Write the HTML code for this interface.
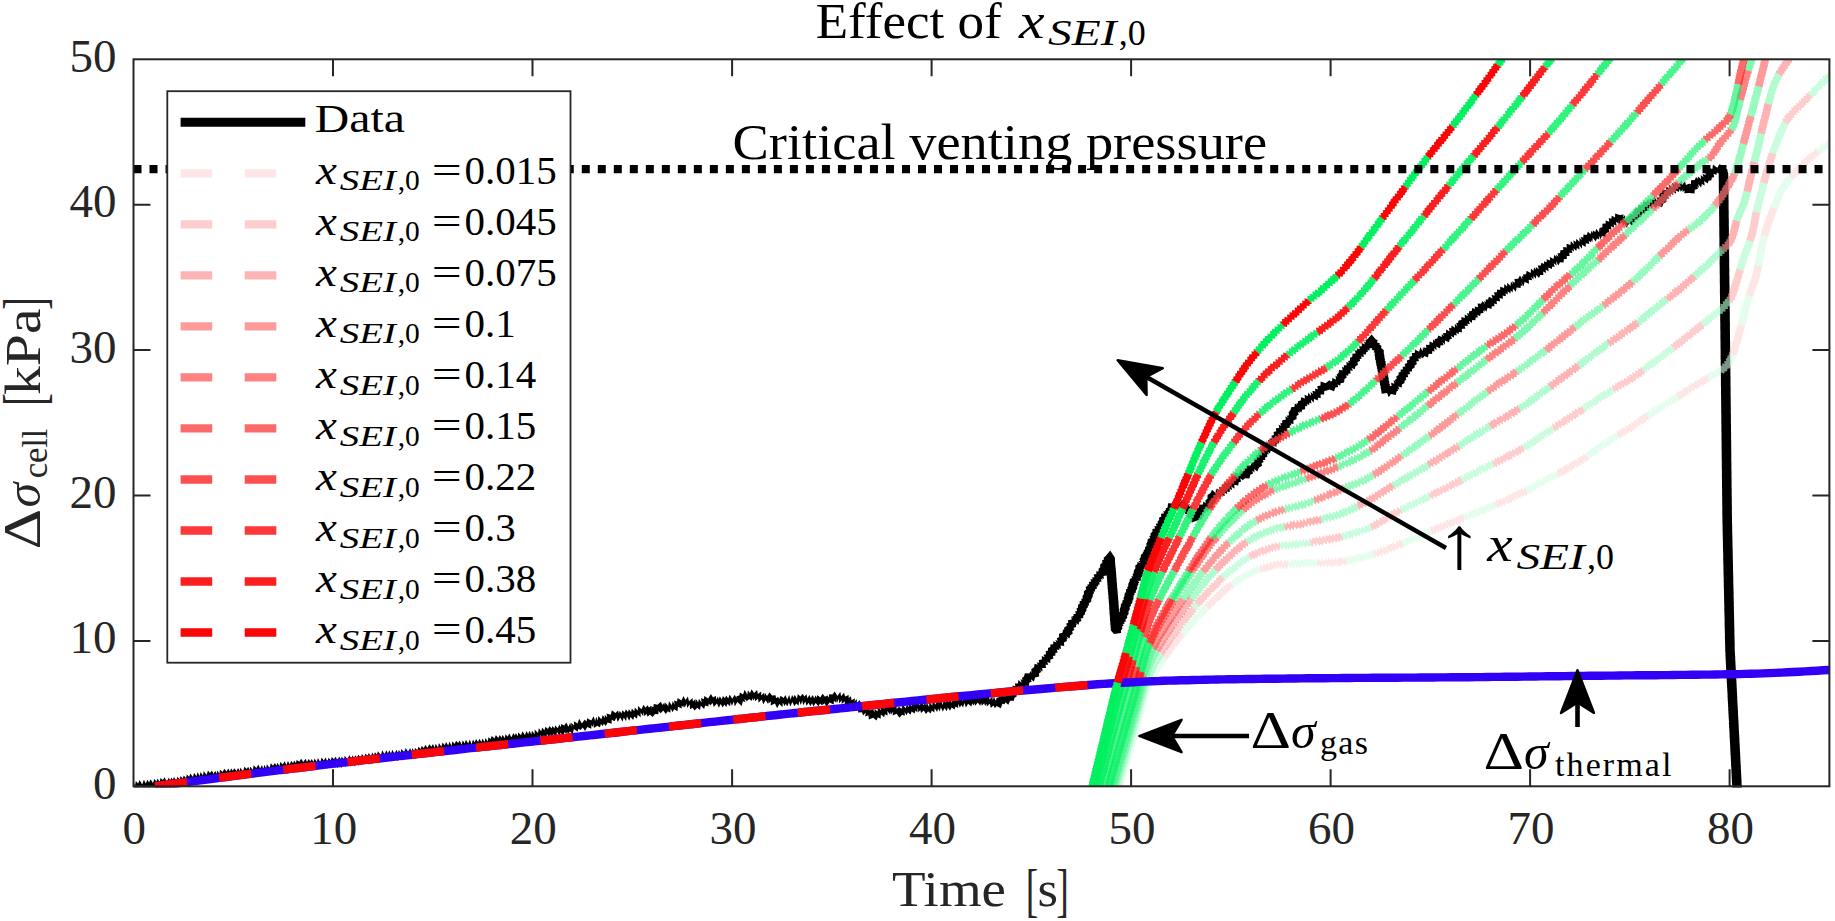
<!DOCTYPE html>
<html lang="en"><head><meta charset="utf-8"><title>Effect of x SEI,0</title>
<style>html,body{margin:0;padding:0;background:#fff;overflow:hidden}svg{display:block}</style></head><body>
<svg width="1835" height="921" viewBox="0 0 1835 921" font-family='"Liberation Serif", "DejaVu Serif", serif' fill="#262626">
<rect width="1835" height="921" fill="#fff"/>
<defs><clipPath id="ax"><rect x="133.5" y="59.3" width="1695.9" height="728.2"/></clipPath>
</defs>
<g clip-path="url(#ax)" fill="none" stroke-linejoin="miter" stroke-miterlimit="3">
<path d="M133.2 781.2L135.1 785.6L135.8 781L138.1 783.5L139.6 780.1L142.2 784.6L143.9 779.8L145.8 783.5L147.3 779.7L149.1 782.5L150.5 779.3L153 782.9L154.4 778.8L156.4 781.7L157.5 778.5L159.7 782.1L160.5 777.9L162.9 780.1L164.7 777.3L166.7 782L168.8 777.4L170.1 780.4L171.3 777.6L172.8 779.7L174 777.1L176.5 781.4L177.4 776.5L179.6 779.4L180.6 776L182.7 778.4L183.7 775.4L186 778L186.8 774.5L189.2 776.7L190.3 773.6L193 777L194.1 772.8L196.4 776.2L197.6 772.3L199.7 775.9L200.5 771.9L203 775.5L203.7 771.1L206.5 775L208 770.4L210 772.9L211.9 770.4L213.5 773.7L215.3 770.7L216.5 773.9L217.3 770.6L219.4 773.7L220 769.8L222.7 772.1L224.3 768.8L226.6 771.6L228.3 768.6L229.9 771.5L231.2 768.6L232.9 770.8L234.2 768.2L236.5 771.1L238.1 767.9L239.7 770.9L240.3 767.6L243 771.4L244.4 766.7L246.7 769.1L248.2 766.7L249.7 770.2L250.1 766.5L252.9 770.1L253.6 765.3L256.4 768L258.3 764.6L260.1 768.4L262 764.9L263.3 769.4L264.2 764.8L266.2 768.4L266.8 764.2L269.7 768L270.8 763.2L273.1 765.7L274.9 762.9L276.5 765.8L277.3 762.8L279.5 766.1L280.2 762L282.9 764.4L284.5 761.2L286.5 765L287.9 761L289.8 764.4L291.2 760.7L293.1 763.2L294.2 760.5L295.9 763L296.6 759.9L299.3 761.8L301.1 758.7L303.4 761.9L305.5 758.7L307 762.1L308.7 758.9L310.2 761.5L311.7 758.9L313.5 762.1L314.6 758.6L316.8 762.1L317.9 758.1L320.3 762.2L321.6 757.5L323.8 760.5L325.7 757.4L327.3 761.7L328.7 757.4L330.5 760.6L331.8 757.1L333.9 759.2L335.5 756.7L337.5 759.9L339.2 756.6L340.8 759.5L341.8 756.5L344 760.3L344.7 755.8L347.4 759L349.4 755.2L351.2 758.2L352.7 755.3L354.2 758.7L355.1 755.1L357.2 757.9L358.2 754.5L360.8 758.2L361.9 753.7L364.3 757.6L365.5 753.4L367.4 755.9L368.8 752.9L370.9 756.4L372.2 752.5L374.1 755.6L374.9 752.2L377 754.6L377.9 751.2L381 755.3L382.2 750.3L384.5 754.3L386.3 750.2L387.9 753.6L389.2 750.2L391 753.5L392.4 749.8L394.5 754L396.4 749.7L398 753.1L398.9 749.8L400.9 753.6L401.1 749.1L404.2 752.1L405.8 747.9L408.1 751.8L410.2 748.1L411.4 751.8L412.5 748.1L414.3 751.5L415 747.7L417.4 750.2L418.5 746.8L420.7 749L421.6 746.1L423.9 747.9L425.2 745.1L427.7 747.7L429.2 744.3L431.4 746.8L432.9 744.1L434.7 747.8L435.6 743.8L438 747.6L438.9 743.1L441.4 746.8L442.4 742.4L444.7 745.2L446.1 741.9L448.2 745.5L449.5 741.6L451.5 745.9L452.4 741.2L454.6 743.9L456.1 740.7L458.1 743L459.7 740.5L461.6 744.7L462.7 740.3L464.7 743.6L465.9 739.8L468.2 743.5L469.8 739.5L471.6 744.2L473 739.4L474.7 742.4L476 739.1L478.1 742.1L479.4 738.7L481.4 742.1L482.5 738.4L484.6 741.9L485.4 737.9L487.9 741.4L488.4 737.2L490.6 738.9L491.7 736.1L494.5 738.6L495.9 735.1L498.2 737.9L499.8 734.9L501.5 737.8L502.6 734.7L504.7 738.3L505.5 734.2L507.8 736.8L509.1 733.5L511.5 737.3L513.3 733.1L514.9 735.6L515.9 733.1L517.7 736.2L518.2 732.5L521.1 735.3L522.4 731.3L524.9 735L526.5 731L528.2 734.2L529.4 730.8L531.4 734.4L531.9 730.4L534.6 734.2L534.7 729.4L538 733.1L538.8 728.2L541.3 731.3L542.1 727.5L544.4 730.3L545.4 726.7L547.9 729L549.6 726.1L551.5 728.5L552.6 725.9L554.4 728.4L555.3 725.4L557.8 728.2L559.2 724.4L561 727.3L561.1 724L564.2 725.4L566.3 722.6L568.4 726.8L570.2 722.8L571.4 727.1L571.1 722.7L574.2 725.5L573.8 721.2L577.6 723.4L579.2 718.8L581.9 723.5L584.7 719.5L585 723.5L584.8 719.7L586.6 721.4L587.1 718.2L591.2 720.5L593.6 716.2L595.2 721L596.2 716.7L597.9 720.4L598.2 716L601.4 719.3L602.7 714.9L604.8 718L604.8 714.8L607 717.3L606.6 713.5L610.7 714.8L611.9 710.2L615.3 712.9L618.1 710.4L618.8 713.6L619.7 710.7L621.4 713.6L622.5 710.3L624.5 712.4L625.9 709.6L628 712L628.9 709.2L631.1 712L631.8 708.5L634.4 711.3L634.7 707.5L637.8 710.5L638 706.1L641.5 709.2L643.5 704.8L645.5 707.8L647.6 705.2L649.1 707.8L650.8 705.8L651.7 710L651.2 705.9L653.3 707.3L653.8 704L657.6 704.7L660.7 701.7L662.6 705.1L664.3 702.6L665 705.4L665.4 702.5L668.2 706.1L669 701.3L671.8 705.2L672.7 700.9L674.7 704.8L674 700.4L677 701.5L677.6 697.9L681.5 700.6L683.5 696.1L685.5 700L687.9 696.6L689 701.3L692.5 698L692.9 701.6L695.4 699.1L695.7 702.5L696.4 699.3L698.2 702.6L698.9 698.7L701.6 702.5L701 698L703.9 699.3L704.3 695.9L708.2 698.5L710.9 694L713.1 697.5L715.9 695.7L716.1 699.4L717.9 696.4L718.7 699.3L719.8 696.3L721.8 699.5L722.9 695.9L725 698.2L726.2 695.4L728.2 698.4L729.7 694.6L732.2 698.8L734.7 694.8L736.2 697.6L738.1 695.4L738 698.8L736.3 696.2L739.4 695.6L739.9 692.5L743 694.4L744.7 689.8L747.3 694.7L747.9 690.2L750 693.2L751.6 689.3L754.1 693.1L757.1 690L757.9 694.1L761.1 691.6L761.3 695.5L763.9 692.7L764.1 696.1L764.9 692.8L767 695.9L769.6 692.4L772 695.6L775.5 695.3L776.1 698.2L777.7 697L777.3 699.4L777.8 696.7L779.5 698.8L780.5 695.7L783.6 697.9L785.5 695L787.3 699.5L789.1 695L790.6 699.5L792.1 695.1L793.6 697.5L794.7 694.8L796.9 698.4L797.8 694L800.5 696.5L802.6 693.8L804.4 696.4L806.5 694.3L807.5 698.4L809.4 694.7L810.8 698.1L812.8 694.9L814.2 698.6L815.6 695.2L816.7 697.8L817.3 694.9L820.2 697.6L822.6 693.7L825 696.8L827.7 695.3L827.7 698.1L827.3 695.6L828.9 697.5L829.1 694.3L832.5 694.5L834.7 691.5L837.4 696.1L840.3 691.8L841.1 696.3L844 692.8L845.1 696.5L848.6 695L848.8 698.1L851 696.3L851.5 700.3L855 698.3L854.6 701.5L856.9 699.1L856.8 703.1L859.8 700L860.9 703.4L864.2 703.2L863.7 706.6L866 704.9L865.3 709.2L869.2 706L869.4 710.4L873.4 709.1L873.2 711.9L873.8 709.6L874.3 712.5L874.8 709.1L877.5 711.4L878 707.7L880.9 710L881.2 706.4L884.5 708.8L885.1 704.5L888.2 707.1L890 703.3L892.5 707.4L896.4 704.7L896.7 709.1L899.3 706.5L899 710.9L898.6 706.4L901.6 708.8L902.6 704.5L905.7 708.2L906.9 703.9L908.8 707.3L909.3 703.4L912 706.6L912.2 702.3L915.2 704L917.3 701L919.5 705.2L922.5 701.8L923.4 705.2L925.5 702.7L926 705.7L926.9 702.7L929.1 707L929.4 702.1L932.2 705.4L933.1 701L935.7 704.7L936.7 700.3L939.2 702.9L941.2 700.1L942.7 705L943.8 700L945.6 702.7L947 699.6L949 702.3L949.7 699.4L952 702.7L952.1 698.5L955.1 700.6L956.3 696.8L959.1 699.1L960.6 696.3L962.6 700.9L964.5 696L966 700.7L966.7 696.2L968.6 699.1L969 695.3L972.2 697.2L974.8 694.2L976.4 698.1L977.9 694.7L979 697.3L981 694.2L982.9 698.2L984.5 694.6L986.1 697L988.8 695.1L989.5 699.6L992.5 696.6L992.5 700.3L994.1 696.9L995.5 700.4L997.7 697.2L997.7 700.5L996.2 697.9L999.1 697.3L1000.7 694L1004.2 696.7L1006 693.4L1006.4 696.2L1005.3 694L1007.8 695.5L1006.9 692.3L1009.7 691.5L1009.7 688.4L1012.7 688.4L1012.5 685.5L1015.5 686.3L1014.8 683.4L1017.9 683.4L1018.4 680L1021.7 682.7L1020.5 679.1L1022.6 680.3L1021.9 677.9L1024 676.6L1024.8 673.2L1029.1 673.6L1031.1 670.7L1031.3 673.4L1029.6 671.9L1031.7 672.4L1031.2 669.2L1034 667.2L1034.7 663.7L1037.7 664.7L1036.8 662.3L1039.2 662.7L1038.7 660L1041.9 659.4L1041.8 656.1L1044.7 657.2L1043.5 654.8L1046.1 654.2L1045.7 651.3L1048.1 650.4L1048 647.9L1050.3 647.1L1050.3 644.6L1053.2 644.3L1053.3 641.2L1056.4 642.6L1055.3 639.8L1057.8 640.9L1056.7 638.4L1059.1 637.1L1058.9 633.7L1062.4 632.7L1063.1 629.3L1064.9 632.1L1062.9 630.2L1064.2 629.6L1064.3 627.3L1066.8 625.9L1066.3 623.6L1068.2 622.7L1068.1 620.1L1071.6 619.8L1071.4 616.3L1073.7 618.5L1072 616.3L1073.6 616.1L1073.5 614L1076 613.7L1075 611.6L1077.1 610.9L1076.4 608.8L1078.1 607.4L1077.9 605.1L1079.8 603.6L1079.6 601.2L1081.8 600.4L1081.2 598.8L1082.8 598.4L1082.4 596.3L1083.9 594.1L1083.9 591.3L1086.1 589.5L1085.7 586.8L1087.7 586.1L1087.3 584.5L1089.3 584.2L1088.8 582L1091.2 581.5L1090.5 579.2L1092.7 579.2L1092 577.4L1094.4 577.2L1093.6 574.5L1096.4 574L1096.2 571.2L1098.4 571.8L1097.6 570.2L1099.1 571L1098.4 569.1L1100.2 567.3L1100.1 564.5L1102.4 562.8L1102.1 560.3L1104 559.6L1103.6 557.8L1105.5 556.3L1110.2 550.4L1114.8 557.6L1115 559.8L1115 562L1115.3 563.9L1115.2 565.2L1115.5 566.1L1115.5 567.3L1115.8 568.7L1115.8 570.5L1116.1 572.3L1116.1 573.8L1116.3 575.1L1116.3 576.8L1116.6 578.7L1116.6 580.9L1116.9 582.8L1116.9 584.2L1117.1 585.6L1117.1 587.3L1117.4 588.8L1117.4 590.3L1117.7 591.8L1117.7 593.4L1117.9 595L1118 596.9L1118.2 598.7L1118.2 600.1L1118.5 601.5L1118.5 603.2L1118.7 605.4L1118.8 607.9L1119 610.2L1119 612.3L1119.3 613.9L1119.3 615.5L1119.5 617.4L1119.6 619.5L1119.8 621.6L1119.8 623.4L1120.1 625.1L1120.1 626.5L1120.4 628L1120.4 629.9L1119.7 628.8L1112.5 629.5L1112.3 627.7L1113.6 626.1L1113.5 623.7L1115.3 622.1L1114.9 620.1L1116.9 619.5L1116.3 617.5L1118 617.3L1117.3 615.8L1118.7 614.8L1118.5 613.1L1119.7 611.4L1119.7 609L1120.7 606.7L1120.9 604.2L1122.5 602.4L1122.3 600.4L1123.9 599.9L1123.4 598.2L1124.4 596.2L1124.6 593.7L1126.1 591.6L1126 589.2L1127.6 588.4L1127.2 587.2L1128.3 586L1128.3 583.7L1129.5 581.6L1129.8 579.1L1132 578L1131.5 576.1L1133.5 576.5L1132.5 574.8L1133.6 573.3L1133.8 570.7L1135.4 568.2L1135.3 565.5L1137.4 564.1L1137.3 561.9L1140 562.9L1138.3 560.9L1140.2 560.9L1139.4 559L1140.7 557.2L1140.9 554.7L1142.9 553.3L1142.8 551.4L1144.1 551.7L1143.6 550.3L1145 549.2L1145 547.2L1146.6 546L1146.3 543.7L1147.5 541.6L1147.8 539.1L1150.2 538L1149.3 536.1L1150.6 535.7L1150.5 533.5L1152.5 531.6L1152.4 529.1L1155.2 528.5L1154.3 526L1156.7 526.2L1155.8 523.8L1158 523.3L1157.4 521.3L1159.2 520.2L1159 517.8L1161.3 516.5L1161 513.7L1163.9 513.6L1163.3 511L1165.3 511.5L1164.7 509.7L1166 510.2L1165.7 508.6L1167.7 507.2L1168 503.2L1172.6 503.4L1173.6 499.8L1176.2 502.1L1177 498.8L1180 502.6L1184.2 498.3L1185.6 502.9L1187.9 502.3L1186.5 505.4L1189.6 503.9L1189.1 506.5L1191.9 506L1191.8 509L1194.2 509.5L1193.8 512.4L1197.2 512.8L1195.9 516.2L1194.2 513.3L1194.2 514.8L1194.2 512.1L1196.3 510.7L1196.5 508.3L1199 507.4L1199.2 504.5L1202.6 504.7L1203.7 501.3L1206.1 505.1L1204.3 501.7L1206.2 503.3L1205.2 500.6L1207.5 498.7L1207.5 495.1L1210.5 493.1L1212 489.8L1215.6 493.1L1216 488.6L1217.8 492.1L1216.7 488.5L1219.7 490.3L1218.8 486.7L1222 487.3L1221.9 484.2L1224.4 485.3L1224.1 482.4L1227.3 483L1227.6 479.8L1230.6 482.4L1229.5 478.9L1231.5 479.5L1231.3 477L1234.5 476.2L1234.7 472.5L1239 473.5L1240.8 469.1L1243.2 472.3L1243.4 469.4L1244 471.9L1243.3 469.3L1245.9 468L1246.8 464.7L1250.7 465.4L1251.5 461.8L1254.2 465.1L1252.3 462.3L1254 462.2L1253.6 459.3L1256 457.7L1255.8 455.1L1258.3 454.9L1257.6 452.8L1259.8 452.4L1259.4 449.7L1262 448.8L1262.2 445.9L1264.8 447.2L1263.5 445L1266 445.4L1265.4 442.6L1268.9 443.3L1267.9 440L1269.9 440.5L1269.5 438.6L1271.9 438.4L1271.4 435.8L1274 434.9L1273.5 432.1L1276.3 431.2L1275.8 428.2L1279.1 427.9L1278.7 424.8L1281.3 426L1280.1 423.6L1282.2 423L1282.2 420.3L1285.7 419.8L1285.5 416.3L1287.9 417.9L1286.7 415.8L1289 415.2L1288.6 412.2L1290.6 410.1L1291.2 407.3L1294.5 406.8L1294.8 403.5L1297.1 404.7L1296.5 402.8L1298 403.4L1297.9 401.3L1300.7 400.4L1301.2 397.2L1304.9 398.6L1304.6 394.7L1307.7 396.3L1308.3 392.8L1311.1 396.1L1310.6 392L1313 393.9L1312.4 390.8L1315.3 391.4L1315 388.7L1317.9 389.3L1317.2 386.3L1320.5 385.5L1320.6 381.4L1325.6 383.2L1329.7 380L1330.2 383.1L1330.8 380.9L1330.8 385L1329.1 381.3L1332 381.2L1332.3 377.9L1336 379.4L1335.5 375.6L1337.5 377L1336.6 374.7L1338.6 372.9L1339.1 370.1L1342.7 370.2L1341.9 367L1344.1 367.5L1343.7 365.2L1346.6 365.2L1346.4 362.1L1348.9 362.9L1348.1 360.9L1350.1 360.4L1350 357.9L1352.4 356.5L1352.4 353.7L1355.6 353.6L1354.9 350.6L1357.2 350.6L1357 348.4L1360 349.2L1358.9 346.4L1361.9 346.2L1361.7 342.9L1365 344.5L1363.8 341.4L1366.1 342.5L1365.3 339.9L1367.4 339.3L1371.6 334.5L1375.9 339.4L1377.7 340L1377 342.5L1379.7 342.9L1379.6 344.9L1381.4 345.4L1381.2 347.9L1383.8 350.2L1383.8 353.5L1384.4 355.8L1384.4 357.7L1385 358.9L1384.7 360.2L1385.6 361.6L1385.5 363.4L1386.2 364.7L1386.1 366.2L1386.9 367.5L1386.8 369L1387.5 370.7L1387.4 372.7L1388.1 374.6L1388.2 376.6L1388.7 378.5L1388.6 380.2L1389.3 381.5L1389.2 383.2L1389.9 384.6L1389.7 386.2L1390.5 388L1389.1 388.8L1388.8 385.9L1389.1 389.5L1389.5 385.9L1390.2 389.2L1388.5 386.6L1391.6 385.8L1391.1 382.7L1394.4 383.7L1393.6 380.3L1396 382.1L1394.5 379.9L1396.6 378.9L1396.4 376.2L1398.7 375.1L1398.5 372.6L1400.7 371.9L1400.5 369.7L1403 369.2L1402.6 366.7L1405.4 366.6L1404.6 363.9L1407.2 363.1L1406.9 360.4L1409.7 359.6L1409.3 356.7L1412.2 356.1L1411.8 353.1L1414.8 353.1L1415 349.5L1419.1 351.8L1420.4 347.3L1422.5 351.1L1423 347.3L1424.6 350.7L1423.4 347.2L1426.3 348.1L1426 344.7L1429.3 344.9L1429.6 341.5L1432.9 343L1433.2 339.6L1435.1 341.1L1434.7 338.9L1437.3 338.6L1438.3 335.5L1441.8 337L1441.8 333.9L1444 336.2L1442.8 333.2L1446 333.1L1446.1 329.6L1449.8 331.6L1448.8 327.9L1451.2 328.3L1451.6 325.6L1455 327.7L1454.8 323.8L1457.5 326.6L1456.1 323.2L1458.2 322.8L1458.5 320.4L1461.4 320.1L1461.4 317.1L1464.8 317.9L1464.7 314.4L1467.8 316.2L1467 313L1469.1 313.7L1469 311.2L1471.7 311L1472.2 308.1L1475.1 309L1474.7 306.4L1478 307.3L1477.7 303.5L1481 303.8L1482.6 300.9L1484.8 303.9L1484.2 300.8L1485.8 302L1485.8 299.6L1488.2 299.5L1488.8 296.8L1492.5 298.5L1491.5 294.8L1494.7 295.8L1494.1 292.3L1496.9 292.3L1497.1 289.5L1500.1 289.9L1500.2 286.7L1504.1 288.1L1504.3 284.1L1507.1 286.6L1507.2 282.7L1510.5 286.1L1510.9 281.4L1513.1 284.6L1512.1 281.3L1515 282.7L1514.4 279L1518.1 278.8L1520 275.4L1522.3 279.2L1521.8 275.4L1523.4 277.2L1523 274.5L1526.1 274.2L1526.6 270.7L1530.7 273.1L1531 268.5L1533.5 271.1L1534 267.6L1536 269.6L1535.8 267.1L1538.7 269.3L1537.9 265.5L1540.8 265.6L1541.4 262.8L1544.1 264.1L1544 261.3L1546.7 262.3L1546.7 259.3L1550 260.6L1549.9 256.9L1553.5 259L1554.3 254.7L1556.4 256.9L1556.1 254.6L1558.4 256.7L1557.5 253.5L1560.1 252.9L1560.4 250.2L1563.2 249.9L1563.2 247.1L1566.7 247.4L1566.6 243.7L1570.4 245L1570.9 241.1L1573.8 244.6L1573.4 240.2L1575.9 241.9L1576.4 238.8L1579.5 242L1579.4 237.6L1581.8 240.6L1580.7 237.1L1583.3 237.5L1583.5 234.4L1586.8 235L1587.8 231.7L1590.6 234.1L1591.6 230.8L1593 233.2L1592.8 230.6L1595.3 232L1596.2 228.8L1599.2 232.5L1599 228.2L1600.9 231.1L1599.5 227.9L1602.4 227.2L1602.4 223.7L1605.7 223.5L1605.7 220.5L1609.3 221.7L1608.7 217.9L1611.5 218.7L1611.6 215.7L1615.1 217.4L1615.1 213.5L1619.5 214.9L1623.6 214.5L1623 217.5L1624.9 215.1L1624.9 219.1L1628.2 216.3L1627.1 221L1625.9 216.4L1628.7 219.3L1627.5 215.7L1629.6 216.1L1629.8 213.5L1633.2 214.5L1632.3 211.5L1634.3 211.4L1634.5 208.7L1637.7 207.9L1639 204.4L1641.5 206.3L1640.6 204.1L1643.3 205.3L1642.8 201.8L1646.5 202L1648.1 198.8L1650.2 202.8L1649.7 198.5L1652.2 199.6L1654.6 196.7L1656.6 200.8L1657.6 197.2L1658.1 200.8L1656.5 197.9L1659.1 197.2L1659.1 193.9L1661.9 192.6L1662.5 189.6L1666.1 190.2L1666 186.7L1669 187.9L1669.2 184.7L1672.6 187.4L1672.1 183.1L1674.5 184.2L1674.6 181.8L1678.7 184L1682 180.4L1682.3 184.7L1685 181.1L1685.9 185L1689.7 183.6L1689.8 187.1L1690.2 185L1688.8 187.6L1687.9 184.9L1690.9 183.9L1691.1 180.2L1694.7 179.9L1696.1 177.1L1698 179.1L1697.9 176.5L1701 178.9L1700.7 175L1703.5 177.2L1702.5 173.9L1705.8 174.9L1704.9 171.6L1707.5 170.8L1708.3 167.8L1712.4 168.9L1713 164.4L1717.2 167.8L1719.5 165.1L1718.7 166.7L1719.5 164L1723.8 167.2L1727.6 169.7L1727.4 171.3L1728.1 172.7L1728.2 174.6L1728.3 176.6L1728.3 178.3L1728.4 180L1728.4 181.7L1728.4 183.4L1728.4 185.1L1728.4 186.8L1728.4 188.5L1728.5 190.2L1728.5 191.9L1728.5 193.6L1728.5 195.3L1728.5 197L1728.5 198.7L1728.6 200.4L1728.6 202L1728.6 203.7L1728.6 205.4L1728.6 207.1L1728.6 208.8L1728.7 210.5L1728.7 212.2L1728.7 213.9L1728.7 215.6L1728.7 217.3L1728.8 219L1728.8 220.7L1728.8 222.4L1728.8 224.1L1728.8 225.8L1728.9 227.4L1728.9 229.1L1728.9 230.8L1728.9 232.5L1728.9 234.2L1728.9 235.9L1729 237.6L1729 239.3L1729 241L1729 242.7L1729 244.4L1729 246.1L1729.1 247.8L1729.1 249.5L1729.1 251.2L1729.1 252.9L1729.1 254.5L1729.1 256.2L1729.2 257.9L1729.2 259.6L1729.2 261.3L1729.2 263L1729.2 264.7L1729.2 266.4L1729.3 268.1L1729.3 269.8L1729.3 271.5L1729.3 273.2L1729.3 274.9L1729.4 276.6L1729.4 278.3L1729.4 279.9L1729.4 281.7L1729.4 283.4L1729.5 285.1L1729.5 286.8L1729.5 288.5L1729.5 290.2L1729.5 291.9L1729.5 293.6L1729.6 295.3L1729.6 297L1729.6 298.7L1729.6 300.4L1729.6 302.1L1729.7 303.8L1729.7 305.5L1729.7 307.2L1729.7 308.9L1729.7 310.6L1729.8 312.3L1729.8 314L1729.8 315.7L1729.8 317.4L1729.8 319.1L1729.8 320.8L1729.9 322.5L1729.9 324.2L1729.9 325.9L1729.9 327.6L1729.9 329.3L1729.9 331L1730 332.7L1730 334.4L1730 336.1L1730 337.8L1730 339.5L1730.1 341.2L1730.1 342.9L1730.1 344.6L1730.1 346.3L1730.1 348L1730.2 349.7L1730.2 351.4L1730.2 353.1L1730.2 354.8L1730.2 356.5L1730.2 358.2L1730.3 359.9L1730.3 361.7L1730.3 363.4L1730.3 365.1L1730.3 366.8L1730.4 368.5L1730.4 370.2L1730.4 371.9L1730.4 373.6L1730.4 375.3L1730.5 377L1730.5 378.7L1730.5 380.4L1730.5 382.1L1730.5 383.8L1730.5 385.5L1730.6 387.2L1730.6 388.9L1730.6 390.6L1730.6 392.3L1730.6 394L1730.6 395.7L1730.7 397.4L1730.7 399.1L1730.7 400.8L1730.7 402.5L1730.7 404.2L1730.8 405.9L1730.8 407.6L1730.8 409.3L1730.8 411L1730.8 412.7L1730.9 414.4L1730.9 416.1L1730.9 417.8L1730.9 419.5L1730.9 421.2L1730.9 422.9L1731 424.6L1731 426.3L1731 428L1731 429.7L1731 431.4L1731.1 433.1L1731.1 434.8L1731.1 436.5L1731.1 438.2L1731.1 439.9L1731.2 441.7L1731.2 443.4L1731.2 445.1L1731.2 446.8L1731.2 448.5L1731.2 450.2L1731.3 451.9L1731.3 453.6L1731.3 455.3L1731.3 457L1731.3 458.7L1731.3 460.4L1731.4 462.1L1731.4 463.8L1731.4 465.5L1731.4 467.2L1731.4 468.9L1731.5 470.6L1731.5 472.3L1731.5 474L1731.5 475.7L1731.5 477.4L1731.6 479.1L1731.6 480.8L1731.6 482.5L1731.6 484.2L1731.6 485.9L1731.6 487.6L1731.7 489.3L1731.7 491L1731.7 492.7L1731.7 494.4L1731.7 496.1L1731.8 497.8L1731.8 499.5L1731.8 501.2L1731.8 502.9L1731.8 504.6L1731.9 506.3L1731.9 508L1731.9 509.7L1731.9 511.4L1731.9 513.1L1731.9 514.8L1732 516.5L1732 518.2L1732 519.9L1732 521.6L1732.1 523.3L1732.1 525L1732.2 526.7L1732.2 528.4L1732.2 530.2L1732.2 531.9L1732.3 533.6L1732.3 535.3L1732.4 537L1732.4 538.7L1732.4 540.4L1732.5 542.1L1732.5 543.8L1732.5 545.6L1732.6 547.3L1732.6 549L1732.7 550.7L1732.7 552.4L1732.7 554.1L1732.8 555.8L1732.8 557.5L1732.8 559.2L1732.9 560.9L1732.9 562.7L1733 564.4L1733 566.1L1733 567.8L1733 569.5L1733.1 571.2L1733.1 572.9L1733.2 574.6L1733.2 576.3L1733.3 578.1L1733.3 579.8L1733.3 581.5L1733.3 583.2L1733.4 584.9L1733.4 586.6L1733.5 588.3L1733.5 590L1733.6 591.7L1733.6 593.4L1733.6 595.2L1733.6 596.9L1733.7 598.6L1733.7 600.3L1733.8 602L1733.8 603.7L1733.8 605.4L1733.9 607.1L1733.9 608.8L1733.9 610.6L1734 612.3L1734 614L1734.1 615.7L1734.1 617.4L1734.1 619.1L1734.2 620.8L1734.2 622.5L1734.2 624.2L1734.3 625.9L1734.3 627.7L1734.4 629.4L1734.4 631.1L1734.4 632.8L1734.4 634.5L1734.5 636.2L1734.5 637.9L1734.6 639.6L1734.6 641.3L1734.7 643.1L1734.7 644.8L1734.7 646.5L1734.7 648.2L1734.8 649.8L1734.8 651.5L1735 653.2L1735 654.9L1735.2 656.6L1735.2 658.3L1735.3 660L1735.4 661.7L1735.5 663.4L1735.5 665.1L1735.7 666.8L1735.7 668.5L1735.9 670.2L1735.9 671.9L1736 673.6L1736 675.3L1736.2 677L1736.2 678.7L1736.4 680.4L1736.4 682.1L1736.6 683.8L1736.6 685.5L1736.7 687.2L1736.8 688.9L1736.9 690.6L1736.9 692.3L1737.1 694.1L1737.1 695.8L1737.3 697.5L1737.2 699.2L1737.4 700.9L1737.4 702.6L1737.6 704.3L1737.6 706L1737.8 707.7L1737.8 709.4L1738 711.1L1738 712.8L1738.1 714.5L1738.1 716.2L1738.3 717.9L1738.3 719.6L1738.5 721.3L1738.5 723L1738.7 724.7L1738.7 726.4L1738.8 728.1L1738.8 729.8L1739 731.5L1739 733.2L1739.2 734.9L1739.2 736.6L1739.4 738.3L1739.4 740.1L1739.5 741.8L1739.6 743.5L1739.7 745.2L1739.7 746.9L1739.9 748.6L1739.9 750.3L1740.1 752L1740.1 753.7L1740.2 755.4L1740.3 757.1L1740.4 758.8L1740.4 760.5L1740.6 762.2L1740.6 763.9L1740.8 765.6L1740.8 767.3L1740.9 769L1741 770.7L1741.1 772.4L1741.1 774.1L1741.3 775.8L1741.3 777.5L1741.5 779.2L1741.5 780.9L1741.6 782.6L1741.6 784.4L1741.8 786L1741.9 787.7L1742 789.4L1742.1 791.1L1742.2 792.8L1742.3 794.5L1742.5 796.2L1742.5 797.9L1742.7 799.5L1742.7 801.2L1742.9 802.9L1742.9 804.6L1743.1 806.3L1743.1 808L1743.3 809.7L1733.8 810.3L1733.6 808.6L1733.6 806.9L1733.4 805.2L1733.3 803.5L1733.1 801.8L1733.1 800.1L1732.9 798.5L1732.9 796.8L1732.7 795.1L1732.7 793.4L1732.5 791.7L1732.5 790L1732.3 788.3L1732.3 786.6L1732.1 784.8L1732.1 783.1L1731.9 781.4L1731.9 779.7L1731.7 778L1731.7 776.3L1731.6 774.6L1731.5 772.9L1731.4 771.2L1731.4 769.5L1731.2 767.8L1731.2 766.1L1731 764.4L1731.1 762.7L1730.9 761L1730.9 759.3L1730.7 757.6L1730.7 755.9L1730.5 754.2L1730.5 752.5L1730.3 750.8L1730.3 749.1L1730.2 747.4L1730.2 745.7L1730 744L1730 742.2L1729.8 740.5L1729.8 738.8L1729.6 737.1L1729.6 735.4L1729.5 733.7L1729.5 732L1729.3 730.3L1729.3 728.6L1729.1 726.9L1729.1 725.2L1728.9 723.5L1729 721.8L1728.8 720.1L1728.8 718.4L1728.6 716.7L1728.6 715L1728.4 713.3L1728.4 711.6L1728.2 709.9L1728.3 708.2L1728.1 706.5L1728.1 704.8L1727.9 703.1L1727.9 701.4L1727.7 699.7L1727.7 697.9L1727.5 696.2L1727.6 694.5L1727.4 692.8L1727.4 691.1L1727.2 689.4L1727.2 687.7L1727 686L1727 684.3L1726.8 682.6L1726.8 680.9L1726.7 679.2L1726.7 677.5L1726.5 675.8L1726.5 674.1L1726.3 672.4L1726.3 670.7L1726.1 669L1726.1 667.3L1726 665.6L1725.9 663.9L1725.8 662.2L1725.8 660.5L1725.6 658.8L1725.6 657.1L1725.4 655.4L1725.5 653.6L1725.3 652L1725.2 650.2L1725.2 648.4L1725.2 646.7L1725.1 645L1725.1 643.3L1725 641.6L1725 639.8L1724.9 638.1L1724.9 636.4L1724.9 634.7L1724.9 633L1724.8 631.3L1724.8 629.6L1724.7 627.9L1724.7 626.2L1724.6 624.4L1724.6 622.7L1724.6 621L1724.6 619.3L1724.5 617.6L1724.5 615.9L1724.4 614.2L1724.4 612.5L1724.3 610.8L1724.3 609.1L1724.3 607.3L1724.3 605.6L1724.2 603.9L1724.2 602.2L1724.1 600.5L1724.1 598.8L1724.1 597.1L1724 595.4L1724 593.7L1724 591.9L1723.9 590.2L1723.9 588.5L1723.8 586.8L1723.8 585.1L1723.8 583.4L1723.7 581.7L1723.7 580L1723.7 578.3L1723.6 576.6L1723.6 574.8L1723.5 573.1L1723.5 571.4L1723.5 569.7L1723.4 568L1723.4 566.3L1723.4 564.6L1723.3 562.9L1723.3 561.2L1723.2 559.4L1723.2 557.7L1723.2 556L1723.2 554.3L1723.1 552.6L1723.1 550.9L1723 549.2L1723 547.5L1722.9 545.8L1722.9 544.1L1722.9 542.3L1722.9 540.6L1722.8 538.9L1722.8 537.2L1722.7 535.5L1722.7 533.8L1722.7 532.1L1722.6 530.4L1722.6 528.7L1722.6 526.9L1722.5 525.2L1722.5 523.5L1722.4 521.8L1722.4 520.1L1722.4 518.3L1722.4 516.6L1722.3 514.9L1722.3 513.2L1722.3 511.5L1722.3 509.8L1722.3 508.1L1722.3 506.4L1722.2 504.7L1722.2 503L1722.2 501.3L1722.2 499.6L1722.2 497.9L1722.1 496.2L1722.1 494.5L1722.1 492.8L1722.1 491.1L1722.1 489.4L1722 487.7L1722 486L1722 484.3L1722 482.6L1722 480.9L1722 479.2L1721.9 477.5L1721.9 475.8L1721.9 474.1L1721.9 472.4L1721.9 470.7L1721.9 469L1721.8 467.3L1721.8 465.6L1721.8 463.9L1721.8 462.2L1721.8 460.5L1721.7 458.8L1721.7 457.1L1721.7 455.4L1721.7 453.7L1721.7 452L1721.6 450.3L1721.6 448.6L1721.6 446.9L1721.6 445.2L1721.6 443.5L1721.6 441.8L1721.5 440.1L1721.5 438.3L1721.5 436.6L1721.5 434.9L1721.5 433.2L1721.4 431.5L1721.4 429.8L1721.4 428.1L1721.4 426.4L1721.4 424.7L1721.3 423L1721.3 421.3L1721.3 419.6L1721.3 417.9L1721.3 416.2L1721.3 414.5L1721.2 412.8L1721.2 411.1L1721.2 409.4L1721.2 407.7L1721.2 406L1721.2 404.3L1721.1 402.6L1721.1 400.9L1721.1 399.2L1721.1 397.5L1721.1 395.8L1721 394.1L1721 392.4L1721 390.7L1721 389L1721 387.3L1720.9 385.6L1720.9 383.9L1720.9 382.2L1720.9 380.5L1720.9 378.8L1720.9 377.1L1720.8 375.4L1720.8 373.7L1720.8 372L1720.8 370.3L1720.8 368.6L1720.8 366.9L1720.7 365.2L1720.7 363.5L1720.7 361.8L1720.7 360.1L1720.6 358.3L1720.6 356.6L1720.6 354.9L1720.6 353.2L1720.6 351.5L1720.6 349.8L1720.5 348.1L1720.5 346.4L1720.5 344.7L1720.5 343L1720.5 341.3L1720.4 339.6L1720.4 337.9L1720.4 336.2L1720.4 334.5L1720.4 332.8L1720.4 331.1L1720.3 329.4L1720.3 327.7L1720.3 326L1720.3 324.3L1720.3 322.6L1720.2 320.9L1720.2 319.2L1720.2 317.5L1720.2 315.8L1720.2 314.1L1720.2 312.4L1720.1 310.7L1720.1 309L1720.1 307.3L1720.1 305.6L1720.1 303.9L1720 302.2L1720 300.5L1720 298.8L1720 297.1L1720 295.4L1719.9 293.7L1719.9 292L1719.9 290.3L1719.9 288.6L1719.9 286.9L1719.9 285.2L1719.8 283.5L1719.8 281.8L1719.8 280.1L1719.8 278.4L1719.8 276.7L1719.8 275L1719.7 273.3L1719.7 271.6L1719.7 269.9L1719.7 268.2L1719.7 266.5L1719.6 264.8L1719.6 263.1L1719.6 261.4L1719.6 259.7L1719.6 258L1719.5 256.3L1719.5 254.6L1719.5 253L1719.5 251.3L1719.5 249.6L1719.5 247.9L1719.4 246.2L1719.4 244.5L1719.4 242.8L1719.4 241.1L1719.4 239.4L1719.4 237.7L1719.3 236L1719.3 234.3L1719.3 232.6L1719.3 230.9L1719.3 229.2L1719.3 227.6L1719.2 225.9L1719.2 224.2L1719.2 222.5L1719.2 220.8L1719.2 219.1L1719.2 217.4L1719.1 215.7L1719.1 214L1719.1 212.3L1719.1 210.6L1719.1 208.9L1719 207.2L1719 205.5L1719 203.8L1719 202.1L1719 200.5L1718.9 198.8L1718.9 197.1L1718.9 195.4L1718.9 193.7L1718.9 192L1718.9 190.3L1718.8 188.6L1718.8 186.9L1718.8 185.2L1718.8 183.5L1718.8 181.8L1718.8 180.1L1718.7 178.4L1718.7 176.7L1718.7 175.4L1718.8 174.2L1718.2 172.8L1718.3 171.2L1719.3 173.4L1721.9 171.3L1722.2 175L1718 172.4L1715 174.5L1715.9 171.4L1716.7 175L1713.6 173.7L1714.2 177.1L1711.8 177.7L1711.4 180.3L1708.5 180.7L1707.8 183.6L1704.1 181.1L1704.7 185.4L1701.9 183.9L1701.1 187.4L1698.2 183.9L1699 187.9L1697.3 186.2L1697.9 188.8L1694.8 189.8L1694.5 193.6L1689.1 193.1L1684.3 193.3L1684.6 190.4L1682.5 192.1L1682.7 189.4L1680.7 191.8L1679.8 188.5L1680.1 191L1679.3 189.1L1678.9 192.1L1676.1 190.5L1676 193.7L1672.9 191.5L1673.3 195.1L1670.5 193.4L1671 196.6L1668 195.3L1668.9 198.4L1666.6 199.1L1666.3 202L1663.4 203.5L1662 207.3L1657.8 205.4L1655.3 208.2L1655 204.9L1655.5 208L1652.7 204.8L1652.2 209.5L1649.5 205.9L1650.2 209.7L1648.9 208.2L1649.1 210.8L1645.9 211.1L1644.6 214.4L1641.9 210.9L1643.7 214.2L1641.9 214.3L1641.6 217L1638.5 217.7L1638.3 220.5L1635.1 219.2L1635.9 222.7L1633.2 222.8L1632.4 225.7L1629.3 223.5L1626.5 227.8L1624.6 223.4L1622.6 226.2L1622.5 221.9L1618.9 224.7L1618.5 221.3L1618.1 223.4L1618.9 220.9L1619.1 224L1615.9 221.7L1616.7 225.6L1613.7 224.5L1614.1 227.5L1610.8 226.3L1611.6 229.7L1608.8 229.1L1609.3 232.1L1606.4 233.2L1605.8 236.9L1601.8 236.1L1600.7 239.3L1598.7 235.6L1599.3 239.6L1596.9 238.6L1595.7 241.5L1592.8 237.8L1592.3 242.2L1590.9 240.1L1591.2 242.5L1588.7 240.8L1589.3 243.9L1585.9 243.3L1585.6 247.1L1582.1 244.7L1581.9 248.7L1579.1 245.1L1579.6 249.6L1576.9 248L1576.2 251.1L1573.5 248L1574.1 251.8L1571.5 249.8L1572.4 253L1569.2 252.7L1569.6 256L1566.8 256.1L1566.8 258.9L1563.8 259.2L1563.6 262.6L1559.9 262.2L1558.4 265.5L1556 261.3L1556.6 265.8L1553.7 262.9L1554.6 267L1552.2 266.5L1551.9 269L1548.3 267.5L1548.6 271.5L1545.6 269.6L1546.1 272.9L1543.1 271.6L1543.4 275.1L1540.3 274.9L1539 277.9L1536.3 275.1L1535.9 278.8L1533.4 276L1533.5 279.5L1531.1 276.9L1532.2 280.2L1528.7 279.8L1529 283.8L1524.6 281.9L1523.4 286.5L1521.3 282L1522.5 286.2L1520.8 285.2L1520.6 288.1L1516.6 287.6L1515.9 291.7L1512.9 288.6L1512.7 292.6L1510.7 290.5L1510.4 293.6L1507.5 291.3L1507.9 294.6L1505.6 293.3L1505.8 296.2L1502.6 295.5L1503 298.8L1499.5 297.9L1500.1 301.5L1496.6 300.7L1496.9 304.3L1494.2 303.4L1494.5 306.2L1491.9 306.2L1491.4 309.1L1487.6 307.7L1486.4 311.8L1484.5 309.2L1485 311.8L1483.2 310.4L1483.4 313L1480.7 313.2L1480.1 316L1477.3 314.9L1477.9 317.5L1475.7 317.6L1475.4 320.2L1472.2 320L1471.8 323L1468.9 320.8L1469.8 324.2L1467.5 323.7L1467.7 326L1464.7 325.7L1465.3 328.8L1461.9 328.8L1461.8 332.5L1458.8 331.8L1458.7 334.3L1456.2 332.5L1456.7 335.5L1454.2 335.1L1453.8 337.8L1450.8 335.7L1452 338.8L1449.7 339.3L1449 342.3L1445 340.6L1444.8 344.7L1442.5 341.9L1443.6 345.2L1440.6 345.2L1440 348.6L1436.3 346.5L1436.6 350.3L1433.9 348.1L1434.7 351.4L1432.3 351.1L1432.1 353.9L1428.7 353.7L1427.9 357.4L1424.5 356L1422.6 358.6L1421.5 355.9L1421.6 358.6L1420 356.5L1421 358.8L1418.2 358.4L1419 361.1L1416.2 361.4L1416.8 364.2L1414.7 365.4L1414.5 367.8L1412 368.9L1412 371.5L1409.4 371.6L1410.1 374.1L1407.6 374.5L1408.2 377L1405.7 377.4L1406.3 379.8L1404.6 380.8L1404.5 383L1401.9 384.4L1401.8 387.6L1398.3 386.4L1399.5 389.5L1397.5 388.7L1398.3 390.5L1396.7 391.2L1395.7 394.9L1390.9 393.9L1388.7 397.3L1387.1 392.9L1381.7 393.8L1381.1 389.5L1380.6 388L1380.8 386.5L1380 385L1380 383.4L1379.4 382L1379.4 380L1378.7 378.1L1378.8 376.1L1378.1 374.2L1378.2 372.3L1377.5 370.9L1377.6 369.5L1376.9 368.2L1377 366.7L1376.3 365.2L1376.4 363.5L1375.7 362.3L1376 360.9L1375.1 359.3L1375.1 357.1L1374.5 354.6L1375.1 352.7L1373.6 352.4L1374.5 350.4L1371.9 350.1L1372.3 347.7L1370.1 347.2L1370.1 345.4L1368.2 344.5L1371.6 341.2L1374.7 344.8L1371.8 344.9L1372.4 348L1369.6 348.2L1369.4 350.8L1367.3 349.5L1368.2 351.5L1366.3 352L1366 354.4L1363.4 354.3L1363.8 356.9L1361 356.4L1361.7 359L1359.6 358.8L1360.1 361L1357.5 362.1L1357.8 365.1L1355.3 366.5L1354.8 369.2L1351.7 368L1352.9 370.8L1350.2 370.6L1350.6 373.6L1348.2 373.7L1348.3 375.7L1346.1 375.3L1346.7 377.5L1344.5 378.9L1344.1 382.5L1340.6 383.2L1340.2 385.7L1337.6 384.4L1338.2 387.1L1335.3 387.5L1334.1 391.2L1329.6 389.6L1325.9 390.8L1326.5 386.4L1326.5 390.1L1326.4 387.4L1327.2 390.3L1324.2 391.2L1324.2 394.6L1320.5 394.5L1320.8 397.9L1318.1 397.7L1317.6 400.6L1314 398.7L1313.7 402.8L1310.9 399.5L1311.4 403.6L1309.3 402.4L1309.2 404.9L1306.8 403.9L1307.3 406.1L1305 406.3L1305.1 409.3L1302.1 409.7L1301.5 412.5L1299.3 410.9L1300.3 413L1297.8 412L1298.8 414.6L1296.5 416.1L1296.6 419.1L1293.4 420.4L1293.5 424L1290.7 423.6L1291.5 425.3L1289.8 425.2L1289.9 427.6L1286.8 428.4L1287.2 431.7L1284.1 431L1285.1 433.5L1283.1 433.3L1283.5 435.6L1281 436.5L1281.4 439.2L1279.3 440.5L1279.1 443L1276.6 444L1276.5 446.7L1273.1 445.7L1274.1 448.9L1271.9 448.1L1272.7 450.5L1270.4 451L1270.1 453.5L1267.4 452.1L1268.9 454.3L1266.9 454.2L1267.4 456.6L1265 457.7L1265.3 460.1L1262.8 460.1L1263.7 462.1L1261.6 463L1262 465.7L1258.9 467.7L1257.3 471.6L1254.1 469L1254.6 472.5L1252.3 470.6L1253.1 473.6L1250.3 474.7L1249.4 478.5L1245 478.2L1242.4 480.5L1241.6 475.8L1242.7 480.1L1240.3 478.3L1241.1 481.4L1238.6 482.4L1238.2 485.4L1234.3 484.8L1234.5 488.7L1231.3 486.5L1232.1 490L1229.7 488.9L1229.8 491.9L1227 491.4L1227.1 493.9L1224.1 492.5L1224.8 495.9L1221.4 495.2L1220.7 498.9L1217.7 496.3L1217.3 499.8L1216.3 497.9L1217.2 499.4L1215.6 499.5L1215.6 502.2L1213.3 504.4L1213 507.8L1209.3 508.6L1207.7 512.1L1206.1 509.3L1207.2 511.8L1205 509.9L1206.2 512.6L1203.6 513L1204.1 515.7L1202 516.7L1202 519.3L1197.2 520.5L1191.7 522.4L1190.7 518.6L1187.6 517.8L1187.4 514.6L1184.7 513.8L1185.2 512.4L1183.4 512.8L1184.2 509.8L1181.3 510.9L1182.1 507.9L1178.8 508.1L1181 505.8L1181.7 509.2L1179 505.4L1178.6 510.2L1175.9 507L1176 510.9L1174.8 509.2L1175.8 510.6L1174.2 512.4L1173.9 515.1L1171.5 516L1171.4 518.2L1168.7 516.9L1170 519.4L1168.1 518.7L1169 520.5L1167.5 521.7L1167.4 523.9L1165.4 525.4L1165.5 527.7L1163 528.2L1163.8 530.7L1161.8 531.4L1162 533.2L1160 533.3L1160.7 535.3L1158.9 536.7L1159.2 539.2L1156.6 540.3L1157.6 542.3L1155.9 542.5L1156.5 544.6L1155 546.5L1155.1 549L1153.6 550.6L1153.6 552.7L1152 554.2L1152 556.5L1149.9 557.2L1150.5 558.5L1149.1 558.4L1149.5 560.3L1148 562.1L1148 564.6L1145.4 565.4L1146.1 568L1143.9 567.5L1145 569L1143.5 569L1144 570.9L1142.9 573.2L1142.6 576L1140.7 578L1141 580.6L1138.2 580.9L1139.4 582.9L1138.2 583L1138.4 584.6L1137.2 586.3L1137.2 588.8L1135.8 590.7L1135.8 592.7L1134.3 593.1L1134.7 594.5L1133.4 596.1L1133.6 598.6L1132.4 601L1132.2 603.3L1130.6 604.4L1131 605.8L1129.6 606.9L1129.8 609.2L1128.5 611.3L1128.6 614L1127 615.9L1127.3 618.1L1125.4 619.4L1125.9 621.6L1124 622.1L1124.6 623.7L1122.5 623.9L1123.6 625.6L1122.1 626.6L1122.4 628.8L1120.9 630.6L1121.1 632.9L1114 634.1L1110.9 630.5L1110.8 628.7L1110.6 627.3L1110.6 625.9L1110.3 624.1L1110.3 622.2L1110 620.1L1110 618L1109.8 616.3L1109.7 614.7L1109.5 612.9L1109.5 610.8L1109.2 608.4L1109.2 606L1109 603.9L1108.9 602.4L1108.7 601L1108.7 599.5L1108.4 597.6L1108.5 595.8L1108.2 594.2L1108.1 592.6L1107.9 591.1L1107.9 589.6L1107.6 588.1L1107.7 586.5L1107.4 585.1L1107.4 583.5L1107.1 581.5L1107.1 579.4L1106.8 577.5L1106.9 576L1106.6 574.7L1106.6 573.1L1106.3 571.2L1106.3 569.6L1106 568.3L1106.1 567.3L1105.7 566.2L1105.8 564.6L1105.5 562.6L1105.5 560.4L1105.2 558.2L1109.9 557L1113.7 559.9L1111.5 561.4L1111.9 564.1L1109.9 564.9L1110.3 566.6L1108.6 567.9L1108.7 570.4L1106.9 572.6L1106.7 575.5L1103.5 575.9L1104 578.9L1101.9 577.7L1103 579.5L1100.7 579L1101.7 581.4L1099.2 582.2L1099.7 584.5L1097.9 584.7L1098.3 586.3L1096.5 586.5L1097 588.6L1094.9 589.4L1095.2 591.4L1093.6 591.5L1094.1 593L1092.8 594.4L1092.7 596.8L1091.3 599.2L1091.1 601.9L1088.8 603.3L1089.2 605.4L1087.7 605.6L1088 607.3L1086.4 608.6L1086.5 610.8L1085 612.5L1084.9 614.6L1083.1 615.8L1083.3 618L1080.7 618.5L1081.4 621L1079.2 622.1L1078.6 624.8L1075.5 622.9L1077.3 625.3L1075.9 624.8L1076.2 627L1073.6 627.8L1074.4 630.1L1072.2 630.9L1072.7 633.7L1070.2 635.2L1069.5 638.6L1066.2 636.2L1068.2 638.8L1066.8 638.4L1066.9 640.9L1064 642.6L1064.2 645.9L1060.5 645.5L1061 649.1L1059.1 648.3L1059.5 650L1056.8 649.6L1057.6 652.4L1055.4 653.1L1055.4 655.5L1052.8 656L1053.4 658.6L1050.3 659.7L1050.3 663.1L1047.2 662.1L1048.3 664.7L1045.5 664.8L1046 668L1042.3 667.9L1042.5 671.6L1040 669.9L1041.4 672L1039.2 673.1L1039.1 676.6L1035.1 677.4L1033.9 681.8L1031 679.2L1031.2 681.8L1030.2 678.7L1031.8 681.5L1029.2 682.8L1028.9 686L1025.4 685.8L1024.9 689.2L1022 686.1L1023.6 689.6L1021.3 689.4L1021.2 692.2L1017.8 691.2L1018.7 694.5L1016.3 694.3L1016.7 696.6L1014.5 697.7L1013.8 700.8L1010 700.7L1008.3 704.7L1005.4 702.3L1004.3 704.6L1003.7 701.2L1005 704.2L1002.4 703.7L1000.8 708.2L996.6 706.1L994.9 708.3L993.4 705.4L990.8 707.9L989.8 703.7L986.8 706.4L986.6 703.4L985.2 706L984.1 703.3L981.9 705.8L981.1 703L980.2 705.8L977.7 702.6L975.3 705.8L974.2 702.9L973.8 705.5L972.2 703.5L971.4 706.5L968.1 703.7L966 707.6L964.3 702.9L963.1 707.5L961.2 705L959.9 707.7L958.1 704.1L958.1 708.1L955.5 706.4L954.6 709.6L951.6 707.4L950 710.8L947.9 707.4L946.7 711.2L944.6 708.1L942.8 711.5L940.9 707.6L939.6 711.4L938.1 708.5L937.1 711.9L934.7 708.2L934.3 712.4L931.8 710.4L930.5 713.5L928.1 711.3L925.9 714.1L923.8 710.5L921 713.1L920.2 709.9L918.4 712.4L917.7 707.6L917.4 712.4L915.5 710.6L914.6 713.5L911.7 711.5L910.4 714.8L907.9 712.3L906.6 715.3L904.7 711.9L904.8 715.7L902.1 714.8L899.4 717.8L896.6 713.7L892.7 715.4L892.8 711.8L891.1 714.6L890.7 712L890.1 714.8L887.4 711L887.6 715.6L885 714.3L884.1 717.3L880.8 714.5L880.7 718.8L877.8 717.2L876.5 720.4L873.1 717.8L868.9 719.4L868.4 715.3L865.1 716.4L865.8 712.6L863.1 715.6L862 712.2L858.2 712.5L858.1 709.7L856 710.5L856.5 708.1L854.6 710.2L853.7 707.5L851.1 708.8L850.6 705.5L848.3 707.1L848.2 703.7L844.7 705.7L844.8 701.3L841.7 703.9L841.7 700.6L839.2 703.3L838.7 698.8L837.1 702.7L836 698.9L836.5 702.7L833.8 700.7L833.8 704.6L829.5 702.4L826.6 706.8L824.6 703.3L822.2 705.2L822.2 702.3L822 705.2L820 703.5L818.4 706.3L815.7 703L813.4 706.4L812.1 703.2L810.2 706.2L808.7 702.8L806.5 705.8L805.4 701.4L803.2 705.3L802.2 700.6L800.9 705.1L799.2 700.9L798.6 705.6L796.1 703.5L794.5 706.3L792.3 702.1L790.4 706.4L788.9 702.6L787.3 706.3L785.6 703.8L784.6 706.3L782.8 702.6L782.5 707.1L779.3 703.9L777.1 708.2L775 703.6L770.6 705.5L771 701.4L768.2 703.6L768.7 699.2L767.8 703.8L765.7 700.2L763.3 704.2L761.7 699.5L758.5 702.7L758.1 698.4L755.1 701.2L754.7 698.3L753.1 700.7L752.4 697.8L751.8 700.9L749.3 699L746.5 701.5L746 698.7L747.2 700.9L744.3 698.9L745.5 701.9L742.8 701.3L741.7 706.1L737.3 701.9L734.8 706.4L733.8 701.5L731.9 706L730.7 702.2L730 706.3L727.5 703.8L726.2 706.9L724.2 704.6L722.8 707.4L720.6 704L718.9 707.8L716.9 703.4L713.6 706.9L712.8 703.1L710 705.5L710.2 701.7L710.6 705.2L708.7 703.8L708.3 706.5L705.2 705.4L704.1 708.9L700.8 705.8L700 710.1L697.3 707.7L694.5 710.6L692.7 707.7L690 709.2L689.8 704.5L687 707.9L686.8 703.4L684.7 707.6L683.7 705.1L683.6 707.4L681.7 705.4L681.7 708.4L678 706.7L677.5 711.2L674.1 709.2L672.6 712.3L670.6 708.4L670.4 712.7L667.8 711.2L665.8 714L663.2 710.6L660.5 713.4L660 709.9L660.4 712.9L658.5 711L658.4 714.3L655 714.1L652.6 717.1L649.9 714.5L647.6 716.7L646.5 713.7L644.5 716.3L643.5 712L643.2 716.2L640.6 712.5L640.7 717.2L637.6 714.8L637 718.7L634.2 716.5L633.2 719.9L630.6 717.1L629.2 720.7L626.9 716.3L626.1 721.2L623.7 717.6L622.6 721.8L620.2 717.6L617.7 722L616.4 717.5L614.6 721.2L614.3 719L614.6 721.2L611.7 719.8L611.6 723.7L607.6 722.5L605.7 726.1L603.7 723.5L603 726.3L600.9 723.9L600 727.3L597 725.7L594.3 727.9L593.3 723.3L593.3 727.5L591.3 725L591.3 728.8L587.3 726.9L585 731L582.7 727.6L580.7 730.1L580.3 726.3L580.6 730.1L578.3 728.7L577.8 731.8L573.9 729.1L572.7 734L569.9 731.6L568 734L566.9 731.5L566.4 734L564.6 732L563.1 735.4L560.4 732.8L559.7 735.9L557 732L556.2 736.8L553.6 733.9L552 737.4L550.2 734.3L549.1 737.6L547 733.8L546.4 738.2L543.8 735.3L542.7 739L540.3 734.9L539.9 739.6L537.7 737.5L536.9 740.6L534.1 738.8L532.6 741.8L530.4 739.7L528.7 742.3L526.8 739.8L525.4 742.4L523.9 740.1L523.2 742.7L520.4 738.9L519.9 743.8L516.9 740.8L515.1 744.5L513.4 741.3L512.1 744.6L510.3 741.3L509.5 745L507.2 742.5L505.9 745.7L503.6 742.5L502.1 746.2L500.1 743.1L498.6 746.3L496.9 742.6L496.2 746.6L493.8 743.2L493.5 747.4L490.8 745.3L489.6 748.5L487.1 745.3L486.1 749.3L483.8 747.2L482.3 749.9L480.2 746.8L478.9 750.2L476.9 746.9L475.6 750.6L473.5 747.4L471.8 750.9L470.1 747.5L468.7 750.9L466.8 746.7L465.9 751.3L463.7 749.2L462 751.8L460.1 747.7L458.7 751.9L456.9 749.2L455.8 752.2L453.7 749.2L452.4 752.8L450.1 748.3L448.8 753.1L446.8 748.8L445.7 753.4L443.9 751.3L442.7 753.9L440.7 751.8L439.5 754.6L436.9 751.1L435.6 755.3L433.4 751.5L431.9 755.5L430 751L429.2 755.8L426.8 751.8L426.3 756.5L423.8 753.9L422.8 757.5L420.3 754.5L419.4 758.2L416.6 754.2L415.7 759.1L413.2 756.1L411.2 759.5L409.5 755.6L407.7 759.2L406.6 756.6L406 759.3L404.1 757.7L402.9 760.4L399.8 757.3L397.8 761.2L396.2 758.2L394.8 761.1L393.2 758.5L391.8 761.4L389.6 756.9L387.9 761.6L386.2 758.1L384.7 761.5L383 757.6L382.3 761.8L380.1 758.8L379.5 762.6L376.8 760.4L375.3 763.6L372.9 759.3L371.8 764L369.7 760.4L368.5 764.4L366.3 760.4L365 764.8L363 760.7L362.2 765.2L360 762.8L358.9 765.9L356.3 761.8L355 766.6L352.7 762.8L350.8 766.7L349.4 761.9L348.4 766.6L346.4 762.9L345.6 767.3L342.9 763.4L341.4 767.9L339.4 765.3L337.8 768L336.1 765.4L334.7 768.2L332.7 764.8L331.3 768.6L329.2 765L327.3 768.8L325.6 764.3L324.1 768.8L322.5 766.3L321.3 769L319 765.1L318 769.6L315.5 765.4L314.2 770.1L312.1 767.2L310.3 770.3L308.5 766.7L306.5 770.2L305.1 765.4L303.4 770L301.9 765.7L301.4 770.2L298.8 766.8L298.1 771.2L295.3 768.1L293.8 771.9L291.7 767.4L290.5 772.2L288.5 769.2L287.1 772.4L285.2 769.3L284.3 772.7L282 768.6L281.5 773.4L278.9 771.4L277.1 774.3L275 771.1L273.7 774.3L272.1 771.7L271.3 774.7L269.2 772.8L268 775.6L265.1 771.4L263.5 776.3L261.6 771.7L259.6 776.1L258.3 771.5L257.4 776.1L255.8 773.6L255.1 776.7L252.1 773.5L250.9 777.9L248.4 773.4L246.6 778L245.1 773.4L244.6 778.2L242.2 775.4L240.7 779.1L238.4 775.5L237.1 779.3L235.3 775.7L234.1 779.7L231.9 777.4L230.1 780L228.3 775.7L226.9 780L225.2 776.1L224.6 780.3L222.2 776.9L221.5 781.2L218.7 778.3L217 782.1L214.9 778.1L212.9 781.9L211.6 777.8L210 781.8L208.5 778.3L207.5 781.9L205.6 779.1L204.7 782.5L202 779.2L200.9 783.3L198.6 779.7L197.4 783.8L195.5 781.7L194.4 784.3L192.1 780.8L191.5 785L189.2 783.3L188.1 785.9L185.4 782.6L184.5 786.8L182.2 784.2L180.9 787.5L178.8 784.9L177.6 788L175.2 783.8L174.3 788.6L171.8 785.1L169.7 789L168.2 784.4L166.4 788.6L165.1 785.3L164.2 788.7L162.2 786L161.1 789.4L158.5 785.3L157.3 790L155.2 786.9L153.8 790.3L151.7 787L150.3 790.8L147.8 787.7L145.9 791.2L144 788.5L142.6 791.2L140.7 786.6L140 791.6L137.5 788.8L135.9 792.5L133.6 788.3Z" fill="#000"/>
<defs>
<path id="g1" d="M1115.3 785.2L1116.4 783.7L1116.2 781.9L1117.1 780.4L1117.1 778.6L1118 777.1L1118.1 775.4L1119 773.9L1119 772.1L1120.1 770.6L1119.9 768.8L1120.9 767.3L1120.9 765.5L1121.9 764.1L1121.8 762.3L1122.9 760.8L1122.7 759L1123.8 757.5L1123.7 755.7L1124.8 754.3L1124.6 752.5L1125.6 751L1125.6 749.2L1126.5 747.7L1126.5 745.9L1127.7 744.5L1127.4 742.7L1128.4 741.2L1128.4 739.4L1129.6 738L1129.3 736.1L1130.5 734.7L1130.3 732.9L1131.3 731.4L1131.2 729.6L1132.3 728.2L1132.1 726.3L1133 724.8L1133 723.1L1134.1 721.6L1133.9 719.8L1134.9 718.3L1134.7 716.5L1135.8 715L1135.6 713.2L1136.4 711.6L1136.5 709.9L1137.4 708.4L1137.4 706.6L1138.5 705.2L1138.3 703.3L1139.1 701.8L1139.2 700.1L1140.2 698.6L1140.1 696.8L1141.2 695.3L1141.1 693.5L1142 692L1142.2 690.2L1143.3 688.8L1143.3 687L1144.5 685.6L1144.5 683.7L1146 682.5L1145.9 680.5L1147.6 679.4L1147.3 677.4L1149.3 676.4L1148.8 674.2L1150.4 673.1L1150.4 671.2L1152.3 670.2L1152.1 668.1L1153.9 667.2L1153.9 665.1L1155.9 664.4L1155.7 662.2L1157.8 661.5L1157.6 659.3L1159.3 658.4L1159.5 656.4L1162.1 656.1L1167.8 660.1L1165.8 660.8L1165.9 662.8L1163.8 663.5L1164 665.6L1162.3 666.4L1162.2 668.3L1160.5 669.2L1160.5 671.1L1158.8 672L1158.9 673.9L1157 674.7L1157.3 676.7L1155.5 677.6L1155.8 679.6L1153.9 680.6L1154.4 682.6L1152.8 683.6L1153 685.5L1151.6 686.6L1151.8 688.4L1150.6 689.6L1150.7 691.4L1149.5 692.7L1149.6 694.4L1148.4 695.8L1148.6 697.6L1147.5 699L1147.7 700.8L1146.5 702.2L1146.8 704L1145.6 705.4L1145.8 707.2L1144.9 708.7L1145 710.4L1144.2 712L1144.1 713.7L1143.3 715.2L1143.2 717L1142.3 718.5L1142.3 720.3L1141.4 721.8L1141.5 723.6L1140.5 725.1L1140.6 726.9L1139.5 728.3L1139.7 730.2L1138.6 731.7L1138.8 733.5L1137.7 735L1137.8 736.8L1136.7 738.3L1136.9 740.1L1136 741.6L1135.9 743.3L1134.9 744.8L1135 746.6L1133.8 748L1134 749.9L1133.1 751.4L1133.1 753.1L1131.9 754.6L1132.2 756.4L1131 757.8L1131.2 759.7L1130.2 761.1L1130.3 762.9L1129.1 764.4L1129.4 766.2L1128.2 767.6L1128.4 769.5L1127.3 770.9L1127.5 772.7L1126.6 774.2L1126.6 776L1125.6 777.5L1125.6 779.3L1124.7 780.8L1124.7 782.5L1123.6 784L1123.8 785.8L1122.9 787.3ZM1180.6 631.6L1180.3 629.1L1182.6 628.9L1182.5 626.5L1185 626.4L1184.8 623.9L1186.9 623.5L1187 621.4L1189.8 621.6L1189.3 618.8L1192.1 619L1191.6 616.3L1194 616.1L1193.9 613.7L1196.9 614.1L1196.3 611.2L1199 611.5L1198.7 608.8L1201.6 609.2L1201.1 606.3L1203.4 606.2L1203.5 603.9L1208.9 609.4L1208.8 611.6L1206.4 611.6L1206.4 613.9L1204 613.9L1204.1 616.3L1201.6 616.3L1201.7 618.8L1198.8 618.3L1199.4 621.2L1197.4 621.6L1197.2 623.7L1195.1 624L1194.9 626.1L1192 625.8L1192.7 628.6L1190.6 629L1190.4 631.2L1188.2 631.5L1188.2 633.7L1186.3 634.2L1186 636.2ZM1229.1 580.8L1232.1 581.8L1231.9 578.7L1234.7 579.6L1234.8 576.7L1237.3 577.3L1237.6 574.7L1240.7 576.2L1240.6 572.8L1243.7 574.5L1243.6 570.9L1246.7 572.9L1246.9 569.2L1250 571.6L1250.1 567.7L1253.1 570.2L1253.4 566.3L1255.9 568L1256.7 565L1259.6 567.9L1261.5 573.6L1258.8 571L1258.5 574.7L1255.7 572.2L1255.5 575.8L1253.2 574.8L1252.5 577.1L1250.2 576L1249.7 578.5L1247 576.9L1246.9 580L1244 578.2L1244.2 581.7L1241.6 580.7L1241.5 583.5L1238.8 582.4L1238.8 585.4L1236.2 584.7L1236.1 587.3L1233.7 586.8ZM1288 559.1L1289.9 562.9L1291.4 558.9L1293.2 561.3L1294.8 558.8L1296.6 561.3L1298.2 558.7L1300 561.2L1301.6 558.5L1303.4 560.5L1305 558.4L1306.8 560.3L1308.5 558.3L1310.2 560.9L1311.9 558.2L1313.7 561.3L1315.3 558.1L1317.1 561.6L1317.3 567.8L1315.5 564.9L1313.9 567.9L1312.1 564.7L1310.5 568L1308.7 564.9L1307.1 568.1L1305.3 564.7L1303.7 568.2L1301.9 565.9L1300.3 568.4L1298.5 565.9L1296.9 568.5L1295.1 565.6L1293.5 568.7L1291.7 565.6L1290.1 568.8L1288.3 565ZM1345.1 556.2L1347.1 557.9L1348.3 555.6L1350.5 557.8L1351.6 555L1353.7 556.6L1354.8 554.2L1356.9 555.7L1358.1 553.4L1360.2 554.9L1361.3 552.6L1363.8 555.5L1364.6 551.8L1367 554.3L1367.8 550.9L1370 552.6L1371 550L1373.2 551.6L1375.5 558.8L1373.3 557.4L1372.1 559.8L1369.7 557.6L1368.7 560.8L1366.2 558.1L1365.4 561.6L1363.1 559.5L1362.1 562.4L1359.9 560.8L1358.7 563.3L1356.5 561.5L1355.4 564.1L1353.2 562.5L1352 564.8L1349.7 562.7L1348.5 565.5L1346.4 563.8ZM1401.7 541L1402.4 538.3L1404.8 539.5L1405.5 537L1408 538.5L1408.6 535.7L1411.1 537.2L1411.7 534.3L1414.4 536.3L1414.8 533L1417.7 535.2L1417.9 531.6L1420.5 533.3L1421.1 530.3L1423.7 532L1424.2 528.9L1426.7 530.3L1427.3 527.5L1430.3 530.1L1432.7 535.6L1430.3 534.4L1429.6 537L1427.1 535.6L1426.5 538.4L1424 537L1423.4 539.7L1420.9 538.3L1420.3 541.1L1417.9 540L1417.1 542.5L1414.1 539.9L1414 543.8L1411.3 541.9L1410.8 545.2L1408 543L1407.7 546.5L1405.3 545.3L1404.5 547.8ZM1462 513.2L1464.4 514.6L1465.2 512L1468 514.5L1468.3 510.7L1470.6 511.9L1471.5 509.4L1473.8 510.6L1474.6 508.1L1477.5 510.8L1477.8 506.9L1480.1 508.2L1480.9 505.6L1483.7 507.9L1484.1 504.3L1486.3 505.4L1487.2 503.1L1489.6 504.4L1490.4 501.8L1492.7 503L1493.5 500.5L1495.8 506.1L1495.6 510.1L1493.1 508.6L1492.4 511.4L1489.8 509.3L1489.3 512.6L1486.6 510.5L1486.1 513.9L1483.8 512.7L1482.9 515.2L1480.2 513L1479.8 516.4L1477.3 514.9L1476.7 517.7L1474.3 516.4L1473.5 519L1470.6 516.3L1470.3 520.3L1467.5 517.9L1467.2 521.5L1464.3 519ZM1524 486.3L1526.9 488.4L1527 484.7L1529.4 485.8L1530 483.2L1533 485.3L1533 481.6L1535.6 483L1536 480L1538.3 480.9L1539 478.4L1542 480.5L1542 476.8L1544.5 477.9L1545 475.2L1547.3 475.9L1548 473.7L1550.3 474.4L1551 472.1L1553.6 473.4L1554 470.5L1557 472.6L1560 478L1557.3 476.7L1557 479.7L1554.3 478.3L1554 481.3L1551.1 479.5L1550.9 482.9L1547.9 480.7L1547.9 484.5L1544.9 482.3L1544.9 486.1L1542.4 484.9L1541.9 487.6L1539.3 486.3L1538.9 489.2L1536.3 488L1535.9 490.8L1533.2 489.3L1532.9 492.4L1530.4 491.3L1529.8 494L1527.5 493.1ZM1585.9 454.9L1585.7 451.6L1588.6 452.8L1588.4 449.7L1591 450.4L1591.2 447.7L1593.6 448.2L1593.9 445.7L1596.6 446.6L1596.7 443.7L1599.6 444.8L1599.5 441.7L1602.5 443.1L1602.4 439.8L1605.3 441L1605.2 437.9L1607.9 438.7L1608.1 436L1610.5 436.5L1611 434.1L1614.2 435.9L1613.9 432.3L1616.6 433.4L1620.4 439.4L1617.3 437.8L1617.5 441.2L1614.3 439.4L1614.6 443L1611.7 441.5L1611.8 444.8L1609.1 443.8L1609 446.7L1606.3 445.6L1606.2 448.5L1603.5 447.4L1603.5 450.4L1600.5 449L1600.8 452.3L1597.8 451.1L1598 454.3L1595.7 454.1L1595.2 456.3L1592.6 455.6L1592.4 458.3L1589.3 456.8L1589.6 460.3ZM1645.2 412L1647.6 412.6L1648 410.1L1651.1 411.8L1650.8 408.2L1653.1 408.6L1653.7 406.3L1656.4 407.4L1656.5 404.5L1658.9 405L1659.4 402.6L1662.5 404.3L1662.3 400.8L1665.4 402.4L1665.1 398.9L1668 400.3L1668 397.1L1670.9 398.4L1670.9 395.3L1673.3 395.9L1673.8 393.5L1676.2 394L1680.3 400.5L1678 400.1L1677.4 402.4L1675 401.8L1674.5 404.2L1671.4 402.4L1671.6 406L1668.9 404.8L1668.8 407.8L1665.8 406.2L1665.9 409.6L1663.4 408.8L1663.1 411.4L1660 409.9L1660.3 413.3L1657.3 411.9L1657.4 415.1L1654.6 413.9L1654.6 417L1651.7 415.6L1651.8 418.9L1648.9 417.6ZM1705.6 373.8L1708.1 374.5L1708.5 371.9L1711.1 372.9L1711.6 370.1L1714.7 372.1L1714.6 368.5L1717.5 370.2L1717.3 367L1719.7 367.7L1719.8 365.3L1722.4 365.9L1722 363.4L1724.7 363.8L1724 361.3L1726.3 360.9L1725.8 358.7L1727.5 357.8L1727.4 356L1729 355L1728.7 353.1L1735.9 355.7L1735.9 357.8L1734.4 359.5L1734.2 361.6L1732.6 362.8L1732.3 364.9L1730.2 365.9L1729.9 368.2L1727.4 368.8L1727.1 371.3L1724.7 371.5L1724 373.8L1720.8 372.3L1720.8 375.9L1718.1 374.9L1717.7 377.7L1715.3 376.8L1714.8 379.3L1712.2 378L1712 380.9L1709.1 379.3ZM1737.4 323.9L1738.2 322.4L1738.3 320.6L1739.1 319.1L1739.1 317.4L1739.8 315.8L1739.9 314L1740.7 312.5L1740.7 310.7L1741.4 309.2L1741.5 307.4L1742.5 305.9L1742.3 304.1L1743.4 302.6L1743.2 300.8L1744.5 299.4L1744.3 297.5L1745.3 296.1L1745.3 294.3L1752.6 296.7L1752.8 298.6L1751.6 299.9L1751.7 301.7L1750.8 303.1L1750.8 304.8L1749.8 306.1L1749.9 307.9L1749 309.3L1749.1 311L1748.3 312.6L1748.3 314.3L1747.5 315.9L1747.5 317.6L1746.8 319.2L1746.7 321L1746 322.6L1745.9 324.4L1744.9 325.9ZM1754.2 265.1L1754.8 263.5L1754.8 261.8L1755.5 260.2L1755.5 258.5L1756.1 256.9L1756.1 255.1L1756.8 253.5L1756.7 251.8L1757.3 250.2L1757.3 248.4L1757.9 246.8L1758 245.1L1758.7 243.5L1758.7 241.8L1759.3 240.2L1759.4 238.4L1760.3 236.9L1760.1 235.1L1767.7 237.1L1767.8 238.7L1767.1 240.2L1767.1 241.9L1766.3 243.4L1766.4 245.1L1765.8 246.6L1765.7 248.3L1765.1 249.9L1765.1 251.6L1764.6 253.2L1764.5 255L1763.8 256.6L1763.8 258.3L1763.1 259.9L1763.2 261.7L1762.6 263.3L1762.6 265.1L1761.9 266.7ZM1770.2 206L1771.5 204.7L1771.5 202.9L1772.9 201.6L1772.7 199.7L1774.2 198.5L1774 196.5L1775.5 195.3L1775.4 193.4L1777 192.2L1776.8 190.2L1778.4 189L1778.3 187L1780 185.9L1780.1 183.9L1781.9 182.9L1782.1 180.8L1784.1 180.1L1784.3 178L1786.7 177.7L1786.6 175.3L1789.4 175.5L1794.4 180.2L1791.7 180L1792.2 182.6L1790 182.7L1790.2 184.9L1788.3 185.4L1788.4 187.3L1786.7 188L1786.7 189.8L1785 190.6L1785.3 192.5L1783.4 193.3L1783.9 195.3L1782.2 196.4L1782.5 198.3L1781.3 199.6L1781.2 201.4L1779.8 202.6L1780 204.5L1778.3 205.6L1778.7 207.6L1777.3 208.9ZM1816.8 149.7L1816.7 146.8L1819.9 148.2L1819.5 144.8L1821.8 145L1822.4 142.8L1825.3 144L1825.2 140.8L1827.5 141.2L1828 138.9L1831 140.2L1830.9 137L1833.6 137.9L1832.5 136L1836 141.5L1837.4 144.1L1835.2 143.6L1834.6 145.8L1832.4 145.4L1831.9 147.6L1829.4 147L1829.1 149.5L1826.3 148.5L1826.3 151.5L1823.2 150L1823.6 153.4L1821.2 152.9L1820.9 155.3Z"/><path id="r1" d="M1162.1 656.1L1161.4 653.6L1163.3 652.8L1163.4 650.8L1165.7 650.4L1165.4 648L1167.5 647.4L1167.4 645.2L1169.7 644.8L1169.4 642.5L1171.5 641.9L1171.5 639.7L1173.5 639.1L1173.7 637L1175.6 636.4L1175.8 634.3L1178.5 634.3L1178 631.7L1180.6 631.6L1186 636.2L1183.4 636.2L1183.9 638.8L1181.5 639L1181.7 641.4L1179.3 641.5L1179.6 643.9L1177.6 644.5L1177.6 646.5L1175 646.7L1175.5 649.2L1173.6 649.8L1173.6 651.8L1171.7 652.5L1171.6 654.5L1169.4 655L1169.7 657.3L1167.5 657.8L1167.8 660.1ZM1203.5 603.9L1206.2 604.2L1206 601.5L1208.9 602.1L1208.4 599.1L1211.3 599.7L1210.9 596.7L1213.8 597.3L1213.4 594.4L1215.7 594.3L1215.9 592.1L1218.4 592.2L1218.5 589.7L1220.8 589.8L1221.1 587.5L1223.3 587.4L1223.7 585.2L1226 585.3L1226.4 583L1229.2 583.7L1229.1 580.8L1233.7 586.8L1233.5 589.2L1230.6 588.2L1230.9 591.3L1228.1 590.5L1228.4 593.4L1225.8 592.9L1225.9 595.5L1223 594.8L1223.4 597.7L1221.2 597.8L1220.9 600L1218.7 600.1L1218.5 602.3L1215.4 601.5L1216 604.6L1213.7 604.7L1213.5 606.9L1210.9 606.6L1211.1 609.2L1208.9 609.4ZM1259.6 567.9L1260.1 563.9L1262.7 566.4L1263.5 562.9L1266 565.5L1266.9 562L1269.4 564.7L1270.3 561.2L1272.6 563.4L1273.8 560.4L1276 562.6L1277.5 559.8L1279.6 562.6L1281.1 559.5L1283.1 563.3L1284.6 559.3L1286.4 562.4L1288 559.1L1288.3 565L1286.8 569L1285 566.8L1283.5 569.2L1281.6 567L1280.2 569.4L1278.2 565.6L1277.1 569.8L1274.9 566.4L1274 570.3L1272 568.8L1270.9 571L1268.8 569.5L1267.7 571.8L1265.6 570.4L1264.5 572.7L1262.3 571.1L1261.5 573.6ZM1317.1 561.6L1318.7 558L1320.5 561.7L1322 557.9L1323.9 561.6L1325.4 557.7L1327.2 561.1L1328.8 557.6L1330.6 560.5L1332.1 557.4L1334 560.8L1335.5 557.2L1337.4 560.8L1338.8 557L1340.6 559.1L1341.9 556.7L1344 559.9L1345.1 556.2L1346.4 563.8L1345 566.1L1342.8 563.1L1341.4 566.6L1339.4 564.7L1337.8 566.9L1335.9 563.7L1334.4 567.1L1332.5 565.1L1330.9 567.3L1329.1 564.7L1327.5 567.5L1325.6 563.8L1324.1 567.6L1322.3 564.5L1320.7 567.7L1318.9 564.6L1317.3 567.8ZM1373.2 551.6L1374.1 549L1376.8 551.7L1377.3 548L1379.8 550.2L1380.4 546.8L1383.2 549.4L1383.5 545.7L1386.3 548.2L1386.7 544.4L1389.1 546L1389.8 543.2L1392.2 544.6L1393 542L1395.9 544.8L1396.2 540.8L1398.5 542.1L1399.3 539.5L1401.7 541L1404.5 547.8L1402.1 546.6L1401.3 549.1L1398.5 546.7L1398.1 550.4L1395.5 548.3L1394.9 551.6L1392.5 550L1391.8 552.8L1389.1 550.6L1388.6 554.1L1386.2 552.6L1385.4 555.3L1382.6 552.8L1382.1 556.5L1379.5 554.3L1378.8 557.6L1376 554.7L1375.5 558.8ZM1430.3 530.1L1430.4 526.1L1432.9 527.6L1433.6 524.8L1435.9 525.9L1436.7 523.4L1439.3 525.1L1439.9 522.1L1442.5 524.1L1443.1 520.8L1445.8 523L1446.2 519.6L1448.7 521L1449.4 518.3L1452.1 520.4L1452.5 517L1455.4 519.5L1455.7 515.8L1458.3 517.7L1458.9 514.5L1461.2 515.9L1462 513.2L1464.3 519L1464 522.8L1461.5 521.2L1460.9 524.1L1458.6 523L1457.7 525.3L1455.2 523.6L1454.5 526.6L1452.1 525.2L1451.4 527.9L1448.6 525.5L1448.3 529.1L1445.8 527.5L1445.1 530.4L1442.5 528.4L1442 531.7L1439.6 530.3L1438.9 533L1436.4 531.3L1435.8 534.3L1433.4 533L1432.7 535.6ZM1493.5 500.5L1496.1 502.3L1496.6 499.2L1499 500.5L1499.7 497.9L1502.4 499.9L1502.8 496.6L1505.7 499L1505.8 495.2L1508.2 496.4L1508.9 493.8L1511.4 495.1L1511.9 492.3L1514.4 493.7L1514.9 490.8L1517.6 492.4L1517.9 489.4L1520.5 490.7L1520.9 487.8L1523.8 489.7L1524 486.3L1527.5 493.1L1526.8 495.6L1524.5 494.8L1523.8 497.1L1521 495.5L1520.7 498.7L1518.1 497.3L1517.6 500.2L1514.7 498.1L1514.5 501.7L1511.9 500.2L1511.4 503.2L1508.9 501.9L1508.2 504.6L1505.4 502.5L1505.1 506L1502.5 504.5L1501.9 507.4L1499.2 505.4L1498.8 508.7L1495.8 506.1ZM1557 472.6L1556.9 468.9L1559.2 469.5L1559.9 467.2L1562.8 469L1562.8 465.6L1565.2 466.3L1565.8 463.9L1568.9 466L1568.7 462.3L1571.1 463L1571.6 460.6L1574.2 461.6L1574.5 458.8L1577.6 460.8L1577.3 457.1L1580.1 458.3L1580.1 455.3L1582.8 456.4L1582.9 453.5L1585.9 454.9L1589.6 460.3L1586.9 459.4L1586.7 462.2L1583.5 460.5L1583.8 464.2L1580.9 462.8L1580.9 466L1578.1 464.8L1577.9 467.8L1575 466.4L1574.9 469.6L1572.3 468.4L1572 471.3L1569.5 470.5L1569 473L1566.6 472.3L1566 474.7L1563.6 474L1563 476.4L1560.4 475.2L1560 478ZM1616.6 433.4L1616.8 430.5L1619.4 431.5L1619.7 428.7L1622.2 429.5L1622.6 426.9L1625.6 428.6L1625.4 425.1L1628.5 426.7L1628.3 423.3L1631.3 424.9L1631.1 421.5L1634 422.8L1633.9 419.6L1636.8 420.9L1636.7 417.7L1639.4 418.7L1639.5 415.8L1641.9 416.3L1642.3 413.9L1644.8 414.5L1645.2 412L1648.9 417.6L1649 420.8L1646 419.3L1646.2 422.7L1643.9 422.3L1643.4 424.6L1640.5 423.3L1640.5 426.5L1637.4 424.8L1637.7 428.4L1634.5 426.7L1634.8 430.3L1632.3 429.5L1631.9 432.2L1629.2 431.1L1629 434L1626 432.4L1626.1 435.8L1623.4 434.7L1623.2 437.6L1620.6 436.6L1620.4 439.4ZM1676.2 394L1676.7 391.6L1679.3 392.6L1679.6 389.8L1682.6 391.5L1682.4 388L1684.9 388.7L1685.3 386.2L1688.4 388L1688.2 384.4L1690.5 384.9L1691.1 382.6L1694 384L1694 380.9L1696.5 381.6L1696.9 379.1L1699.7 380.3L1699.8 377.3L1702.4 378.3L1702.7 375.5L1705.2 376.3L1705.6 373.8L1709.1 379.3L1709.2 382.7L1706.2 381.2L1706.2 384.5L1703.9 384L1703.3 386.3L1700.2 384.5L1700.4 388.1L1697.7 386.8L1697.5 389.8L1694.7 388.5L1694.6 391.6L1691.5 389.7L1691.8 393.4L1688.7 391.6L1688.9 395.2L1686.2 394.1L1686 396.9L1683.2 395.6L1683.1 398.7L1680.8 398.3L1680.3 400.5ZM1728.7 353.1L1729.9 351.8L1729.7 350L1730.8 348.5L1730.8 346.7L1731.9 345.3L1731.7 343.5L1732.8 342L1732.7 340.2L1734 338.8L1733.7 337L1734.6 335.5L1734.7 333.7L1735.5 332.2L1735.6 330.5L1736.7 329L1736.5 327.2L1737.5 325.7L1737.4 323.9L1744.9 325.9L1745 327.7L1744.1 329.3L1744.1 331L1743 332.5L1743.2 334.4L1742.1 335.9L1742.2 337.7L1741.3 339.2L1741.2 341L1740.3 342.5L1740.2 344.3L1739.1 345.7L1739.2 347.5L1738 348.9L1738.3 350.8L1737.3 352.4L1737.2 354.2L1735.9 355.7ZM1745.3 294.3L1746.6 292.9L1746.4 291.1L1747.6 289.7L1747.5 287.9L1748.8 286.5L1748.6 284.6L1749.7 283.2L1749.8 281.4L1751.2 280.1L1750.9 278.2L1752 276.8L1751.8 275L1752.8 273.5L1752.7 271.8L1753.6 270.2L1753.5 268.5L1754.2 266.9L1754.2 265.1L1761.9 266.7L1761.9 268.5L1761 270.1L1761.1 271.9L1760.3 273.6L1760.3 275.5L1759.5 277.2L1759.4 279.1L1758.3 280.6L1758.3 282.5L1757.2 284L1757.1 285.8L1755.9 287.1L1756.1 288.9L1754.7 290.3L1755 292.2L1753.7 293.6L1753.8 295.4L1752.6 296.7ZM1760.1 235.1L1761 233.6L1761 231.8L1762.2 230.3L1762 228.5L1763 227L1763 225.2L1764.2 223.8L1764.1 222L1765.3 220.6L1765.2 218.8L1766.4 217.3L1766.4 215.5L1767.9 214.3L1767.7 212.3L1768.9 211L1768.9 209.2L1770.5 208L1770.2 206L1777.3 208.9L1777.4 210.8L1776.1 212.1L1776.2 213.9L1774.7 215.1L1774.9 217L1773.8 218.3L1773.8 220.1L1772.7 221.5L1772.6 223.2L1771.5 224.5L1771.5 226.3L1770.3 227.6L1770.5 229.4L1769.2 230.7L1769.5 232.5L1768.4 233.9L1768.6 235.7L1767.7 237.1ZM1789.4 175.5L1788.9 172.8L1791.6 172.9L1791.2 170.3L1793.5 170.1L1793.5 167.8L1796.2 167.9L1795.9 165.2L1798.7 165.6L1798.3 162.7L1801 163L1800.7 160.3L1803.4 160.6L1803.2 157.8L1806.1 158.4L1805.8 155.5L1808.5 155.8L1808.5 153.2L1811.4 154L1811.2 151L1814.2 152L1814 148.8L1816.8 149.7L1820.9 155.3L1818.4 154.7L1818.3 157.3L1815.4 156.3L1815.7 159.3L1813.3 159L1813.2 161.4L1810.9 161.3L1810.7 163.5L1807.8 162.8L1808.3 165.7L1806.2 165.8L1806 168L1803.9 168.2L1803.6 170.3L1800.7 169.8L1801.3 172.7L1798.9 172.7L1799.1 175.2L1796.6 175.2L1796.8 177.7L1794.2 177.7L1794.4 180.2Z"/>
<path id="g2" d="M1112.9 785.1L1114 783.7L1113.8 781.9L1114.7 780.4L1114.7 778.6L1115.8 777.1L1115.7 775.3L1116.6 773.8L1116.6 772.1L1117.6 770.6L1117.6 768.8L1118.4 767.3L1118.5 765.5L1119.7 764.1L1119.4 762.3L1120.5 760.8L1120.4 759L1121.3 757.5L1121.3 755.7L1122.2 754.2L1122.2 752.5L1123.2 751L1123.2 749.2L1124.3 747.8L1124.1 745.9L1125 744.4L1125 742.7L1126 741.2L1125.9 739.4L1126.9 737.9L1126.9 736.1L1128 734.7L1127.8 732.8L1129 731.4L1128.8 729.6L1129.7 728.1L1129.7 726.3L1130.8 724.9L1130.6 723L1131.4 721.5L1131.5 719.8L1132.4 718.3L1132.4 716.5L1133.3 715L1133.3 713.2L1134.1 711.7L1134.2 709.9L1135 708.4L1135 706.6L1136 705.1L1135.9 703.4L1136.9 701.9L1136.8 700.1L1137.6 698.5L1137.7 696.8L1138.8 695.3L1138.6 693.5L1139.5 692L1139.5 690.2L1140.6 688.7L1140.4 686.9L1141.5 685.5L1141.5 683.6L1142.6 682.2L1142.6 680.4L1143.6 678.9L1151.1 681.6L1150.1 683L1150 684.7L1148.9 686.1L1148.9 687.8L1147.7 689.1L1148 690.9L1147.1 692.4L1147 694.1L1146.2 695.6L1146.2 697.3L1145.4 698.8L1145.3 700.6L1144.3 702.1L1144.4 703.9L1143.4 705.4L1143.5 707.2L1142.5 708.6L1142.6 710.4L1141.6 711.9L1141.8 713.7L1140.7 715.2L1140.9 717L1139.9 718.5L1140 720.3L1139 721.8L1139.1 723.6L1138 725.1L1138.2 726.9L1137.3 728.5L1137.2 730.2L1136.3 731.8L1136.3 733.5L1135.4 735L1135.4 736.8L1134.4 738.3L1134.4 740L1133.6 741.6L1133.5 743.3L1132.5 744.8L1132.6 746.6L1131.4 748L1131.6 749.8L1130.7 751.3L1130.7 753.1L1129.6 754.6L1129.8 756.4L1128.9 757.9L1128.8 759.7L1127.9 761.2L1127.9 762.9L1127 764.4L1127 766.2L1126 767.7L1126 769.5L1125.2 771L1125.1 772.7L1124.3 774.3L1124.2 776L1123.1 777.5L1123.2 779.3L1122.4 780.8L1122.3 782.6L1121.4 784.1L1121.3 785.8L1120.3 787.3ZM1143.7 677.2L1145 675.8L1144.9 673.9L1146.2 672.6L1146.2 670.7L1147.6 669.4L1147.7 667.5L1149.6 666.5L1149.2 664.4L1150.7 663.3L1150.8 661.4L1152.4 660.3L1152.4 658.3L1154.7 657.6L1154.2 655.3L1156.4 654.6L1155.9 652.4L1158 651.6L1164.3 655.6L1162.4 656.4L1162.5 658.4L1160.8 659.3L1160.8 661.2L1159.2 662.1L1159.2 664L1157.2 664.8L1157.6 666.9L1156.2 668L1156.1 669.8L1154.8 670.9L1154.7 672.7L1153.2 673.8L1153.4 675.6L1151.8 676.7L1152.2 678.6L1151.1 679.9ZM1190.3 605.4L1192.4 604.9L1192.5 602.8L1195.1 602.7L1200.5 607.3L1197.8 607.2L1198.3 609.9L1195.6 609.8ZM1220.9 575.3L1220.9 572.8L1223.5 573.1L1223.4 570.5L1226.1 570.9L1226.1 568.2L1228.8 568.8L1228.7 565.9L1231.9 567.1L1231.4 563.8L1234.5 564.9L1234.1 561.6L1237.2 562.8L1236.9 559.5L1239.8 560.5L1239.7 557.5L1242.5 558.3L1242.7 555.5L1245.7 557L1245.8 553.6L1248.5 554.8L1251.9 561L1248.9 559.1L1249.1 562.6L1246.2 560.9L1246.4 564.3L1243.4 562.7L1243.8 566.1L1241 565.1L1241.1 568L1238 566.7L1238.5 570L1236.1 569.7L1235.9 572.1L1233.4 571.6L1233.3 574.2L1230.4 573.3L1230.8 576.3L1227.8 575.4L1228.4 578.5L1225.6 578L1225.9 580.7ZM1279.1 541.4L1281.2 543.7L1282.6 540.9L1284.6 543.3L1286 540.5L1288.1 543.5L1289.4 540.1L1291.5 543.2L1292.8 539.7L1294.8 542L1296.2 539.4L1298.3 542.6L1299.5 539L1301.6 541.9L1302.8 538.6L1305 542.2L1306.2 538.1L1308.4 541.7L1309.5 537.7L1310.6 545.1L1309.2 547.6L1307.2 545.3L1305.8 548.1L1303.7 545.4L1302.4 548.5L1300.3 545.6L1299 548.9L1297 547.2L1295.6 549.3L1293.5 546.1L1292.2 549.7L1290.2 546.8L1288.8 550L1286.8 547.4L1285.5 550.4L1283.4 546.8L1282.2 550.9L1280 547.3ZM1341.6 535L1342.5 531.4L1344.9 534.2L1345.7 530.6L1348 532.6L1348.9 529.7L1351.1 531.5L1352.1 528.8L1354.5 530.9L1355.2 527.8L1357.5 529.4L1358.4 526.8L1361 529.2L1361.5 525.7L1364.2 528.2L1364.6 524.5L1367.3 526.8L1367.6 523.3L1370.3 525.3L1373.1 531.3L1370.7 530.4L1369.8 532.8L1367.3 531.4L1366.5 534.1L1363.7 531.8L1363.2 535.3L1360.4 532.6L1359.9 536.5L1357.5 534.7L1356.6 537.6L1353.8 534.6L1353.2 538.6L1350.9 537L1349.9 539.6L1347.5 537.3L1346.5 540.4L1344.2 538.3L1343.1 541.3ZM1399.9 508.8L1400.1 505.3L1402.7 506.7L1403.1 503.8L1406.1 506L1406.2 502.2L1408.5 503.1L1409.2 500.7L1412.1 502.8L1412.3 499.2L1415.1 501.1L1415.4 497.7L1418.4 500.1L1418.4 496.2L1421.2 498L1421.5 494.8L1423.9 495.8L1424.5 493.3L1427.3 495.1L1427.6 491.8L1430.4 497.6L1430.3 501.2L1427.8 500.1L1427.2 502.6L1424.7 501.3L1424.1 504.1L1421.2 502L1421.1 505.6L1418 503.2L1418 507.1L1415.3 505.4L1415 508.6L1412.3 507L1411.9 510.1L1409.1 508.1L1408.9 511.6L1406.2 510L1405.9 513.1L1403.5 512.1L1402.9 514.6ZM1460.1 477.2L1460.8 474.9L1463.8 476.9L1463.9 473.4L1466.5 474.8L1466.9 471.8L1469.4 472.9L1469.9 470.2L1472.6 471.7L1472.9 468.7L1475.7 470.4L1476 467.1L1478.3 468L1479 465.6L1481.4 466.5L1482.1 464L1485.2 466.4L1485.1 462.5L1487.6 463.6L1488.2 461L1491 462.8L1491.2 459.5L1494.4 465.9L1494 468.8L1491.1 466.9L1490.9 470.3L1487.9 468L1487.9 471.8L1485.4 470.6L1484.8 473.4L1481.8 471L1481.8 474.9L1478.7 472.5L1478.8 476.4L1476.5 475.6L1475.8 477.9L1472.9 476L1472.8 479.5L1470.2 478.1L1469.8 481L1466.9 479.3L1466.8 482.6L1464.3 481.5L1463.7 484.2ZM1521 443.7L1523.8 445.1L1523.8 442L1526.7 443.4L1526.7 440.2L1529.4 441.4L1529.5 438.4L1532.3 439.6L1532.3 436.6L1535.2 437.8L1535.1 434.7L1537.9 435.8L1537.9 432.8L1540.3 433.3L1540.8 430.9L1543.6 432.1L1543.6 429L1546.2 429.9L1546.4 427.1L1549.6 428.8L1549.3 425.2L1552.5 427L1555.9 432.2L1552.9 430.7L1553.1 434.1L1550.7 433.6L1550.2 435.9L1547.3 434.6L1547.4 437.8L1544.5 436.4L1544.6 439.7L1541.7 438.4L1541.8 441.6L1539 440.5L1538.9 443.5L1536.2 442.5L1536.1 445.4L1533.7 444.9L1533.2 447.3L1530.6 446.4L1530.3 449.1L1527.7 448.3L1527.3 451L1524.2 449.1ZM1580.7 404.9L1583.4 406L1583.5 403.1L1585.9 403.5L1586.4 401.2L1589.1 402.2L1589.2 399.3L1592.3 400.9L1592 397.4L1594.9 398.7L1594.9 395.6L1597.4 396.3L1597.7 393.7L1600.3 394.4L1600.6 391.8L1603.2 392.7L1603.5 390L1606.7 391.8L1606.4 388.2L1609.1 389.2L1609.4 386.4L1612.3 387.9L1615.7 393.6L1613 392.4L1612.8 395.3L1610.4 394.5L1610 397.1L1607.5 396.2L1607.1 398.9L1604.7 398.2L1604.3 400.7L1601.4 399.3L1601.5 402.5L1598.4 401L1598.6 404.4L1596.3 403.9L1595.8 406.2L1592.6 404.5L1593 408.1L1589.9 406.6L1590.1 410L1587 408.3L1587.3 411.9L1584.9 411.3ZM1640.5 366.3L1643.5 367.6L1643.2 364.3L1645.6 364.7L1645.9 362.3L1648.3 362.6L1648.7 360.3L1651.2 360.8L1651.4 358.3L1654.3 359.4L1654.1 356.2L1656.7 356.9L1656.8 354.2L1659.9 355.5L1659.5 352.2L1662.4 353.1L1662.2 350.1L1664.7 350.6L1664.9 348.1L1667.3 348.4L1667.6 346L1670.6 347.1L1670.3 343.9L1675 350L1674.7 352.4L1672.4 352.2L1672 354.4L1668.8 353.1L1669.2 356.5L1666.2 355.3L1666.5 358.6L1663.7 357.7L1663.8 360.6L1660.8 359.5L1661.1 362.7L1658.3 361.8L1658.3 364.7L1655.8 364.2L1655.6 366.8L1653.4 366.6L1652.9 368.8L1649.8 367.6L1650.2 370.8L1647 369.5L1647.4 372.9L1644.6 371.9ZM1699.6 320.8L1701.9 321L1702.2 318.6L1704.6 318.9L1704.8 316.5L1707.2 316.7L1707.4 314.3L1710.5 315.4L1710.2 312.2L1712.8 312.8L1712.8 310.1L1715.8 311.1L1715.4 308L1718.4 308.9L1718 305.9L1720.8 306.6L1720.3 303.8L1723.1 304.2L1722.7 301.5L1724.7 301.2L1724.8 299.2L1726.6 298.7L1733 303.3L1730.2 303.6L1730.5 306.5L1727.6 306.3L1728 309.1L1725.3 308.9L1725.4 311.6L1722.8 311.4L1722.7 314.1L1719.8 313.4L1719.9 316.3L1717 315.3L1717.2 318.4L1714.2 317.4L1714.6 320.5L1711.9 319.7L1712 322.6L1709.5 322.3L1709.4 324.8L1707.2 324.7L1706.7 326.9L1703.9 326.1ZM1736.1 268.5L1737.2 267.1L1737 265.2L1738 263.7L1738 262L1738.9 260.4L1739 258.7L1740.4 257.3L1740.1 255.4L1741.5 254.1L1741.3 252.2L1742.4 250.8L1742.5 249L1743.7 247.6L1743.7 245.8L1744.8 244.4L1744.9 242.7L1746 241.3L1746 239.5L1753.5 242L1753.4 243.9L1752.2 245.3L1752.3 247.2L1751.1 248.7L1751 250.5L1749.7 251.8L1749.8 253.6L1748.5 254.9L1748.6 256.7L1747.4 258L1747.5 259.7L1746.6 261.1L1746.5 262.8L1745.3 264.2L1745.5 266L1744.5 267.5L1744.6 269.2L1743.6 270.7ZM1752.7 211.5L1752.8 209.8L1753.7 208.3L1753.6 206.5L1754.3 204.9L1754.3 203.2L1755.3 201.7L1755.2 199.9L1756.1 198.4L1756 196.6L1756.8 195L1756.8 193.3L1757.8 191.8L1757.7 190L1758.7 188.5L1758.5 186.7L1759.3 185.1L1759.4 183.4L1760.2 181.9L1767.9 183.9L1766.8 185.4L1767 187.2L1766.2 188.7L1766.1 190.5L1765.3 192L1765.3 193.7L1764.5 195.3L1764.4 197L1763.5 198.5L1763.6 200.2L1762.6 201.7L1762.8 203.5L1761.9 205L1762 206.8L1761.3 208.3L1761.2 210L1760.5 211.6L1760.5 213.2ZM1769.5 152.6L1769.2 150.7L1770.4 149.3L1770.3 147.5L1771.7 146.2L1771.5 144.3L1772.7 142.9L1772.7 141.1L1774.3 139.9L1774 137.9L1775.3 136.6L1775.2 134.8L1776.5 133.5L1776.5 131.6L1778.2 130.4L1777.8 128.4L1779.5 127.3L1779.2 125.2L1781.1 124.2L1780.7 122L1782.8 121.2L1789.1 124.8L1787.4 125.5L1787.6 127.4L1786.2 128.5L1786.3 130.2L1784.9 131.4L1785 133.3L1783.8 134.6L1783.7 136.4L1782.6 137.7L1782.5 139.5L1780.8 140.7L1781.2 142.6L1779.7 143.8L1780 145.7L1778.8 147L1778.8 148.8L1777.4 150.1L1777.7 152L1776.2 153.2L1776.6 155.1ZM1808.4 93.4L1808.1 90.7L1811.1 91.3L1810.5 88.3L1812.9 88.3L1813 86L1815.6 86.2L1815.4 83.6L1818.2 84L1817.8 81.2L1819.9 80.9L1820.2 78.8L1823 79.2L1822.6 76.3L1824.8 76.1L1825.1 73.9L1827.9 74.4L1827.6 71.5L1829.8 71.4L1830.1 69.2L1833.2 70L1831.9 67.6L1836.5 72.7L1837.5 74.9L1835 74.6L1835.1 77.2L1832.6 77L1832.6 79.4L1830 79.1L1830.2 81.7L1827.4 81.2L1827.8 84L1825.5 84.1L1825.4 86.4L1822.7 86.1L1823 88.8L1820.6 88.8L1820.6 91.3L1817.7 90.8L1818.2 93.7L1816 93.9L1815.7 96.1L1813.5 96.2L1813.3 98.4Z"/><path id="r2" d="M1143.6 678.9L1143.7 677.2L1151.1 679.9L1151.1 681.6ZM1158 651.6L1157.8 649.4L1159.7 648.6L1159.6 646.5L1162.1 646.1L1161.5 643.7L1163.8 643.2L1163.4 640.8L1165.4 640.1L1165.3 638L1167.6 637.5L1167.3 635.2L1169.7 634.8L1169.2 632.4L1171.4 631.8L1171.3 629.6L1173.1 628.8L1173.3 626.8L1176 626.7L1175.4 624.1L1177.8 623.8L1177.5 621.4L1180.1 621.3L1179.6 618.7L1182 618.4L1181.7 616L1184.3 615.9L1183.8 613.3L1186.4 613.2L1186 610.7L1188.8 610.7L1188.2 608L1190.8 608L1190.3 605.4L1195.6 609.8L1196.2 612.5L1194.1 612.9L1194 615.1L1191.9 615.5L1191.9 617.7L1189.6 618L1189.8 620.3L1187.7 620.8L1187.7 622.9L1185.1 623.1L1185.6 625.6L1182.9 625.6L1183.5 628.2L1181.3 628.6L1181.5 630.9L1179.3 631.3L1179.4 633.5L1177.5 634.2L1177.5 636.2L1175 636.5L1175.5 638.9L1173.2 639.3L1173.6 641.6L1171.8 642.4L1171.7 644.4L1169.9 645.2L1169.8 647.2L1168 648L1167.9 650L1165.5 650.4L1166.1 652.8L1164.2 653.5L1164.3 655.6ZM1195.1 602.7L1194.8 600.2L1197 599.8L1197 597.6L1199.2 597.2L1199.3 595L1201.9 595L1201.6 592.4L1204.3 592.6L1203.9 589.9L1206.3 589.8L1206.3 587.4L1209.2 587.9L1208.6 584.9L1211.1 584.9L1211 582.5L1214 583L1213.5 580L1216.4 580.6L1215.9 577.6L1218.3 577.7L1218.4 575.2L1220.9 575.3L1225.9 580.7L1223.2 580.3L1223.5 583L1220.7 582.5L1221.1 585.3L1219 585.6L1218.7 587.7L1216.4 587.8L1216.4 590.1L1214.1 590.2L1214 592.5L1211.3 592.2L1211.7 594.9L1209.4 595L1209.4 597.3L1206.8 597.2L1207.2 599.8L1204.8 599.9L1204.9 602.3L1202.7 602.5L1202.7 604.8L1200.2 604.9L1200.5 607.3ZM1248.5 554.8L1248.9 551.8L1251.3 552.7L1252.1 550.2L1254.5 551.2L1255.3 548.8L1257.8 550.3L1258.6 547.4L1260.9 548.6L1261.9 546.1L1264.7 548.8L1265.2 545L1267.6 546.7L1268.6 544L1270.9 545.7L1272 543L1274.3 544.9L1275.5 542.1L1277.8 544.6L1279.1 541.4L1280 547.3L1279.1 551.4L1276.8 548.1L1276 552L1273.5 548.7L1272.9 552.8L1270.4 550L1269.8 553.7L1267.4 551.7L1266.7 554.7L1264.4 553.2L1263.6 555.8L1260.8 553.1L1260.6 556.9L1257.9 554.7L1257.6 558.2L1255.4 557.2L1254.7 559.6L1252 557.8L1251.9 561ZM1309.5 537.7L1311.7 540.7L1312.8 537.2L1314.9 539.1L1316.2 536.6L1318.2 538.8L1319.5 536.1L1321.6 538.5L1322.8 535.5L1324.9 537.6L1326.1 534.9L1328.1 536.4L1329.4 534.2L1331.6 536.5L1332.7 533.6L1334.8 535.7L1336 532.9L1338.1 534.8L1339.2 532.2L1341.6 535L1343.1 541.3L1340.9 539.3L1339.7 542.1L1337.6 540.5L1336.3 542.8L1334.1 540.5L1333 543.5L1330.8 541.4L1329.6 544.2L1327.2 540.7L1326.2 544.8L1323.9 541.8L1322.8 545.4L1320.8 543.7L1319.4 546L1317.2 542.8L1316 546.5L1313.7 543L1312.6 547.1L1310.6 545.1ZM1370.3 525.3L1370.5 522L1373.2 523.8L1373.4 520.5L1375.9 521.7L1376.2 518.9L1379.3 520.8L1379.1 517.2L1381.5 518L1382 515.5L1384.9 516.9L1384.9 513.7L1387.2 514.2L1387.9 511.9L1390.3 512.7L1390.9 510.2L1393.3 511L1393.9 508.5L1396.9 510.4L1397 506.9L1399.9 508.8L1402.9 514.6L1399.8 512.3L1399.9 516.1L1397.6 515.3L1397 517.7L1393.9 515.6L1394.1 519.3L1391.6 518.2L1391.3 521L1388.2 519.1L1388.4 522.7L1386 522L1385.4 524.5L1382.8 523.5L1382.5 526.2L1379.6 524.7L1379.4 528L1376.9 527L1376.3 529.7L1373.7 528.5L1373.1 531.3ZM1427.6 491.8L1430.6 494L1430.6 490.3L1433.1 491.6L1433.7 488.8L1436.1 489.9L1436.7 487.3L1439.7 489.6L1439.7 485.8L1442.4 487.2L1442.7 484.3L1445.7 486.3L1445.8 482.7L1448.7 484.7L1448.8 481.2L1451.4 482.5L1451.8 479.6L1454.8 481.8L1454.8 478L1457.4 479.4L1457.8 476.5L1460.1 477.2L1463.7 484.2L1461.4 483.4L1460.7 485.7L1458.2 484.7L1457.7 487.3L1454.9 485.7L1454.7 488.9L1452.1 487.7L1451.6 490.4L1448.6 488.3L1448.6 492L1446.2 491L1445.6 493.5L1442.7 491.6L1442.5 495.1L1439.8 493.5L1439.5 496.6L1436.9 495.3L1436.4 498.1L1433.4 495.9L1433.3 499.7L1430.4 497.6ZM1491.2 459.5L1494.1 461.5L1494.3 458L1496.7 459.1L1497.3 456.5L1500.1 458.3L1500.3 454.9L1503 456.5L1503.3 453.4L1505.7 454.3L1506.3 451.8L1508.6 452.6L1509.3 450.3L1511.9 451.6L1512.2 448.7L1515.3 450.8L1515.2 447L1517.8 448.2L1518.1 445.4L1520.8 446.8L1521 443.7L1524.2 449.1L1524.3 452.7L1521.6 451.6L1521.3 454.5L1518.9 453.7L1518.3 456.2L1515.3 454.3L1515.3 457.8L1512.5 456.2L1512.3 459.5L1509.9 458.7L1509.2 461.1L1506.3 459.2L1506.2 462.6L1503.4 460.9L1503.1 464.2L1500.4 462.7L1500.1 465.8L1497.3 464L1497 467.3L1494.4 465.9ZM1552.5 427L1552.2 423.4L1555.3 425L1555 421.5L1557.8 422.7L1557.9 419.7L1560.9 421.2L1560.7 417.9L1563.1 418.4L1563.6 416L1566.4 417.1L1566.5 414.2L1569.2 415.3L1569.3 412.3L1572.3 413.8L1572.2 410.5L1574.7 411.3L1575 408.6L1578 410.1L1577.9 406.8L1580.7 408L1580.7 404.9L1584.9 411.3L1584.4 413.7L1582.1 413.4L1581.6 415.6L1578.5 414L1578.7 417.5L1576.4 416.9L1575.9 419.3L1572.8 417.7L1573 421.2L1570.1 419.9L1570.1 423L1567.5 422.1L1567.3 424.9L1564.9 424.3L1564.4 426.7L1561.3 425L1561.6 428.5L1558.5 426.9L1558.7 430.4L1556 429.4L1555.9 432.2ZM1612.3 387.9L1612.3 384.6L1615.1 386L1615.2 382.8L1617.6 383.5L1618.1 381.1L1620.5 381.9L1621 379.4L1623.8 380.7L1623.9 377.6L1626.9 379.3L1626.7 375.8L1629.4 376.9L1629.5 374L1632.6 375.6L1632.3 372.1L1635.3 373.6L1635 370.2L1637.9 371.4L1637.8 368.3L1640.5 369.2L1640.5 366.3L1644.6 371.9L1644.6 374.9L1642 374.2L1641.8 376.9L1639.5 376.6L1639 378.9L1636.2 378L1636.1 380.9L1633.8 380.5L1633.3 382.8L1630.5 381.7L1630.3 384.7L1627.9 384.1L1627.4 386.5L1624.3 384.8L1624.5 388.3L1621.6 386.9L1621.5 390.1L1618.5 388.3L1618.6 391.9L1615.5 389.9L1615.7 393.6ZM1670.3 343.9L1672.8 344.4L1673 341.9L1675.3 342.1L1675.7 339.8L1678.2 340.3L1678.3 337.7L1681.1 338.5L1681 335.6L1683.4 335.9L1683.7 333.5L1686.3 334L1686.3 331.4L1689.4 332.5L1689 329.3L1691.3 329.4L1691.6 327.2L1694.1 327.5L1694.3 325L1696.8 325.5L1696.9 322.9L1699.3 323.2L1699.6 320.8L1703.9 326.1L1704.1 329.1L1701.7 328.9L1701.4 331.2L1699.2 331.1L1698.8 333.4L1696.3 333L1696.1 335.5L1693.5 335L1693.4 337.6L1691.2 337.5L1690.8 339.7L1687.8 338.7L1688.1 341.9L1685.5 341.2L1685.4 344L1683.1 343.8L1682.7 346.1L1680.1 345.5L1680.1 348.2L1677.3 347.5L1677.4 350.3L1675 350ZM1726.6 298.7L1726.7 296.9L1728.5 296.2L1728.1 294.3L1729.2 293L1729.3 291.3L1730.3 289.8L1730.3 288L1731.2 286.6L1731.2 284.8L1732.1 283.3L1732.2 281.5L1733.1 280L1733.2 278.3L1734.2 276.8L1734.2 275L1735.4 273.6L1735.1 271.8L1736.3 270.3L1736.1 268.5L1743.6 270.7L1743.6 272.5L1742.4 273.9L1742.6 275.7L1741.8 277.3L1741.7 279L1740.7 280.6L1740.7 282.4L1739.4 283.7L1739.7 285.5L1738.6 286.9L1738.7 288.7L1737.9 290.3L1737.8 292.1L1736.6 293.6L1736.7 295.6L1735 297.1L1735.1 299.6L1733 300.9L1733 303.3ZM1746 239.5L1747.3 238.2L1747.1 236.3L1748.1 234.9L1748 233.1L1748.9 231.6L1748.8 229.8L1749.5 228.2L1749.5 226.5L1750.1 224.9L1750.1 223.2L1750.8 221.5L1750.8 219.8L1751.4 218.2L1751.4 216.5L1752.2 214.9L1752.1 213.1L1752.7 211.5L1760.5 213.2L1759.7 214.7L1759.8 216.4L1759.1 218L1759.2 219.7L1758.4 221.3L1758.5 223L1757.9 224.6L1757.9 226.4L1757.3 228.1L1757.2 229.8L1756.4 231.5L1756.4 233.4L1755.6 235.1L1755.5 237L1754.4 238.5L1754.5 240.4L1753.5 242ZM1760.2 181.9L1760.3 180.1L1761.1 178.6L1761.2 176.8L1762 175.3L1762.1 173.5L1763.2 172.1L1763 170.3L1763.8 168.7L1763.9 167L1764.8 165.5L1764.9 163.7L1766 162.3L1765.9 160.5L1767.1 159L1767 157.2L1768 155.7L1768 154L1769.5 152.6L1776.6 155.1L1775.5 156.5L1775.5 158.3L1774.3 159.6L1774.4 161.4L1773.1 162.7L1773.4 164.6L1772.2 165.9L1772.4 167.7L1771.6 169.2L1771.5 170.9L1770.5 172.4L1770.5 174.2L1769.5 175.6L1769.6 177.4L1768.5 178.8L1768.7 180.7L1767.8 182.1L1767.9 183.9ZM1782.8 121.2L1782.4 118.8L1784.8 118.3L1784.4 115.8L1786.4 115.1L1786.6 113L1789.4 113L1788.9 110.2L1791.6 110.4L1791.3 107.6L1793.5 107.3L1793.8 105.2L1796.5 105.5L1796.2 102.8L1799 103.3L1798.5 100.5L1801.1 100.6L1800.9 98L1803.6 98.3L1803.3 95.5L1806 95.9L1805.7 93.1L1808.4 93.4L1813.3 98.4L1810.4 97.9L1810.9 100.8L1808.8 101L1808.6 103.2L1805.9 102.9L1806.2 105.5L1804 105.7L1803.9 108L1801.2 107.8L1801.4 110.5L1798.4 109.9L1799 112.9L1796.4 112.6L1796.7 115.2L1793.9 114.8L1794.6 117.5L1792.4 117.7L1792.6 119.9L1790.8 120.5L1790.7 122.3L1788.6 122.8L1789.1 124.8Z"/>
<path id="g3" d="M1110.4 785.2L1111.3 783.6L1111.4 781.9L1112.2 780.4L1112.3 778.6L1113.3 777.1L1113.2 775.3L1114.4 773.9L1114.2 772.1L1115.1 770.6L1115.1 768.8L1116.1 767.3L1116 765.5L1117.1 764.1L1117 762.3L1118 760.8L1117.9 759L1119 757.5L1118.8 755.7L1119.7 754.2L1119.8 752.5L1120.9 751L1120.7 749.2L1121.6 747.7L1121.6 745.9L1122.6 744.4L1122.6 742.7L1123.5 741.1L1123.5 739.4L1124.4 737.9L1124.4 736.1L1125.3 734.6L1125.4 732.8L1126.4 731.4L1126.3 729.6L1127.3 728.1L1127.2 726.3L1128.2 724.8L1128.1 723L1129.3 721.6L1129.1 719.8L1130.3 718.3L1130 716.5L1130.9 715L1130.9 713.2L1131.9 711.7L1131.8 710L1132.7 708.4L1132.7 706.7L1133.7 705.2L1133.6 703.4L1134.6 701.9L1134.4 700.1L1135.3 698.6L1135.3 696.8L1136.2 695.3L1136.2 693.5L1137.1 692L1137.1 690.3L1138.1 688.8L1138 687L1138.8 685.4L1138.8 683.7L1139.7 682.1L1139.8 680.4L1147.4 682.6L1147.3 684.3L1146.4 685.7L1146.4 687.5L1145.4 689L1145.6 690.7L1144.8 692.3L1144.7 694L1143.7 695.6L1143.8 697.3L1143 698.9L1142.9 700.6L1142.1 702.1L1142 703.9L1141.2 705.4L1141.2 707.2L1140.4 708.7L1140.3 710.5L1139.2 712L1139.4 713.8L1138.4 715.3L1138.5 717.1L1137.6 718.6L1137.6 720.4L1136.5 721.9L1136.6 723.7L1135.5 725.1L1135.7 727L1134.9 728.5L1134.8 730.2L1133.8 731.7L1133.8 733.5L1132.9 735L1132.9 736.8L1131.9 738.2L1132 740L1131.1 741.6L1131 743.3L1129.9 744.7L1130.1 746.6L1129.1 748L1129.2 749.8L1128.4 751.4L1128.3 753.1L1127.4 754.7L1127.3 756.4L1126.4 757.9L1126.4 759.7L1125.4 761.1L1125.4 762.9L1124.5 764.4L1124.5 766.2L1123.3 767.6L1123.6 769.5L1122.7 771L1122.6 772.7L1121.6 774.2L1121.7 776L1120.9 777.5L1120.8 779.3L1119.7 780.7L1119.8 782.5L1118.9 784L1118.9 785.8L1118 787.3ZM1142 675.7L1141.8 673.8L1143 672.4L1142.9 670.6L1144.1 669.2L1144 667.3L1145.2 666L1145.2 664.1L1146.4 662.7L1146.5 660.9L1147.8 659.6L1148 657.7L1149.8 656.7L1149.5 654.6L1151.2 653.6L1151 651.5L1152.6 650.4L1152.7 648.5L1159 652L1159.5 654.1L1157.9 655.1L1157.9 657L1156.3 658L1156.4 660L1155.1 661.1L1155 662.9L1153.3 663.9L1153.7 665.8L1152.5 667L1152.5 668.8L1151.2 670L1151.4 671.8L1150 673.1L1150.3 674.9L1149.3 676.3L1149.2 678ZM1188.8 596.6L1189 594.6L1191.4 594.3L1191.1 591.9L1193.8 591.8L1193.2 589.2L1195.4 588.8L1195.4 586.5L1197.5 586.1L1197.5 583.8L1199.7 583.4L1199.7 581.2L1202.2 581L1201.9 578.6L1204.6 578.6L1204.1 575.9L1206.7 576L1206.4 573.3L1209.1 573.5L1208.6 570.8L1211.2 570.8L1210.9 568.2L1213.2 567.9L1218.8 573.1L1216.5 573.4L1216.5 575.6L1214.2 575.8L1214.3 578.1L1211.5 577.9L1212.1 580.6L1209.5 580.6L1209.9 583.1L1207.7 583.4L1207.7 585.7L1205.7 586.2L1205.5 588.2L1203.1 588.4L1203.4 590.8L1201.5 591.4L1201.3 593.4L1199 593.8L1199.2 596.1L1197.2 596.6L1197.2 598.7L1195.1 599.2L1195.1 601.4ZM1244.4 538L1246.9 538.7L1247.4 536.1L1250.2 537.4L1250.5 534.3L1252.8 535L1253.6 532.6L1256.3 534.1L1256.7 531L1259.2 532.1L1260 529.5L1262.8 531.7L1263.2 528.2L1265.6 529.6L1266.5 526.9L1268.9 528.5L1269.8 525.7L1272.2 527.5L1273.2 524.6L1275.4 525.9L1276.6 523.6L1278.8 525L1280.1 522.7L1282.3 524.7L1283.5 522L1284.9 529.2L1283.8 531.9L1281.7 530.3L1280.6 532.6L1278.1 529.3L1277.5 533.4L1274.9 530.3L1274.5 534.3L1272.1 532.4L1271.4 535.4L1268.9 533.5L1268.3 536.5L1265.6 534.2L1265.3 537.7L1262.7 535.8L1262.3 539L1259.7 537.1L1259.4 540.4L1256.9 539L1256.5 541.9L1253.6 540L1253.7 543.4L1251.1 542.1L1250.9 545L1248 543.5ZM1320 514.7L1322.3 517L1323.2 513.9L1325.3 515.4L1326.4 513L1328.8 515.3L1329.7 512.1L1332.3 515.3L1332.9 511.2L1335.2 513.3L1336 510.2L1338.7 513.1L1339.2 509.2L1341.4 510.7L1342.2 508.1L1344.4 509.2L1345.2 506.9L1347.8 508.6L1348.2 505.5L1351.1 507.8L1351.2 504.1L1353.7 505.4L1354.2 502.6L1356.9 504.2L1360 510.4L1357.3 508.8L1356.9 511.9L1354.2 510.4L1353.8 513.5L1351 511.7L1350.6 515L1347.7 512.6L1347.4 516.4L1344.9 514.9L1344 517.7L1341.6 516.4L1340.6 518.9L1338.2 517L1337.3 520L1334.9 517.8L1334 521L1331.7 519.3L1330.7 521.9L1328 518.8L1327.3 522.8L1324.7 519.7L1324 523.7L1321.8 522.3ZM1391.7 483.3L1392.2 480.8L1395.1 482.2L1395.1 479L1397.9 480.3L1398.1 477.2L1400.5 478L1401 475.5L1403.4 476.3L1403.9 473.8L1406.6 475L1406.9 472.1L1409.7 473.6L1409.8 470.4L1412.7 471.9L1412.8 468.6L1415.5 469.9L1415.7 466.9L1418.7 468.7L1418.6 465.2L1421.3 466.5L1421.6 463.5L1424.6 465.3L1424.5 461.8L1427.1 462.9L1430.8 469.1L1428.2 468.2L1427.8 470.8L1425.4 470.1L1424.9 472.5L1422 471L1421.9 474.3L1419.1 472.7L1419 476L1416.4 474.9L1416.1 477.7L1413 475.9L1413.1 479.4L1410.4 478.2L1410.2 481.1L1407.8 480.4L1407.3 482.8L1404.6 481.6L1404.3 484.5L1401.3 482.8L1401.4 486.3L1399 485.5L1398.5 488L1395.9 486.8L1395.7 489.7ZM1456.1 442.2L1458.7 443L1459 440.3L1462 441.9L1461.8 438.5L1464.3 439.2L1464.7 436.6L1467 437.1L1467.5 434.8L1470.3 436L1470.4 432.9L1473 433.9L1473.2 431.1L1475.6 431.6L1476.1 429.2L1479.1 430.8L1479 427.4L1482.2 429.2L1481.9 425.6L1485.1 427.4L1484.8 423.8L1487.1 424.2L1487.7 422L1491.7 428.6L1491.2 431L1488.2 429.3L1488.3 432.7L1485.3 431L1485.5 434.5L1483.2 434.1L1482.6 436.3L1480.3 435.8L1479.8 438.1L1477.2 437.2L1476.9 439.9L1474.4 439.2L1474.1 441.8L1471.4 440.8L1471.2 443.6L1468.4 442.5L1468.4 445.5L1465.3 443.9L1465.5 447.3L1462.5 445.7L1462.7 449.2L1460.3 448.7ZM1516.9 404.8L1519.4 405.6L1519.7 402.9L1522.7 404.3L1522.4 401L1525.4 402.4L1525.2 399.1L1527.7 399.7L1527.9 397.1L1530.4 397.7L1530.6 395.1L1533.6 396.3L1533.3 393.1L1535.8 393.5L1536.1 391.1L1539 392.2L1538.8 389.1L1541.4 389.7L1541.6 387L1544.6 388.3L1544.3 385L1547.3 386.2L1547.1 383L1551.7 389.4L1551.2 391.6L1548.7 391L1548.5 393.6L1546.2 393.3L1545.7 395.6L1542.6 394.2L1543 397.6L1540 396.4L1540.3 399.6L1538 399.4L1537.5 401.7L1535.2 401.3L1534.8 403.7L1532.4 403.4L1532 405.7L1529.5 405.1L1529.2 407.7L1526.2 406.4L1526.4 409.7L1523.5 408.6L1523.5 411.7L1520.6 410.4ZM1576.9 363.4L1577.1 360.8L1579.4 361.1L1579.8 358.8L1582.2 359.1L1582.5 356.8L1584.8 357L1585.2 354.7L1588.2 355.9L1588 352.7L1590.9 353.7L1590.7 350.6L1593 350.9L1593.4 348.6L1596.1 349.3L1596.1 346.5L1598.7 347.1L1598.9 344.5L1601.7 345.5L1601.6 342.5L1604.3 343.2L1604.4 340.5L1607 341.1L1611.2 347.1L1608.1 345.7L1608.5 349.1L1606.1 348.6L1605.8 351L1603.5 350.7L1603.1 353L1600.6 352.5L1600.4 355.1L1597.6 354.2L1597.7 357.1L1594.5 355.7L1594.9 359.1L1592.5 358.6L1592.2 361.2L1589.2 359.9L1589.5 363.2L1586.7 362.3L1586.8 365.3L1584.5 365.1L1584.1 367.3L1581.8 367.1L1581.3 369.3ZM1634.8 318.9L1637.8 320L1637.4 316.8L1640.4 317.9L1640.1 314.7L1642.4 315L1642.7 312.6L1644.9 312.7L1645.3 310.5L1648 311.1L1648 308.3L1650.3 308.5L1650.6 306.2L1653.4 306.9L1653.3 304L1656 304.7L1655.9 301.9L1658.9 302.9L1658.6 299.7L1661 300.1L1661.3 297.6L1663.5 297.7L1664 295.5L1668 300.7L1668.4 303.9L1665.6 303.1L1665.7 306L1663.4 305.8L1663 308.1L1660.4 307.5L1660.4 310.2L1658 309.9L1657.8 312.3L1655 311.6L1655.1 314.4L1652.7 314.1L1652.5 316.6L1650.2 316.5L1649.9 318.7L1646.8 317.6L1647.2 320.9L1645 320.8L1644.6 323L1641.9 322.5L1641.9 325.2L1639.4 324.8ZM1692.5 274.3L1692.5 271.8L1694.8 271.8L1695.1 269.6L1697.5 269.7L1697.6 267.3L1699.8 267.2L1700.1 265L1702.8 265.5L1702.5 262.7L1705.6 263.5L1705 260.4L1707.4 260.4L1707.4 258.1L1709.8 258.2L1709.8 255.8L1712.1 255.7L1712.2 253.4L1714.9 253.7L1714.6 251L1717.5 251.4L1717 248.5L1719.6 248.7L1719.5 246L1724.5 251.4L1724.6 253.8L1722.3 253.8L1722.3 256.2L1719.4 255.7L1719.9 258.6L1717.5 258.6L1717.5 261L1714.6 260.5L1715.1 263.5L1712.2 263.1L1712.6 265.9L1710.3 266L1710.1 268.3L1707.9 268.4L1707.6 270.6L1704.9 270.3L1705 272.9L1702.4 272.6L1702.5 275.3L1699.5 274.5L1700 277.6L1697.5 277.3L1697.4 279.9ZM1733.5 219.5L1733.3 217.6L1734.7 216.3L1734.5 214.3L1736 213.1L1735.8 211.1L1737.3 209.9L1737.2 208L1738.9 206.9L1738.6 205L1739.9 203.7L1739.8 201.9L1741.2 200.6L1740.9 198.8L1742.1 197.4L1741.9 195.5L1742.7 194L1742.7 192.3L1743.6 190.7L1751.2 192.6L1750.2 194.1L1750.3 196L1749.3 197.6L1749.4 199.5L1748.3 201.1L1748.3 203L1747.2 204.6L1747.1 206.5L1745.4 207.8L1745.7 209.9L1744.2 211.1L1744.3 213.1L1742.7 214.1L1743 216L1741.7 217.2L1741.8 218.9L1740.5 220.2L1740.7 221.9ZM1750.7 161L1750.8 159.2L1751.6 157.7L1751.6 155.9L1752.5 154.4L1752.5 152.6L1753.2 151.1L1753.3 149.3L1754.2 147.8L1754 146L1754.8 144.5L1754.8 142.7L1755.6 141.2L1755.6 139.4L1756.4 137.9L1756.3 136.1L1757.2 134.6L1757.1 132.8L1764.8 134.5L1764.8 136.3L1763.8 137.8L1764 139.6L1763.2 141.2L1763.2 142.9L1762.4 144.5L1762.5 146.3L1761.6 147.8L1761.7 149.6L1760.8 151.2L1760.9 152.9L1760 154.5L1760.1 156.3L1759.1 157.8L1759.3 159.6L1758.3 161.1L1758.4 162.9ZM1764.3 103L1765.3 101.5L1765.1 99.7L1766 98.2L1766 96.4L1767.1 95L1766.9 93.1L1768 91.7L1767.8 89.8L1769.1 88.4L1768.9 86.5L1770.3 85.2L1770 83.2L1771.4 81.9L1771.4 80L1773 78.9L1772.8 76.9L1774.8 75.9L1774.4 73.7L1776 72.6L1782.8 76.5L1781.2 77.4L1781.3 79.3L1779.5 80.1L1779.9 82.1L1778.3 83.1L1778.5 85L1777.3 86.1L1777.4 87.8L1776.1 89L1776.3 90.8L1775.2 92.1L1775.4 93.8L1774.4 95.3L1774.5 97L1773.6 98.5L1773.6 100.2L1772.9 101.7L1772.8 103.4L1772 105ZM1796.9 41.4L1796.4 39.5L1802.3 43.6L1802.9 45.6Z"/><path id="r3" d="M1139.8 680.4L1140.7 678.9L1140.7 677.1L1142 675.7L1149.2 678L1148.2 679.4L1148.2 681.1L1147.4 682.6ZM1152.7 648.5L1154.3 647.4L1154.3 645.5L1156.5 644.7L1156.1 642.5L1158.4 641.9L1157.8 639.6L1159.9 638.8L1159.7 636.6L1161.7 635.9L1161.5 633.8L1163.2 632.8L1163.3 630.9L1165.6 630.3L1165.2 628L1167.3 627.4L1167.1 625.1L1169.1 624.4L1169 622.3L1171.2 621.8L1170.9 619.5L1173.4 619.1L1172.9 616.6L1175.5 616.4L1174.8 613.9L1176.8 613.2L1176.8 611.1L1178.7 610.3L1178.8 608.3L1180.7 607.6L1180.9 605.6L1183.3 605.2L1182.9 602.8L1185 602.3L1184.9 600.1L1187 599.5L1187 597.4L1188.8 596.6L1195.1 601.4L1192.5 601.5L1193.1 604.1L1190.9 604.5L1191.1 606.8L1188.7 607.2L1189 609.5L1186.6 609.8L1187 612.2L1185 612.8L1185 614.9L1183.1 615.6L1183 617.7L1180.7 618.1L1181.1 620.4L1178.8 620.8L1179.2 623.1L1176.8 623.6L1177.2 625.9L1175.1 626.4L1175.4 628.7L1173.3 629.3L1173.5 631.4L1171.8 632.3L1171.6 634.2L1169.6 634.9L1169.8 637.1L1167.6 637.6L1168 639.9L1165.9 640.6L1166.2 642.8L1164.5 643.6L1164.5 645.6L1162.7 646.4L1162.7 648.4L1161 649.3L1161.1 651.3L1159 652ZM1213.2 567.9L1213.3 565.7L1215.4 565.4L1215.7 563.2L1217.9 563L1218.1 560.7L1220.4 560.6L1220.5 558.3L1223 558.4L1223 555.9L1225.8 556.3L1225.5 553.5L1228.2 553.9L1228.1 551.2L1230.7 551.6L1230.7 548.9L1233.1 549.1L1233.3 546.6L1235.9 547.1L1235.9 544.4L1238.2 544.5L1238.7 542.2L1241.3 542.7L1241.5 540.1L1244.2 540.8L1244.4 538L1248 543.5L1248.3 546.8L1245.5 545.6L1245.7 548.6L1242.7 547.4L1243.1 550.6L1240.8 550.5L1240.5 552.7L1237.9 552.1L1238 554.8L1235 553.9L1235.4 557L1233.1 556.9L1233 559.2L1230.6 559.1L1230.5 561.4L1228.2 561.4L1228.1 563.7L1226 563.9L1225.7 566L1223 565.7L1223.4 568.3L1221.1 568.5L1221.1 570.7L1218.9 570.9L1218.8 573.1ZM1283.5 522L1285.9 525.3L1286.9 521.4L1289.3 524.9L1290.3 520.8L1292.3 522.4L1293.7 520.2L1296 523.6L1297 519.6L1299.3 522.9L1300.2 519L1302.6 522L1303.5 518.3L1306 521.7L1306.9 517.6L1308.9 519.2L1310.1 516.9L1312.3 518.9L1313.4 516.2L1315.5 517.8L1316.7 515.5L1319 517.7L1320 514.7L1321.8 522.3L1320.6 524.5L1318.3 522.4L1317.3 525.3L1315 523L1313.9 526.1L1311.6 523.6L1310.5 526.8L1308.1 523.6L1307.2 527.5L1304.9 525L1303.8 528.2L1301.8 526.7L1300.4 528.9L1298.3 527.1L1297 529.5L1294.8 526.7L1293.7 530.1L1291.5 527.7L1290.4 530.7L1288 527.4L1287 531.3L1284.9 529.2ZM1356.9 504.2L1357.2 501.1L1359.6 502.2L1360.2 499.6L1363.1 501.4L1363.2 498L1366.3 500.2L1366.1 496.4L1368.6 497.5L1369.1 494.8L1371.7 496L1371.9 493.2L1374.8 494.7L1374.8 491.5L1377.3 492.3L1377.7 489.7L1380.3 490.6L1380.6 487.9L1383 488.6L1383.5 486.2L1386.1 487.1L1386.4 484.4L1388.7 484.8L1389.3 482.5L1391.7 483.3L1395.7 489.7L1392.8 488.2L1392.8 491.5L1389.9 490L1389.9 493.3L1386.8 491.6L1387 495.1L1384.4 494.1L1384.1 496.9L1381.1 495.3L1381.2 498.7L1378.1 496.9L1378.2 500.5L1375.6 499.4L1375.2 502.2L1372.8 501.5L1372.2 503.9L1369.7 503L1369.1 505.6L1366.7 504.7L1366.1 507.2L1363.5 506L1363.1 508.8L1360.6 507.6L1360 510.4ZM1427.1 462.9L1427.4 460.1L1429.8 460.9L1430.3 458.3L1432.8 459.2L1433.2 456.6L1435.9 457.8L1436.1 454.8L1438.7 455.9L1439 453.1L1441.6 454.1L1441.8 451.3L1444.2 451.9L1444.7 449.5L1447.1 450.1L1447.6 447.7L1450.3 448.8L1450.4 445.9L1452.9 446.6L1453.3 444L1456.4 445.8L1456.1 442.2L1460.3 448.7L1459.8 451L1456.9 449.6L1457 452.9L1454.1 451.6L1454.1 454.7L1451.1 453.3L1451.2 456.6L1448.7 455.8L1448.3 458.4L1445.3 456.8L1445.4 460.2L1442.4 458.6L1442.5 462L1439.5 460.4L1439.6 463.8L1437.2 463.2L1436.6 465.6L1433.5 463.7L1433.7 467.3L1430.6 465.5L1430.8 469.1ZM1487.7 422L1490.3 422.9L1490.7 420.2L1493 420.8L1493.7 418.5L1496.7 420.4L1496.6 416.8L1499.1 417.7L1499.6 415.1L1502.6 416.9L1502.5 413.4L1504.9 414.2L1505.5 411.7L1508.1 412.9L1508.4 410L1510.7 410.6L1511.2 408.3L1513.8 409.3L1514.1 406.5L1516.5 407.2L1516.9 404.8L1520.6 410.4L1520.6 413.6L1517.5 411.9L1517.6 415.5L1514.9 414.4L1514.7 417.3L1511.6 415.6L1511.7 419L1509.3 418.3L1508.7 420.8L1506.2 419.7L1505.8 422.5L1502.8 420.6L1502.8 424.2L1499.9 422.4L1499.9 425.9L1496.8 423.9L1497 427.5L1494.5 426.7L1494.1 429.2L1491.7 428.6ZM1547.1 383L1549.3 383.3L1549.8 381L1552.7 382.1L1552.5 379L1555.3 379.9L1555.3 377L1557.6 377.3L1558 375L1560.6 375.6L1560.7 373L1563.2 373.5L1563.5 370.9L1566.1 371.7L1566.2 368.9L1568.7 369.4L1568.9 366.9L1572 368.3L1571.6 364.9L1574.3 365.6L1574.4 362.8L1576.9 363.4L1581.3 369.3L1578.9 368.9L1578.6 371.4L1576.3 371.1L1575.9 373.4L1572.7 372.1L1573.1 375.4L1570.5 374.7L1570.4 377.5L1568 377.1L1567.7 379.5L1564.9 378.6L1564.9 381.5L1562.6 381.3L1562.2 383.5L1559.4 382.6L1559.4 385.5L1556.7 384.7L1556.7 387.6L1553.9 386.6L1554 389.6L1551.7 389.4ZM1607 341.1L1607.2 338.5L1610.4 340L1610 336.5L1612.8 337.6L1612.9 334.6L1615.7 335.7L1615.7 332.7L1618.4 333.7L1618.5 330.7L1620.8 331.1L1621.3 328.8L1624.1 330L1624 326.9L1626.5 327.5L1626.7 325L1629.1 325.3L1629.4 323L1632 323.5L1632.1 321L1634.6 321.4L1634.8 318.9L1639.4 324.8L1639.2 327.3L1636.7 327L1636.4 329.4L1633.9 328.9L1633.6 331.5L1631.1 331L1630.8 333.6L1627.7 332.1L1628 335.6L1624.9 334.1L1625.2 337.5L1622.6 336.7L1622.4 339.5L1619.8 338.7L1619.6 341.4L1617.1 340.8L1616.8 343.3L1614 342.2L1614 345.2L1611.5 344.5L1611.2 347.1ZM1664 295.5L1667.1 296.8L1666.6 293.4L1669.6 294.4L1669.3 291.3L1672.4 292.5L1671.9 289.2L1674.1 289.3L1674.6 287.1L1677.2 287.7L1677.2 285L1680.3 286.1L1679.8 282.9L1682.5 283.5L1682.4 280.7L1684.9 281.1L1684.9 278.5L1687.8 279.2L1687.5 276.3L1689.9 276.5L1690 274.1L1692.5 274.3L1697.4 279.9L1695.1 279.8L1694.8 282.1L1692.3 281.8L1692.3 284.4L1689.2 283.5L1689.7 286.6L1686.9 286L1687.1 288.9L1684.2 288.2L1684.4 291.1L1682.2 291.1L1681.7 293.3L1679.5 293.2L1679.1 295.4L1676.7 295.1L1676.4 297.6L1673.9 297.2L1673.7 299.7L1671.2 299.2L1671 301.8L1668 300.7ZM1719.5 246L1722.4 246.6L1722.2 243.7L1725.1 244.6L1724.5 241.8L1726.4 241.5L1726.3 239.8L1727.8 238.9L1727.7 237.1L1729 235.8L1728.9 234.1L1730.1 232.7L1729.9 230.9L1730.8 229.4L1730.7 227.6L1731.3 226L1731.4 224.3L1732.4 222.7L1732.3 220.9L1733.5 219.5L1740.7 221.9L1739.7 223.1L1739.8 224.7L1739.1 226.1L1739.1 227.8L1738.3 229.4L1738.3 231.1L1737.5 232.8L1737.4 234.8L1736.1 236.5L1736.2 238.5L1734.6 239.9L1734.8 242.2L1732.8 243.8L1732.5 246.3L1729.6 246.6L1729.6 249.5L1727.1 249.5L1726.9 251.9L1724.5 251.4ZM1743.6 190.7L1743.5 189L1744.5 187.4L1744.3 185.7L1745.2 184.1L1745.1 182.3L1745.8 180.8L1745.8 179L1746.6 177.5L1746.6 175.7L1747.5 174.2L1747.5 172.4L1748.4 170.9L1748.3 169.1L1749.3 167.6L1749.1 165.8L1750.1 164.3L1750 162.5L1750.7 161L1758.4 162.9L1757.7 164.5L1757.6 166.2L1756.6 167.7L1756.7 169.5L1755.8 171L1755.9 172.8L1754.9 174.3L1755.1 176.1L1754.2 177.6L1754.3 179.3L1753.4 180.8L1753.5 182.6L1752.7 184.1L1752.7 185.9L1751.9 187.4L1752 189.2L1751.1 190.8L1751.2 192.6ZM1757.1 132.8L1757.9 131.2L1757.8 129.5L1758.6 127.9L1758.6 126.2L1759.5 124.6L1759.4 122.8L1760.1 121.3L1760.2 119.5L1761.3 118.1L1761 116.2L1762 114.7L1761.9 112.9L1762.8 111.4L1762.7 109.6L1763.6 108.1L1763.5 106.3L1764.3 104.8L1764.3 103L1772 105L1771.9 106.7L1771 108.2L1771.1 110L1770.2 111.5L1770.3 113.3L1769.6 114.9L1769.5 116.6L1768.7 118.2L1768.7 119.9L1767.7 121.4L1767.8 123.2L1766.9 124.7L1767.1 126.4L1766.1 127.9L1766.3 129.7L1765.3 131.2L1765.5 133L1764.8 134.5ZM1776 72.6L1776.1 70.7L1778.2 69.9L1777.9 67.7L1779.6 66.7L1779.8 64.8L1781.7 64L1781.7 61.9L1783.5 61.1L1783.5 59.1L1785.3 58.3L1785.3 56.3L1787 55.4L1787.2 53.4L1789.1 52.6L1789 50.5L1791.4 50L1790.9 47.6L1792.7 46.8L1792.7 44.8L1795 44.2L1794.7 41.9L1796.9 41.4L1802.9 45.6L1800.9 46.2L1801 48.3L1799.1 49L1799.2 51.1L1797.2 51.8L1797.3 53.9L1795 54.4L1795.5 56.7L1793.7 57.5L1793.7 59.5L1791.8 60.3L1791.9 62.4L1790.1 63.4L1790 65.4L1788 66.2L1788.1 68.2L1786.4 69.1L1786.2 71L1784.4 71.8L1784.5 73.7L1782.4 74.4L1782.8 76.5Z"/>
<path id="g4" d="M1108.2 785.2L1109.2 783.7L1109.1 781.9L1110 780.4L1110 778.6L1111.1 777.2L1110.9 775.4L1111.8 773.8L1111.9 772.1L1112.9 770.6L1112.8 768.8L1113.9 767.4L1113.7 765.5L1114.5 764L1114.7 762.3L1115.8 760.8L1115.6 759L1116.7 757.6L1116.5 755.7L1117.4 754.2L1117.5 752.5L1118.4 751L1118.4 749.2L1119.5 747.7L1119.3 745.9L1120.4 744.5L1120.3 742.7L1121.3 741.2L1121.2 739.4L1122.2 737.9L1122.1 736.1L1123.3 734.7L1123.1 732.9L1124.1 731.4L1124 729.6L1124.8 728L1124.9 726.3L1126.1 724.9L1125.8 723L1126.9 721.6L1126.8 719.8L1127.7 718.3L1127.7 716.5L1128.6 715L1128.6 713.2L1129.8 711.8L1129.6 710L1130.6 708.5L1130.5 706.7L1131.3 705.2L1131.4 703.4L1132.3 701.9L1132.3 700.1L1133.3 698.6L1133.1 696.9L1133.9 695.3L1134 693.6L1135 692.1L1134.9 690.3L1135.8 688.8L1135.8 687L1136.7 685.5L1136.6 683.7L1137.5 682.2L1137.5 680.4L1144.9 682.4L1145.1 684.2L1144.1 685.7L1144.2 687.5L1143.2 689L1143.3 690.8L1142.4 692.3L1142.5 694L1141.4 695.5L1141.6 697.3L1140.8 698.9L1140.7 700.6L1139.6 702.1L1139.8 703.9L1138.9 705.5L1138.9 707.3L1138 708.8L1138 710.6L1137.2 712.1L1137.1 713.9L1136 715.3L1136.2 717.1L1135.1 718.6L1135.2 720.4L1134.4 721.9L1134.3 723.7L1133.4 725.2L1133.4 726.9L1132.2 728.4L1132.5 730.2L1131.6 731.7L1131.5 733.5L1130.4 734.9L1130.6 736.8L1129.7 738.3L1129.7 740L1128.6 741.5L1128.8 743.3L1127.7 744.8L1127.8 746.6L1126.7 748L1126.9 749.9L1125.9 751.3L1125.9 753.1L1124.8 754.6L1125 756.4L1124.1 757.9L1124.1 759.7L1122.9 761.1L1123.1 762.9L1122 764.4L1122.2 766.2L1121.1 767.6L1121.3 769.5L1120.3 770.9L1120.3 772.7L1119.5 774.2L1119.4 776L1118.5 777.5L1118.5 779.2L1117.7 780.8L1117.6 782.5L1116.5 784L1116.7 785.8L1115.7 787.3ZM1139.3 673.8L1140.2 672.3L1140.2 670.5L1141.1 669L1141.2 667.3L1142.4 665.9L1142.2 664L1143.5 662.6L1143.3 660.8L1144.4 659.3L1144.5 657.5L1145.8 656.2L1145.8 654.3L1147.5 653.2L1147.1 651.1L1148.6 649.9L1148.5 647.9L1150.1 646.8L1157 650.2L1155.3 651.2L1155.6 653.1L1154.3 654.3L1154.3 656L1153 657.3L1153 659L1151.7 660.2L1151.9 662.1L1150.6 663.3L1150.7 665.1L1149.7 666.5L1149.7 668.3L1148.5 669.6L1148.7 671.4L1147.7 672.8L1147.7 674.5L1146.6 675.9ZM1180.3 597.2L1180.5 595.3L1182.7 594.8L1182.5 592.5L1184.2 591.6L1184.4 589.7L1186.3 588.9L1186.4 586.9L1188.1 586.1L1188.3 584.1L1190.4 583.5L1190.3 581.3L1192.4 580.7L1192.3 578.6L1194.8 578.3L1194.3 575.8L1196.4 575.2L1196.4 573L1198.5 572.5L1198.4 570.3L1200.4 569.6L1206.6 574.4L1204.1 574.6L1204.5 577.1L1202.3 577.5L1202.5 579.8L1200.5 580.3L1200.5 582.4L1198.5 583.1L1198.5 585.2L1196.3 585.6L1196.6 587.9L1194.5 588.5L1194.6 590.6L1192.6 591.3L1192.6 593.4L1190.1 593.7L1190.7 596.2L1188.7 596.9L1188.8 599L1186.5 599.4L1186.8 601.7ZM1225.6 539.2L1228.3 539.6L1228.1 536.8L1230.9 537.3L1230.6 534.4L1233.4 535L1233.1 532.1L1235.5 532.2L1235.7 529.8L1238.8 530.7L1238.3 527.5L1241.1 528.2L1241 525.3L1243.4 525.5L1243.9 523.1L1246.5 523.8L1246.8 521.1L1249.1 521.5L1249.7 519.1L1252.7 520.7L1252.7 517.3L1255.3 518.3L1258.9 524.7L1256.6 524L1256.1 526.3L1253.3 524.9L1253.4 528L1251 527.3L1250.7 529.8L1248.1 528.9L1248.1 531.6L1245.8 531.3L1245.5 533.6L1242.4 532.4L1243 535.7L1240.8 535.7L1240.5 537.8L1238.3 537.9L1238.1 540.1L1235.3 539.5L1235.6 542.4L1232.6 541.6L1233.2 544.6L1230.1 543.9ZM1284.5 508.2L1285.2 504L1287.6 506.5L1288.6 503.2L1291.1 506.2L1291.9 502.4L1294.2 504.6L1295.2 501.6L1297.8 505L1298.4 500.8L1300.6 502.7L1301.5 499.9L1304.1 502.7L1304.6 498.9L1307.2 501.2L1307.8 497.9L1310.4 500.2L1310.9 496.7L1313.5 498.8L1315.9 505.1L1313 502.3L1312.6 506.4L1310.2 504.6L1309.4 507.6L1306.6 504.8L1306 508.7L1303.7 507.2L1302.7 509.7L1300.1 507.3L1299.1 510.7L1296.9 508.7L1295.8 511.4L1293.3 508.4L1292.5 512.2L1290.1 509.5L1289.3 513L1287.1 511.3L1286 513.9ZM1342.3 483.9L1344.7 485.5L1345.5 482.6L1347.8 483.9L1348.6 481.4L1350.9 482.7L1351.7 480.2L1354.4 482.2L1354.8 478.9L1357.5 481L1357.9 477.6L1360.5 479.4L1360.9 476.2L1363.9 478.6L1363.8 474.8L1366.4 476.1L1366.7 473.3L1369.5 474.9L1369.6 471.7L1372.2 472.9L1375.9 479L1373.3 478L1372.8 480.8L1370.1 479.4L1369.7 482.5L1367.2 481.5L1366.5 484.1L1364.2 483.3L1363.4 485.6L1360.4 483.2L1360.2 487.1L1357.7 485.6L1357 488.4L1354.5 487L1353.8 489.7L1351.3 488.1L1350.6 491L1348 489.2L1347.4 492.2L1344.6 489.8ZM1400.5 454.2L1400.4 451.1L1403.4 452.5L1403.1 449.1L1405.9 450L1405.9 447.2L1408.2 447.5L1408.7 445.2L1411.8 446.7L1411.4 443.2L1413.8 443.6L1414.2 441.3L1416.7 441.9L1416.9 439.3L1419.5 440L1419.6 437.3L1422.4 438.1L1422.4 435.3L1424.7 435.6L1425.1 433.2L1428.2 434.6L1432 439.7L1429.7 439.5L1429.3 441.8L1426.5 440.8L1426.5 443.8L1423.5 442.6L1423.8 445.8L1421.3 445.3L1421 447.8L1418.5 447.3L1418.3 449.8L1415.8 449.3L1415.5 451.8L1412.7 450.9L1412.7 453.8L1409.8 452.6L1409.9 455.8L1407.6 455.4L1407.2 457.8L1404 456.2L1404.3 459.8ZM1454.8 410.7L1457.1 410.8L1457.5 408.6L1459.8 408.8L1460.2 406.6L1462.8 407.1L1462.9 404.5L1465.8 405.4L1465.6 402.4L1468.1 402.9L1468.2 400.3L1470.9 400.9L1470.9 398.2L1473.3 398.4L1473.7 396.1L1476.3 396.8L1476.4 394L1479.3 395L1479.1 392L1482 393L1481.9 389.9L1484.6 390.7L1484.6 387.9L1489.1 394L1488.8 396.5L1486.1 395.7L1486.1 398.5L1483.6 397.9L1483.4 400.5L1480.8 399.9L1480.7 402.5L1477.6 401.2L1478 404.5L1475 403.5L1475.3 406.6L1472.8 406.1L1472.6 408.7L1470.3 408.5L1469.9 410.8L1466.9 409.6L1467.3 412.8L1464.2 411.7L1464.6 414.9L1462.3 414.8L1461.9 417L1458.8 415.8ZM1515.3 369.4L1515.5 366.7L1518.2 367.6L1518.2 364.7L1521.3 366.1L1521 362.7L1524 364L1523.8 360.8L1526.8 362.1L1526.5 358.8L1528.9 359.2L1529.2 356.8L1531.7 357.3L1532 354.8L1534.8 355.8L1534.7 352.8L1537.5 353.8L1537.4 350.7L1539.7 351L1540.1 348.7L1542.5 349.1L1542.8 346.7L1547 352.2L1547.1 355.1L1544.8 355L1544.4 357.2L1541.2 355.8L1541.6 359.3L1538.5 358L1538.9 361.3L1536 360.3L1536.1 363.3L1533 361.9L1533.4 365.4L1530.5 364.2L1530.6 367.4L1528 366.7L1527.9 369.4L1524.7 367.9L1525.1 371.4L1522.2 370.2L1522.3 373.3L1519.7 372.7L1519.5 375.3ZM1572 323.4L1574.4 323.7L1574.6 321.3L1577.3 321.9L1577.4 319.2L1579.7 319.4L1580.1 317.1L1582.7 317.7L1582.8 315L1585.5 315.7L1585.5 313L1588.1 313.5L1588.3 310.9L1591 311.7L1591 308.9L1594 310.1L1593.8 306.9L1596.2 307.3L1596.5 304.9L1599.4 306L1599.2 302.8L1601.9 303.7L1606.2 309.3L1603.1 308.1L1603.4 311.3L1600.9 310.8L1600.7 313.4L1598.2 312.9L1598 315.4L1595.4 314.8L1595.2 317.4L1592.6 316.7L1592.5 319.5L1589.8 318.6L1589.8 321.5L1586.9 320.5L1587.1 323.5L1584.2 322.5L1584.4 325.5L1582 325.2L1581.7 327.6L1579.4 327.3L1579.1 329.6L1576.6 329.2ZM1630.5 279.8L1630.7 277.6L1633.2 277.8L1633.2 275.3L1635.6 275.4L1635.7 273L1637.9 273L1638.1 270.7L1640.3 270.6L1640.5 268.3L1643.1 268.6L1642.9 266L1645.8 266.4L1645.4 263.6L1648 263.8L1647.8 261.2L1650.7 261.7L1650.2 258.8L1652.4 258.6L1652.7 256.4L1654.8 256.2L1655.1 254.1L1657.3 253.9L1662.8 259.5L1660.1 259.2L1660.3 261.9L1657.7 261.7L1657.8 264.2L1655.2 263.9L1655.4 266.6L1652.6 266.1L1653 268.9L1650.4 268.7L1650.6 271.3L1648.1 271.2L1648.1 273.7L1645.9 273.8L1645.7 276.1L1643.3 276.1L1643.2 278.5L1641 278.7L1640.7 280.9L1638 280.4L1638.2 283.2L1635.4 282.7L1635.6 285.6ZM1685.5 226.1L1688.1 226.7L1688.4 224.1L1691.5 225.6L1691.1 222.1L1693.8 223L1693.7 220.2L1695.9 220.4L1696.2 218.2L1699.1 219L1698.7 216.1L1700.8 215.9L1701.1 213.8L1703.1 213.6L1703.4 211.5L1705.6 211.3L1705.7 209.1L1708.3 209.2L1708 206.7L1710.7 206.8L1710.1 204.2L1712.5 204L1718.1 208.6L1716 209.1L1715.9 211.3L1713.9 211.9L1713.6 214L1711 214L1711.2 216.6L1708.6 216.5L1708.7 219.1L1706.6 219.5L1706.2 221.6L1703.1 220.9L1703.6 224L1701.3 224.2L1700.9 226.5L1697.7 225.4L1698 228.7L1695.2 227.8L1695.1 230.8L1692.4 229.8L1692.4 232.7L1689.7 231.8ZM1731.7 172.5L1731.3 170.5L1732.5 169.2L1732.4 167.4L1733.4 166L1733.5 164.2L1734.6 162.8L1734.4 161L1735.3 159.5L1735.3 157.7L1736.1 156.2L1736.2 154.4L1737.4 153L1737.1 151.2L1738.2 149.7L1738 147.9L1738.9 146.4L1738.9 144.6L1739.9 143.1L1747.4 145.1L1746.3 146.6L1746.5 148.4L1745.4 149.9L1745.6 151.7L1744.7 153.3L1744.7 155L1743.7 156.5L1743.8 158.3L1742.9 159.8L1742.9 161.6L1742 163.1L1741.9 164.9L1740.9 166.4L1741 168.3L1739.9 169.9L1739.8 171.8L1738.4 173.4L1738.5 175.4ZM1746.8 115L1747.7 113.5L1747.7 111.7L1748.5 110.2L1748.6 108.5L1749.4 106.9L1749.4 105.2L1750.3 103.7L1750.3 101.9L1751.4 100.4L1751.2 98.6L1752 97.1L1752.1 95.3L1753.1 93.8L1752.9 92.1L1753.9 90.5L1753.8 88.8L1754.6 87.2L1754.6 85.5L1762.3 87.4L1762.2 89.2L1761.5 90.7L1761.4 92.5L1760.6 94L1760.5 95.8L1759.6 97.3L1759.7 99.1L1758.6 100.6L1758.8 102.4L1757.9 103.9L1757.9 105.7L1757 107.2L1757 109L1756.2 110.5L1756.1 112.3L1755.3 113.8L1755.2 115.6L1754.1 117ZM1761.9 55.8L1762.8 54.2L1762.7 52.5L1763.4 50.9L1763.5 49.1L1764.4 47.6L1764.2 45.8L1765.1 44.3L1765 42.5L1765.9 41L1765.8 39.2L1766.7 37.7L1766.6 35.9L1767.5 34.4L1767 34.1L1774.6 35.8L1775 36.1L1774.2 37.7L1774.2 39.4L1773.3 41L1773.5 42.7L1772.5 44.3L1772.7 46.1L1771.9 47.6L1771.9 49.4L1771.2 51L1771.1 52.7L1770.3 54.3L1770.3 56L1769.6 57.6Z"/><path id="r4" d="M1137.5 680.4L1138.3 678.9L1138.4 677.1L1139.4 675.6L1139.3 673.8L1146.6 675.9L1146.8 677.7L1146 679.2L1146 680.9L1144.9 682.4ZM1150.1 646.8L1150 644.8L1152 643.9L1151.6 641.8L1153.3 640.7L1153.2 638.7L1155.4 638L1154.8 635.7L1156.7 634.8L1156.5 632.7L1158.7 632L1158.3 629.7L1160.6 629.1L1160 626.8L1162.1 626.1L1161.8 623.9L1163.6 623L1163.6 621L1166 620.5L1165.4 618.1L1167.8 617.6L1167.2 615.2L1169.2 614.4L1169.1 612.3L1171.6 611.9L1171 609.5L1173.3 609L1172.8 606.6L1175.3 606.2L1174.7 603.8L1176.7 603L1176.6 600.9L1178.5 600.1L1178.6 598.1L1180.3 597.2L1186.8 601.7L1184.8 602.4L1184.9 604.5L1182.8 605.1L1183 607.3L1180.7 607.8L1181.1 610.1L1179.2 610.8L1179.3 612.9L1177.5 613.8L1177.4 615.7L1175.6 616.5L1175.6 618.5L1173.8 619.4L1173.8 621.4L1172 622.3L1172 624.2L1170.2 625.1L1170.2 627.1L1168.4 627.9L1168.4 629.9L1166.7 630.9L1166.7 632.8L1164.9 633.7L1164.9 635.7L1162.9 636.4L1163.3 638.5L1161.1 639.2L1161.6 641.4L1159.5 642.2L1160 644.3L1158.5 645.3L1158.5 647.2L1157.1 648.4L1157 650.2ZM1200.4 569.6L1200.5 567.6L1202.8 567.2L1202.6 564.9L1205.3 564.8L1204.8 562.2L1207.1 561.9L1207 559.5L1209.6 559.5L1209.2 556.9L1211.9 557L1211.4 554.3L1213.6 553.9L1213.7 551.7L1216.4 551.8L1216 549.1L1218.2 548.9L1218.3 546.6L1221 546.7L1220.7 544.1L1223.6 544.5L1223.1 541.6L1225.6 541.7L1225.6 539.2L1230.1 543.9L1230.8 546.9L1228.1 546.7L1228.4 549.3L1225.5 548.7L1226.1 551.6L1224 551.9L1223.8 554L1221.5 554.2L1221.5 556.5L1219.4 556.8L1219.3 559L1216.5 558.7L1217.1 561.5L1215 561.8L1215 564L1212.6 564.2L1212.8 566.6L1210.6 566.9L1210.7 569.2L1208.6 569.6L1208.6 571.8L1206.5 572.2L1206.6 574.4ZM1255.3 518.3L1255.8 515.5L1258.6 517L1258.9 513.9L1261.6 515.3L1262.1 512.3L1264.7 513.8L1265.3 510.9L1268.1 513.1L1268.5 509.5L1271.4 512L1271.7 508.2L1274.1 509.6L1275.1 506.9L1277.9 509.9L1278.5 505.8L1281 508.3L1281.9 504.9L1284.5 508.2L1286 513.9L1283.7 511.8L1282.8 514.7L1280.4 512.2L1279.7 515.6L1277.3 513.5L1276.7 516.6L1274.4 515.2L1273.7 517.8L1270.9 515.3L1270.6 519L1268.2 517.5L1267.6 520.3L1264.7 518L1264.6 521.7L1261.9 519.9L1261.8 523.1L1259.3 522L1258.9 524.7ZM1313.5 498.8L1314 495.5L1316.8 498.1L1317.1 494.3L1319.7 496.2L1320.2 493L1323 495.2L1323.4 491.7L1326.3 494.4L1326.5 490.4L1328.8 491.6L1329.6 489.1L1332.5 491.5L1332.8 487.8L1335.5 489.8L1335.9 486.5L1338.9 489.2L1339.1 485.2L1341.4 486.3L1342.3 483.9L1344.6 489.8L1344.3 493.5L1341.8 491.8L1341.1 494.7L1338.7 493.3L1338 496L1335.7 494.9L1334.9 497.3L1332.2 495.2L1331.8 498.6L1329.4 497.4L1328.7 500L1325.8 497.5L1325.5 501.3L1323.1 500L1322.3 502.6L1319.5 500.3L1319.1 503.9L1316.3 501.5L1315.9 505.1ZM1372.2 472.9L1372.4 470L1375.1 471.1L1375.3 468.3L1377.9 469.2L1378 466.4L1380.6 467.2L1380.8 464.6L1383.6 465.6L1383.6 462.7L1386.5 463.9L1386.4 460.7L1389.3 461.9L1389.2 458.8L1392.3 460.3L1392 456.8L1395 458.2L1394.8 454.9L1397.4 455.7L1397.6 453L1400.5 454.2L1404.3 459.8L1401.3 458.4L1401.5 461.7L1398.9 460.8L1398.7 463.6L1396.4 463.2L1395.9 465.5L1393.4 464.8L1393.2 467.5L1390.1 466.1L1390.4 469.4L1387.7 468.6L1387.5 471.4L1384.7 470.3L1384.7 473.3L1382.1 472.5L1381.8 475.3L1379.3 474.5L1378.9 477.1L1376 475.8L1375.9 479ZM1428.2 434.6L1427.8 431.2L1431 432.6L1430.6 429.2L1433.4 430.2L1433.3 427.2L1435.6 427.4L1436 425.1L1438.7 425.9L1438.7 423.1L1441.2 423.6L1441.4 421.1L1443.9 421.6L1444.1 419L1446.6 419.5L1446.8 417L1449.5 417.7L1449.5 414.9L1451.7 415.1L1452.2 412.8L1454.8 413.4L1454.8 410.7L1458.8 415.8L1459.2 419.1L1456.1 417.8L1456.5 421.2L1453.7 420.3L1453.9 423.3L1451.3 422.8L1451.1 425.4L1448.5 424.7L1448.4 427.5L1446 427.1L1445.7 429.6L1443.3 429.3L1443 431.6L1440.7 431.4L1440.2 433.7L1437.4 432.7L1437.5 435.7L1434.9 435.1L1434.8 437.7L1432.2 437.1L1432 439.7ZM1484.6 387.9L1487.1 388.4L1487.4 385.9L1490.2 386.9L1490.2 383.9L1493.2 385.2L1493.1 381.9L1495.5 382.5L1495.9 380L1498.2 380.3L1498.7 378.1L1501.2 378.8L1501.5 376.2L1504.3 377.2L1504.4 374.3L1507 375.2L1507.2 372.4L1510.3 374L1510 370.5L1512.4 371.1L1512.7 368.6L1515.3 369.4L1519.5 375.3L1516.7 374.3L1516.7 377.3L1514.3 376.8L1513.9 379.3L1510.9 378L1511 381.2L1508.2 380L1508.2 383.1L1505.7 382.4L1505.4 385L1502.5 383.8L1502.6 386.9L1499.4 385.2L1499.8 388.8L1496.7 387.2L1497 390.7L1494.3 389.8L1494.2 392.6L1491.2 391.2L1491.5 394.5L1489.1 394ZM1542.8 346.7L1545.4 347.3L1545.5 344.6L1547.9 345L1548.1 342.6L1550.7 343.1L1550.8 340.5L1553.4 341.1L1553.4 338.4L1556.4 339.3L1556.1 336.2L1558.6 336.7L1558.7 334.1L1561.2 334.5L1561.3 332L1563.9 332.4L1564 329.8L1566.6 330.4L1566.6 327.7L1569.7 328.7L1569.3 325.5L1571.6 325.7L1572 323.4L1576.6 329.2L1576.4 331.7L1573.7 331L1573.8 333.8L1571.5 333.7L1571.2 336L1568.8 335.7L1568.5 338.1L1566 337.7L1565.9 340.2L1563.5 340L1563.2 342.4L1560.6 341.8L1560.6 344.5L1557.5 343.5L1557.9 346.7L1555 345.7L1555.2 348.8L1552.5 348.1L1552.5 350.9L1550.2 350.8L1549.8 353.1L1547 352.2ZM1601.9 303.7L1601.9 300.8L1604.7 301.7L1604.5 298.7L1607 299.1L1607.2 296.7L1610.1 297.6L1609.9 294.6L1612.3 294.8L1612.6 292.5L1615 292.8L1615.2 290.4L1618 291.1L1617.9 288.3L1620.2 288.5L1620.5 286.2L1623.2 286.8L1623.1 284.1L1625.3 284.1L1625.7 281.9L1627.9 281.9L1628.2 279.7L1630.5 279.8L1635.6 285.6L1632.9 285.1L1633 287.9L1630.2 287.2L1630.4 290.1L1627.2 289.1L1627.7 292.3L1625.4 292.2L1625 294.5L1621.9 293.3L1622.4 296.7L1619.8 296.2L1619.7 298.8L1616.9 298L1617 300.9L1614.4 300.3L1614.3 303L1611.4 302.1L1611.6 305.1L1608.6 304L1608.9 307.2L1606.3 306.6L1606.2 309.3ZM1657.3 253.9L1657.6 251.7L1659.8 251.6L1660 249.4L1662.2 249.2L1662.4 247L1665.2 247.4L1664.9 244.6L1667.5 244.9L1667.3 242.2L1669.7 242.2L1669.8 239.8L1671.9 239.6L1672.3 237.4L1674.5 237.3L1674.8 235.1L1677 235L1677.4 232.8L1680.1 233.2L1680 230.5L1682.8 231.1L1682.7 228.2L1685.6 229.1L1685.5 226.1L1689.7 231.8L1689.7 234.6L1686.8 233.5L1687.2 236.5L1684.6 236L1684.7 238.6L1681.8 237.8L1682.2 240.8L1679.9 240.7L1679.8 243L1677 242.5L1677.3 245.3L1675 245.3L1674.9 247.6L1672.5 247.5L1672.5 250L1670.1 250L1670.1 252.3L1667.3 252L1667.6 254.7L1664.7 254.2L1665.2 257.1L1662.6 256.9L1662.8 259.5ZM1712.5 204L1712.3 201.6L1714.4 201.2L1714.3 199L1716.2 198.3L1716.3 196.4L1718.3 195.8L1718.3 193.7L1720 192.9L1720.1 190.9L1722.2 190.3L1721.8 188.1L1723.5 187.2L1723.5 185.2L1725.5 184.4L1725.2 182.3L1726.7 181.2L1726.9 179.3L1728.5 178.3L1728.5 176.4L1730.3 175.5L1730 173.5L1731.7 172.5L1738.5 175.4L1736.7 176.7L1737 178.8L1735.4 180.1L1735.3 182.1L1733.2 182.9L1733.6 185.1L1732.1 186.2L1732 188.1L1729.8 188.8L1730.2 191.1L1727.9 191.7L1728.4 194.1L1726.5 195L1726.6 197.1L1724.5 197.9L1724.6 200.1L1722.4 200.8L1722.5 203.1L1720.2 203.6L1720.3 205.9L1718.1 206.3L1718.1 208.6ZM1739.9 143.1L1739.8 141.3L1740.6 139.8L1740.7 138L1741.4 136.5L1741.5 134.8L1742.5 133.3L1742.4 131.5L1743.3 130L1743.2 128.2L1744.3 126.7L1744.1 124.9L1745.2 123.4L1745 121.6L1745.8 120.1L1745.9 118.3L1746.8 116.8L1746.8 115L1754.1 117L1754.3 118.9L1753.4 120.4L1753.4 122.1L1752.4 123.6L1752.6 125.4L1751.6 126.9L1751.7 128.6L1750.9 130.2L1750.8 131.9L1750.1 133.5L1750 135.2L1748.9 136.7L1749.1 138.5L1748.3 140L1748.3 141.8L1747.3 143.3L1747.4 145.1ZM1754.6 85.5L1755.6 84L1755.5 82.2L1756.3 80.6L1756.3 78.9L1757.1 77.3L1757.1 75.6L1757.9 74L1757.9 72.3L1758.8 70.8L1758.7 69L1759.6 67.5L1759.5 65.7L1760.2 64.1L1760.3 62.4L1761.1 60.8L1761.1 59.1L1761.9 57.5L1761.9 55.8L1769.6 57.6L1769.5 59.3L1768.6 60.9L1768.8 62.7L1767.8 64.2L1768 66L1767.2 67.5L1767.2 69.3L1766.3 70.8L1766.3 72.6L1765.5 74.2L1765.5 75.9L1764.5 77.4L1764.7 79.2L1763.8 80.8L1763.9 82.5L1763.1 84.1L1763.1 85.8L1762.3 87.4Z"/>
<path id="g5" d="M1105.4 785.2L1106.5 783.8L1106.2 781.9L1107 780.4L1107.1 778.7L1108.1 777.2L1108 775.4L1108.8 773.8L1108.9 772.1L1109.9 770.6L1109.8 768.8L1110.7 767.3L1110.7 765.5L1111.6 764L1111.7 762.3L1112.7 760.8L1112.6 759L1113.7 757.5L1113.5 755.7L1114.7 754.3L1114.4 752.4L1115.6 751L1115.4 749.2L1116.4 747.7L1116.3 745.9L1117.3 744.4L1117.2 742.6L1118.3 741.2L1118.2 739.4L1119.2 737.9L1119.1 736.1L1120 734.6L1120 732.8L1121.2 731.4L1121 729.5L1121.9 728L1121.9 726.3L1122.9 724.8L1122.8 723L1123.8 721.5L1123.7 719.7L1124.8 718.3L1124.7 716.5L1125.7 715L1125.6 713.2L1126.6 711.7L1126.5 709.9L1127.7 708.5L1127.4 706.6L1128.6 705.2L1128.4 703.4L1129.3 701.9L1129.3 700.1L1130.2 698.6L1130.2 696.8L1131 695.3L1131.1 693.6L1132 692L1132 690.3L1132.9 688.8L1132.9 687L1133.9 685.5L1133.7 683.7L1134.6 682.2L1134.6 680.4L1142 682.4L1142.2 684.2L1141.3 685.7L1141.3 687.5L1140.5 689L1140.4 690.8L1139.7 692.3L1139.6 694.1L1138.7 695.6L1138.7 697.4L1137.7 698.9L1137.8 700.7L1136.7 702.2L1136.8 704L1136 705.5L1135.9 707.3L1134.7 708.7L1135 710.5L1133.8 712L1134.1 713.8L1133 715.3L1133.1 717.1L1132.1 718.6L1132.2 720.4L1131.1 721.8L1131.3 723.6L1130.3 725.1L1130.4 726.9L1129.5 728.4L1129.4 730.2L1128.3 731.6L1128.5 733.5L1127.5 734.9L1127.6 736.7L1126.7 738.3L1126.6 740L1125.8 741.5L1125.7 743.3L1124.7 744.8L1124.8 746.5L1123.7 748L1123.8 749.8L1122.9 751.3L1122.9 753.1L1122 754.6L1122 756.3L1120.9 757.8L1121.1 759.6L1120.1 761.1L1120.1 762.9L1119.3 764.4L1119.2 766.1L1118.3 767.6L1118.3 769.4L1117.4 770.9L1117.4 772.7L1116.4 774.2L1116.5 775.9L1115.4 777.4L1115.6 779.2L1114.8 780.7L1114.7 782.5L1113.7 783.9L1113.8 785.7L1112.7 787.2ZM1137.2 670.6L1138.2 669.1L1138.1 667.3L1138.9 665.7L1139 664L1140 662.5L1139.9 660.7L1140.8 659.2L1140.8 657.4L1142.1 656L1141.8 654.1L1142.9 652.7L1142.9 650.9L1144.2 649.5L1144 647.6L1145.1 646.2L1145.2 644.4L1146.7 643.1L1153.7 646L1152.2 647.1L1152.5 649L1151.1 650.2L1151.4 652.1L1150.3 653.4L1150.3 655.2L1149.4 656.6L1149.3 658.3L1148.3 659.7L1148.3 661.4L1147.5 662.9L1147.4 664.6L1146.5 666L1146.5 667.8L1145.6 669.3L1145.7 671L1144.8 672.6ZM1171.5 598.4L1171.1 596.1L1173.1 595.3L1172.9 593.2L1175.1 592.6L1174.7 590.3L1176.8 589.6L1176.5 587.4L1178.6 586.7L1178.3 584.5L1180.3 583.8L1180.1 581.6L1182 580.8L1182 578.8L1183.9 578L1183.8 575.9L1185.9 575.2L1185.6 573L1188 572.5L1187.5 570.2L1189.9 569.7L1195.8 573.6L1194.1 574.5L1194 576.4L1192.2 577.3L1192.1 579.3L1189.8 579.8L1190.3 582.1L1188.6 583L1188.4 585L1186.5 585.7L1186.6 587.8L1184.5 588.5L1184.8 590.7L1182.7 591.3L1183 593.5L1180.7 594.1L1181.2 596.4L1178.8 596.9L1179.4 599.3L1177.7 600.2L1177.6 602.1ZM1213.4 533.9L1216.1 534L1215.6 531.3L1217.6 530.8L1217.9 528.7L1220.3 528.6L1220.2 526.1L1222.2 525.6L1222.5 523.5L1225.4 523.9L1224.8 521L1227.4 521.1L1227.2 518.6L1229.8 518.7L1229.6 516.1L1232.6 516.6L1232.1 513.7L1234.8 514L1234.5 511.3L1236.9 511.3L1237 508.9L1240.1 509.6L1239.6 506.5L1244.8 512.3L1244.5 514.5L1242.2 514.4L1242.1 516.7L1239.4 516.3L1239.7 519L1237.5 519.1L1237.3 521.4L1235.2 521.6L1234.9 523.8L1232.8 524L1232.6 526.1L1230.6 526.5L1230.3 528.5L1227.5 528.2L1228 531L1225.3 530.7L1225.8 533.4L1223.1 533.3L1223.6 535.9L1221.1 536L1221.4 538.4L1219.1 538.7ZM1271.9 485.6L1274.5 487.2L1275.2 484.2L1278.1 486.9L1278.5 482.9L1281.1 485L1281.8 481.7L1284.4 483.9L1285 480.6L1287.5 482.5L1288.3 479.5L1291.1 482.5L1291.5 478.4L1294.2 481L1294.8 477.3L1297.1 479.1L1298 476.3L1300.2 477.7L1301.2 475.2L1303.6 477.2L1304.4 474.1L1306.7 480.8L1305.9 483.8L1303.1 480.9L1302.7 484.9L1299.9 482.1L1299.4 486L1297.1 484.5L1296.1 487.1L1293.6 484.7L1292.9 488.1L1290.5 486.2L1289.7 489.2L1287.4 487.5L1286.5 490.3L1284.3 489L1283.4 491.3L1280.8 489.2L1280.4 492.5L1277.7 490.3L1277.4 493.7L1274.5 491.2ZM1336 462.5L1338.8 464.8L1339.1 461.2L1341.8 463.3L1342.2 459.8L1344.9 461.9L1345.2 458.5L1348.1 460.8L1348.3 457.1L1350.5 458L1351.3 455.7L1354 457.4L1354.3 454.2L1357.1 455.9L1357.3 452.7L1360.4 454.9L1360.2 451.1L1362.6 452.1L1363.1 449.5L1365.6 450.6L1365.9 447.9L1368.8 449.3L1372.4 455L1369.9 454.4L1369.3 456.9L1366.5 455.5L1366.3 458.6L1363.6 457.4L1363.2 460.3L1360.7 459.2L1360.1 462L1357.1 459.7L1357 463.5L1354.5 462.3L1353.9 465.1L1351.3 463.5L1350.8 466.5L1348.1 464.7L1347.6 467.9L1344.6 465.3L1344.4 469.3L1341.8 467.5L1341.3 470.7L1338.7 469.1ZM1398.3 426.6L1398.1 423.5L1401.1 424.6L1400.7 421.4L1403.1 421.8L1403.4 419.3L1406.5 420.5L1406 417.2L1408.3 417.3L1408.7 415.1L1411.8 416.3L1411.3 413L1413.6 413.1L1414 410.9L1417 412L1416.6 408.7L1419.5 409.6L1419.3 406.6L1421.9 407.2L1421.9 404.5L1424.6 405.1L1424.6 402.3L1429 407.9L1429.1 410.7L1426.2 409.8L1426.4 412.8L1423.6 411.9L1423.8 414.9L1421.2 414.4L1421.1 417.1L1418.8 416.9L1418.5 419.2L1416.3 419.1L1415.8 421.3L1413.4 421.1L1413.2 423.5L1410.7 423L1410.5 425.6L1407.7 424.8L1407.8 427.7L1405.1 427.1L1405.1 429.8L1402.2 428.8L1402.4 431.9ZM1453.9 379.1L1456.3 379.4L1456.6 377L1459.5 378L1459.3 374.9L1461.5 375L1462 372.8L1464.6 373.4L1464.6 370.7L1467 370.9L1467.3 368.6L1470 369.2L1470 366.5L1473.1 367.7L1472.7 364.4L1475.8 365.6L1475.4 362.3L1478.2 363.2L1478.1 360.3L1481 361.2L1480.8 358.2L1483.3 358.6L1483.5 356.1L1487.5 361.3L1487.8 364.6L1485.4 364.2L1485.1 366.6L1482.5 366L1482.4 368.7L1479.6 367.8L1479.8 370.8L1477.2 370.2L1477.1 372.8L1474.8 372.6L1474.4 374.9L1471.6 374.1L1471.7 377L1469.5 376.9L1469 379.1L1466.8 379L1466.4 381.2L1463.6 380.4L1463.7 383.3L1460.9 382.5L1461 385.4L1458.3 384.7ZM1513.1 336.2L1513.3 333.8L1515.7 334.1L1515.9 331.7L1518.4 332.1L1518.4 329.5L1521.2 330L1520.9 327.2L1523.3 327.3L1523.4 325L1525.8 325.1L1525.9 322.7L1528.9 323.5L1528.4 320.4L1530.7 320.4L1530.9 318.1L1533.9 318.8L1533.3 315.8L1536 316.2L1535.7 313.4L1538.2 313.6L1538.2 311.1L1541 311.6L1545.8 316.4L1543.4 316.4L1543.4 318.8L1540.9 318.7L1540.9 321.2L1538 320.7L1538.4 323.6L1535.7 323.2L1535.9 326L1533.5 325.8L1533.4 328.3L1531.1 328.3L1530.9 330.7L1528.6 330.7L1528.4 333L1526.1 333.1L1525.8 335.3L1523.1 334.9L1523.2 337.6L1520.9 337.5L1520.6 339.8L1518.2 339.6L1517.9 342.1ZM1567.1 282.3L1569.2 282.1L1569.5 279.9L1572.1 280.1L1572 277.5L1575 278.2L1574.5 275.2L1576.8 275.2L1577 272.8L1579.6 273.2L1579.5 270.5L1581.7 270.4L1582 268.2L1584.3 268.2L1584.5 265.9L1587.3 266.4L1587 263.6L1589.6 263.9L1589.5 261.3L1592.4 261.9L1592 259L1594.8 259.5L1594.5 256.7L1599.9 262.5L1599.5 264.7L1596.7 264.1L1597 267L1594.2 266.4L1594.5 269.2L1591.4 268.4L1592 271.5L1589.6 271.5L1589.5 273.8L1587 273.6L1587 276.1L1584.8 276.3L1584.5 278.4L1581.8 278L1582 280.7L1579.2 280.2L1579.6 283L1576.9 282.6L1577.1 285.3L1574.5 285L1574.7 287.7L1571.8 287.2ZM1622 231.4L1625.1 232.2L1624.5 229.1L1627 229.2L1627 226.7L1629.7 227.1L1629.5 224.4L1632.4 225L1631.9 222.1L1634.2 222.1L1634.4 219.8L1636.6 219.6L1636.9 217.5L1639.5 217.7L1639.3 215.1L1641.9 215.3L1641.8 212.8L1644.4 213L1644.3 210.5L1647.2 211.1L1646.7 208.1L1649.1 208.1L1649.2 205.8L1654 210.8L1654.3 213.5L1651.9 213.5L1651.8 215.9L1648.9 215.3L1649.4 218.3L1646.8 218L1646.9 220.6L1644.5 220.6L1644.4 223L1642.3 223.2L1642 225.3L1639 224.6L1639.5 227.6L1636.6 227L1637 230L1634.4 229.7L1634.5 232.3L1631.6 231.7L1632 234.6L1629.1 234L1629.5 237L1627.2 237ZM1675.5 179.2L1678 179.3L1678 176.8L1680.2 176.7L1680.5 174.4L1682.9 174.5L1683.1 172.1L1685.8 172.6L1685.7 169.9L1688 169.9L1688.4 167.7L1690.7 167.8L1691.1 165.5L1694 166.4L1693.8 163.4L1696.1 163.6L1696.5 161.3L1698.9 161.5L1699.3 159.1L1701.7 159.5L1702.2 157.1L1704.7 157.9L1704.9 155.3L1708.9 160.7L1708.9 164L1705.9 162.7L1706 165.9L1703.1 164.4L1703.4 167.6L1701 167L1700.8 169.7L1698.3 169.2L1698.2 171.7L1695.5 171.1L1695.6 173.8L1693 173.3L1693 175.9L1690.6 175.7L1690.4 178L1687.4 177.1L1687.9 180.2L1685.4 179.9L1685.5 182.4L1682.6 181.7L1683 184.6L1680 183.9ZM1727.3 127.3L1729.2 126.6L1728.9 124.6L1730.7 123.7L1730.3 121.8L1731.6 120.5L1731.3 118.7L1732.3 117.2L1732.2 115.4L1733.1 113.9L1733 112.1L1733.7 110.5L1733.7 108.8L1734.4 107.2L1734.4 105.5L1735.4 103.9L1735.2 102.2L1736.2 100.7L1736.1 98.9L1743.6 100.8L1743.7 102.6L1742.7 104.1L1742.9 105.8L1742.2 107.3L1742.1 109L1741.3 110.5L1741.4 112.2L1740.5 113.8L1740.6 115.6L1739.7 117.2L1739.8 119.1L1738.9 120.8L1738.8 122.8L1737.6 124.6L1737.4 126.8L1735.8 128.2L1735.7 130.3L1734 131.5ZM1744.1 69.3L1745.1 67.8L1745.2 66L1746.4 64.7L1746.2 62.8L1747.3 61.4L1747.2 59.6L1748.3 58.1L1748.2 56.3L1749 54.8L1749.1 53.1L1750.1 51.6L1750 49.8L1750.8 48.3L1750.9 46.5L1751.7 45L1751.7 43.2L1752.7 41.7L1752.5 39.9L1760.2 41.8L1760.2 43.6L1759.3 45.1L1759.3 46.9L1758.3 48.5L1758.5 50.3L1757.4 51.8L1757.6 53.6L1756.6 55.1L1756.7 56.9L1755.8 58.5L1755.7 60.3L1754.7 61.8L1754.7 63.7L1753.4 65.1L1753.7 67L1752.5 68.4L1752.6 70.2L1751.7 71.7Z"/><path id="r5" d="M1134.6 680.4L1135.5 678.9L1135.5 677.1L1136.3 675.6L1136.3 673.9L1137.2 672.3L1137.2 670.6L1144.8 672.6L1144.8 674.3L1143.8 675.9L1143.9 677.7L1143.2 679.2L1143.1 680.9L1142 682.4ZM1146.7 643.1L1146.5 641.2L1148.2 640.1L1147.9 638L1149.6 636.9L1149.3 634.9L1150.9 633.8L1150.8 631.8L1152.7 630.8L1152.3 628.7L1154.1 627.7L1153.9 625.6L1155.6 624.6L1155.5 622.6L1157.7 621.9L1157.2 619.6L1159 618.7L1158.8 616.6L1160.9 615.9L1160.5 613.7L1162.7 612.9L1162.3 610.7L1164.2 609.8L1164 607.8L1165.9 606.9L1165.7 604.8L1167.7 604L1167.5 601.9L1169.2 600.9L1169.3 599L1171.5 598.4L1177.6 602.1L1175.7 602.9L1175.9 605L1174.3 606L1174.1 607.9L1172.4 608.9L1172.4 610.8L1170.3 611.5L1170.7 613.7L1168.6 614.4L1169 616.6L1167.3 617.6L1167.3 619.5L1165.5 620.4L1165.6 622.4L1163.6 623.2L1163.9 625.3L1162.2 626.3L1162.3 628.2L1160.9 629.3L1160.8 631.2L1158.8 632L1159.3 634.1L1157.6 635.1L1157.8 637.1L1156.4 638.3L1156.4 640.1L1154.9 641.2L1155 643L1153.7 644.2L1153.7 646ZM1189.9 569.7L1189.3 567.3L1191.5 566.7L1191.2 564.5L1193.6 564L1193.1 561.6L1194.8 560.7L1195 558.8L1197 558.1L1197 555.9L1199.2 555.4L1198.9 553.1L1201.5 552.9L1200.9 550.3L1202.8 549.6L1202.9 547.6L1205.2 547.1L1204.9 544.8L1207.4 544.5L1207 542L1208.9 541.4L1209.1 539.3L1211.4 538.9L1211.2 536.6L1213.5 536.2L1213.4 533.9L1219.1 538.7L1219.3 541L1217.2 541.4L1217.2 543.5L1214.4 543.5L1215.1 546.1L1212.4 546.2L1213.1 548.8L1210.7 549.1L1211.1 551.5L1208.7 551.8L1209.1 554.2L1206.8 554.6L1207.1 556.9L1205.4 557.7L1205.2 559.6L1203.1 560.2L1203.3 562.4L1201.1 563L1201.4 565.2L1199.7 566L1199.5 567.9L1197.5 568.6L1197.7 570.7L1195.5 571.3L1195.8 573.6ZM1239.6 506.5L1242 506.6L1242.2 504.2L1245 504.8L1245 501.9L1247.3 502.2L1247.8 499.8L1250.7 500.9L1250.6 497.7L1253.4 498.7L1253.5 495.8L1255.8 496.1L1256.5 493.9L1259.3 495.3L1259.5 492L1262.6 494.1L1262.6 490.3L1265.6 492.3L1265.7 488.7L1268.7 490.9L1268.8 487.1L1271.2 488.3L1271.9 485.6L1274.5 491.2L1274.4 495L1271.5 492.7L1271.5 496.5L1268.6 494.6L1268.5 498L1266.1 497L1265.6 499.5L1263 498.2L1262.8 501.1L1260.1 499.8L1260.1 502.8L1257.5 501.9L1257.3 504.6L1254.4 503.3L1254.6 506.4L1251.9 505.4L1252 508.3L1249.5 507.7L1249.4 510.3L1247 509.9L1246.9 512.3L1244.8 512.3ZM1304.4 474.1L1306.9 476.2L1307.6 473L1310.1 475L1310.8 471.9L1313.4 474.3L1314 470.8L1316.3 472.2L1317.2 469.7L1319.4 470.9L1320.3 468.5L1322.9 470.5L1323.5 467.4L1325.8 468.6L1326.6 466.2L1329.4 468.6L1329.8 465L1332.6 467.5L1332.9 463.7L1335.1 464.8L1336 462.5L1338.7 469.1L1338.1 472L1335.3 469.8L1334.9 473.3L1332.4 471.7L1331.7 474.6L1329.2 472.8L1328.5 475.8L1325.7 473.3L1325.2 477L1322.7 475.1L1322 478.2L1319.5 476.3L1318.8 479.3L1316.4 477.7L1315.6 480.5L1313.1 478.6L1312.3 481.6L1309.9 479.6L1309.1 482.7L1306.7 480.8ZM1368.8 449.3L1368.7 446.1L1371.8 447.8L1371.4 444.3L1374.4 445.7L1374.1 442.3L1376.5 442.8L1376.7 440.3L1379.5 441.2L1379.4 438.3L1381.7 438.5L1382 436.2L1384.4 436.5L1384.7 434.1L1387.3 434.6L1387.3 432L1390.1 432.7L1390 429.8L1393.1 431L1392.7 427.7L1395.6 428.7L1395.4 425.6L1398.3 426.6L1402.4 431.9L1400 431.5L1399.7 434L1397.2 433.5L1397.1 436.1L1394.5 435.5L1394.5 438.2L1391.4 437L1391.8 440.3L1389.1 439.7L1389.2 442.4L1386.1 441.4L1386.5 444.6L1384 444.1L1383.8 446.7L1381.1 446L1381 448.8L1378 447.7L1378.2 450.9L1375.8 450.5L1375.3 453L1372.4 451.7L1372.4 455ZM1424.6 402.3L1427.1 402.7L1427.2 400.2L1430 401L1429.9 398.1L1432.4 398.5L1432.6 396L1435.1 396.4L1435.2 393.8L1438 394.7L1437.9 391.7L1440.2 391.9L1440.6 389.6L1443.4 390.4L1443.2 387.5L1446.4 388.8L1445.9 385.4L1448.6 386.1L1448.6 383.3L1450.8 383.4L1451.3 381.2L1454.3 382.4L1453.9 379.1L1458.3 384.7L1458.4 387.5L1455.9 387.1L1455.7 389.6L1452.6 388.4L1453 391.7L1450 390.6L1450.3 393.8L1447.9 393.4L1447.7 395.9L1445.1 395.4L1445 398L1442.3 397.3L1442.3 400.1L1440 399.9L1439.7 402.2L1436.6 401.1L1437 404.3L1434.6 403.9L1434.4 406.4L1432.2 406.4L1431.7 408.5L1429 407.9ZM1483.5 356.1L1486 356.5L1486.3 354L1489.2 355.2L1489 352L1491.6 352.7L1491.8 350L1494.2 350.5L1494.5 348L1497.6 349.3L1497.3 346L1499.8 346.6L1500 344L1502.6 344.6L1502.7 342L1505.7 343.2L1505.4 340L1507.9 340.4L1508.1 338L1511 339L1510.7 335.9L1513.1 336.2L1517.9 342.1L1514.9 341.1L1515.2 344.2L1512.7 343.9L1512.5 346.4L1509.4 345.2L1509.7 348.5L1506.5 347.1L1506.9 350.5L1503.9 349.2L1504.2 352.6L1501.7 352L1501.4 354.6L1498.9 354.1L1498.7 356.6L1495.6 355.2L1495.9 358.6L1493.4 357.9L1493.2 360.6L1490.6 359.9L1490.5 362.5L1487.5 361.3ZM1541 311.6L1540.6 308.7L1543.1 308.9L1543 306.3L1545.7 306.6L1545.4 303.9L1547.7 303.9L1547.8 301.5L1550.1 301.4L1550.2 299.1L1553 299.6L1552.6 296.7L1555.5 297.2L1555 294.3L1557.5 294.4L1557.4 291.9L1559.7 291.7L1559.8 289.5L1562 289.2L1562.2 287.1L1565.2 287.6L1564.7 284.7L1567.5 285.1L1567.1 282.3L1571.8 287.2L1572.3 290L1570.1 290.2L1569.9 292.4L1566.9 291.8L1567.5 294.8L1564.8 294.5L1565.1 297.2L1562.3 296.8L1562.7 299.6L1559.8 299.1L1560.3 302L1557.3 301.5L1557.9 304.4L1554.9 303.9L1555.5 306.8L1553.2 306.9L1553.1 309.2L1550.3 308.9L1550.6 311.6L1547.7 311.1L1548.2 314L1545.4 313.6L1545.8 316.4ZM1594.5 256.7L1597.5 257.4L1597.1 254.4L1599.4 254.4L1599.6 252.1L1602.3 252.6L1602.1 249.8L1604.5 250L1604.6 247.5L1607.3 248L1607.1 245.3L1609.6 245.5L1609.6 242.9L1611.7 242.8L1612 240.6L1614.6 240.9L1614.5 238.3L1617 238.5L1617 236L1619.6 236.3L1619.5 233.7L1622.5 234.4L1622 231.4L1627.2 237L1627 239.3L1624.7 239.2L1624.5 241.6L1622.2 241.6L1622 243.9L1619.5 243.7L1619.6 246.2L1616.8 245.8L1617.1 248.5L1614.9 248.7L1614.6 250.8L1611.6 250.2L1612.1 253.2L1609 252.4L1609.6 255.5L1606.7 254.9L1607 257.8L1604.4 257.4L1604.5 260.1L1602.2 260.1L1602 262.4L1599.9 262.5ZM1649.2 205.8L1651.4 205.7L1651.6 203.4L1654.4 203.8L1654 201.1L1656.8 201.5L1656.4 198.7L1658.8 198.7L1658.8 196.3L1661.3 196.4L1661.1 193.9L1663.9 194.2L1663.5 191.4L1665.8 191.3L1665.8 189L1668.5 189.1L1668.2 186.5L1670.7 186.5L1670.6 184.1L1673.6 184.6L1673 181.6L1675.5 181.7L1675.5 179.2L1680 183.9L1680.7 186.9L1678.3 186.9L1678.3 189.3L1675.8 189.1L1675.9 191.7L1673.7 191.9L1673.6 194.1L1670.8 193.7L1671.2 196.5L1668.6 196.4L1668.9 199L1666.5 199.1L1666.5 201.4L1664.2 201.6L1664.1 203.9L1661.3 203.6L1661.7 206.3L1659.6 206.7L1659.2 208.8L1656.7 208.7L1656.8 211.2L1654 210.8ZM1704.9 155.3L1707.7 156.4L1707.2 153.5L1709.9 154.1L1709.3 151.6L1711.4 151.2L1711.1 149.1L1712.9 148.2L1712.8 146.2L1715 145.5L1714.6 143.2L1716.6 142.3L1716.7 140.2L1719 139.7L1719 137.4L1721.4 137.2L1721.3 134.9L1724 135L1723.5 132.5L1725.8 132.3L1725.4 130L1727.9 129.7L1727.3 127.3L1734 131.5L1733.7 133.6L1731.3 134.1L1731.6 136.7L1728.8 136.8L1729.2 139.6L1726.3 139.4L1726.9 142.2L1724.3 142.1L1724.7 144.6L1722.8 145L1722.9 146.9L1720.6 147.1L1721.2 149.3L1719.5 150.2L1719.4 152.2L1717.3 153L1717.5 155.4L1714.7 155.8L1714.9 158.8L1712.4 159.2L1711.9 161.6L1708.9 160.7ZM1736.1 98.9L1737 97.3L1736.9 95.6L1737.9 94.1L1737.8 92.3L1738.8 90.8L1738.6 89L1739.7 87.5L1739.5 85.7L1740.5 84.2L1740.4 82.4L1741.5 80.9L1741.3 79.1L1742.2 77.6L1742.2 75.8L1743.3 74.4L1743.1 72.5L1744.3 71.1L1744.1 69.3L1751.7 71.7L1751.6 73.4L1750.4 74.7L1750.7 76.5L1749.7 78L1749.7 79.7L1748.6 81.1L1748.8 82.9L1747.8 84.4L1748 86.2L1746.9 87.7L1747.1 89.4L1746.2 91L1746.2 92.7L1745.4 94.2L1745.4 96L1744.4 97.5L1744.5 99.3L1743.6 100.8ZM1752.5 39.9L1753.5 38.4L1753.4 36.6L1754.3 35.1L1754 34L1761.7 35.9L1761.8 36.9L1760.8 38.4L1761 40.3L1760.2 41.8Z"/>
<path id="g6" d="M1104.4 785.2L1105.5 783.8L1105.3 781.9L1106.3 780.5L1106.1 778.7L1107 777.1L1107 775.4L1108 773.9L1107.9 772.1L1108.8 770.6L1108.8 768.8L1109.7 767.3L1109.7 765.5L1110.5 764L1110.6 762.2L1111.6 760.8L1111.5 759L1112.4 757.5L1112.4 755.7L1113.6 754.3L1113.3 752.4L1114.2 750.9L1114.3 749.1L1115.3 747.7L1115.2 745.9L1116.2 744.4L1116.1 742.6L1117.3 741.2L1117.1 739.3L1117.9 737.8L1118 736.1L1119.2 734.6L1118.9 732.8L1119.8 731.3L1119.9 729.5L1120.9 728.1L1120.8 726.3L1121.7 724.8L1121.7 723L1122.7 721.5L1122.7 719.7L1123.6 718.2L1123.6 716.4L1124.4 714.9L1124.5 713.2L1125.6 711.7L1125.4 709.9L1126.5 708.4L1126.3 706.6L1127.4 705.2L1127.3 703.4L1128.3 701.9L1128.2 700.1L1129.3 698.6L1129.1 696.8L1130.1 695.3L1130 693.5L1130.9 692L1130.9 690.3L1131.9 688.8L1131.8 687L1132.7 685.5L1132.7 683.7L1133.5 682.2L1133.6 680.4L1141.1 682.4L1141.1 684.2L1140.1 685.7L1140.3 687.5L1139.2 689L1139.4 690.8L1138.3 692.3L1138.5 694.1L1137.5 695.6L1137.6 697.4L1136.5 698.9L1136.7 700.7L1135.7 702.2L1135.7 704L1134.7 705.4L1134.8 707.2L1133.9 708.8L1133.9 710.5L1133 712L1133 713.8L1131.9 715.3L1132.1 717.1L1130.9 718.5L1131.1 720.3L1130.3 721.9L1130.2 723.6L1129.3 725.1L1129.3 726.9L1128.3 728.4L1128.4 730.2L1127.3 731.7L1127.4 733.4L1126.4 734.9L1126.5 736.7L1125.3 738.2L1125.5 740L1124.6 741.5L1124.6 743.2L1123.5 744.7L1123.7 746.5L1122.8 748L1122.8 749.8L1121.7 751.2L1121.8 753L1120.7 754.5L1120.9 756.3L1119.8 757.8L1120 759.6L1119.2 761.1L1119.1 762.8L1118.1 764.3L1118.2 766.1L1117.1 767.6L1117.3 769.4L1116.5 770.9L1116.4 772.6L1115.5 774.2L1115.5 775.9L1114.7 777.4L1114.6 779.2L1113.7 780.7L1113.7 782.5L1112.9 784L1112.8 785.7L1111.8 787.2ZM1136.2 670.6L1137.2 669.1L1137 667.3L1137.9 665.7L1137.9 664L1138.9 662.5L1138.8 660.7L1139.9 659.2L1139.7 657.4L1140.7 655.9L1140.6 654.1L1141.8 652.7L1141.6 650.8L1142.6 649.3L1142.7 647.6L1144 646.2L1143.8 644.3L1144.9 642.9L1144.9 641.1L1152.4 643.9L1152.3 645.6L1151 646.9L1151.2 648.7L1150.2 650.1L1150.1 651.8L1148.9 653.2L1149.1 655L1147.9 656.3L1148.1 658.1L1147.3 659.5L1147.2 661.2L1146.2 662.7L1146.4 664.5L1145.3 665.9L1145.5 667.7L1144.7 669.3L1144.6 671L1143.8 672.6ZM1168.6 597.5L1168.6 595.5L1170.4 594.6L1170.3 592.5L1172.6 591.9L1172.1 589.6L1174.2 588.9L1173.8 586.7L1176.1 586.1L1175.6 583.8L1177.3 582.8L1177.4 580.9L1179.1 580L1179.2 578L1181.5 577.4L1181 575.1L1182.9 574.3L1182.8 572.2L1185 571.6L1184.6 569.3L1190.9 573.3L1191.1 575.4L1189.4 576.4L1189.3 578.3L1187.2 579L1187.5 581.2L1185.9 582.2L1185.8 584.1L1183.8 584.8L1184 586.9L1182.2 587.8L1182.2 589.8L1180.1 590.5L1180.5 592.7L1178.5 593.5L1178.7 595.6L1176.9 596.5L1177 598.5L1175 599.3L1175.2 601.4ZM1207.4 535.2L1209.6 534.7L1209.5 532.4L1211.5 531.8L1211.6 529.7L1213.5 529L1213.7 527L1216.3 526.9L1215.9 524.3L1218.1 523.9L1218.1 521.7L1220.8 521.8L1220.4 519.1L1222.5 518.7L1222.7 516.5L1225.7 516.9L1225 514L1227.2 513.6L1227.4 511.5L1229.8 511.5L1229.8 509L1232.1 508.9L1232.2 506.6L1234.3 506.3L1239.9 511.8L1237.7 512L1237.5 514.2L1234.8 513.9L1235.2 516.6L1232.5 516.3L1232.8 519L1230.1 518.7L1230.5 521.5L1228.3 521.7L1228.3 523.9L1225.9 524L1226.1 526.4L1223.2 526.1L1223.9 528.9L1221.8 529.3L1221.7 531.4L1219.7 531.9L1219.6 534L1217 534L1217.6 536.6L1215.5 537.1L1215.5 539.2L1213.5 539.8ZM1265.2 481L1267.7 481.9L1268.3 479.4L1271.1 481L1271.4 477.8L1274.1 479.3L1274.6 476.2L1277.4 478.2L1277.9 474.8L1280.8 477.4L1281.1 473.5L1283.7 475.3L1284.4 472.3L1287.2 475L1287.6 471.1L1290.4 473.8L1290.8 470L1293.2 471.6L1294 468.8L1296.8 471.5L1297.2 467.7L1299.6 469.5L1302.1 476.2L1299.3 473.4L1298.8 477.4L1296.5 475.8L1295.6 478.5L1293.2 476.7L1292.5 479.6L1289.7 477.1L1289.3 480.8L1286.9 479.2L1286.1 481.9L1283.3 479.3L1283 483.1L1280.2 480.4L1280 484.4L1277.7 483.1L1277.1 485.7L1274.1 483.3L1274.2 487.1L1271.7 486L1271.2 488.6L1268.3 486.6ZM1334.7 456.8L1334.9 453.1L1337.7 455.1L1337.9 451.7L1340.5 453.3L1340.9 450.2L1343.8 452.3L1343.9 448.8L1346.3 449.8L1346.8 447.2L1349.5 448.7L1349.7 445.6L1352.7 447.5L1352.6 443.9L1355.7 445.8L1355.5 442.2L1358.5 443.9L1358.3 440.5L1361.1 441.7L1361.2 438.7L1364.1 440.2L1364 436.9L1366.4 437.5L1370.6 443.8L1367.5 442.2L1367.7 445.7L1365.3 445.1L1364.8 447.6L1362.2 446.6L1361.9 449.4L1358.8 447.7L1358.9 451.2L1356.2 450.1L1355.9 453L1353 451.4L1352.9 454.7L1349.9 452.8L1349.8 456.4L1346.8 454.4L1346.7 458L1343.8 456.2L1343.6 459.6L1341.2 458.5L1340.4 461.1L1337.7 459.3L1337.3 462.5ZM1396.2 415.2L1395.8 412L1398.6 412.7L1398.4 409.9L1401 410.3L1401.1 407.7L1403.5 408L1403.7 405.6L1406.4 406.2L1406.3 403.4L1408.9 403.9L1408.9 401.3L1411.7 402L1411.6 399.1L1414.4 399.8L1414.2 397L1417 397.7L1416.8 394.8L1419.4 395.2L1419.5 392.6L1422.6 393.7L1422.1 390.5L1424.3 390.5L1424.7 388.3L1428.8 393.3L1429.3 396.6L1426.9 396.4L1426.7 398.7L1423.7 397.8L1424 400.9L1421.6 400.6L1421.4 403.1L1418.6 402.3L1418.8 405.2L1415.8 404.3L1416.2 407.4L1413.7 407L1413.5 409.5L1411.3 409.5L1410.9 411.7L1408.3 411.2L1408.3 413.8L1405.6 413.3L1405.6 416L1403 415.5L1403 418.2L1400.1 417.3L1400.3 420.3ZM1454 364.9L1457.1 366.1L1456.7 362.8L1459.7 364L1459.4 360.7L1462.2 361.6L1462 358.6L1464.9 359.6L1464.7 356.5L1467.6 357.4L1467.4 354.4L1470.2 355.2L1470.1 352.4L1472.4 352.5L1472.9 350.3L1475.9 351.5L1475.6 348.2L1477.9 348.5L1478.3 346.2L1481.1 347L1481.1 344.2L1484.2 345.5L1483.9 342.1L1487.7 347.5L1488 350.8L1485.2 349.8L1485.3 352.7L1482.8 352.2L1482.5 354.7L1480.1 354.3L1479.8 356.7L1477.4 356.4L1477.1 358.8L1474.7 358.3L1474.5 360.8L1471.6 359.8L1471.8 362.9L1469.3 362.5L1469.1 364.9L1466.5 364.3L1466.4 367L1463.4 365.9L1463.8 369.1L1461.5 369L1461.1 371.2L1458.3 370.4ZM1514.8 324.2L1514.3 321L1516.6 321.1L1516.8 318.8L1519.2 319L1519.3 316.6L1521.8 316.9L1521.7 314.3L1524.7 315L1524.1 312L1526.6 312.1L1526.6 309.6L1529.5 310.2L1529 307.3L1531.6 307.5L1531.3 304.9L1533.9 305L1533.7 302.5L1536.1 302.4L1536.1 300L1538.6 300L1538.5 297.6L1541 297.7L1546.2 302.8L1543.7 302.8L1543.8 305.3L1541.1 305L1541.4 307.7L1539.3 307.9L1539 310.1L1536.1 309.6L1536.6 312.5L1533.8 312.1L1534.2 314.9L1531.3 314.5L1531.8 317.4L1528.9 316.9L1529.3 319.8L1526.6 319.5L1526.8 322.2L1524.1 321.9L1524.2 324.5L1521.4 324L1521.6 326.9L1518.9 326.3L1518.9 329.2ZM1569.2 273L1568.7 269.8L1571.8 270.8L1571.3 267.6L1573.6 267.7L1573.8 265.4L1576.4 265.7L1576.3 263.1L1579.2 263.8L1578.7 260.8L1580.8 260.6L1581.1 258.5L1583.7 258.8L1583.5 256.1L1586 256.2L1585.9 253.7L1588.5 254L1588.2 251.3L1590.5 251.2L1590.6 248.9L1593 248.8L1593 246.4L1595.5 246.5L1600.7 251.6L1597.7 251.1L1598.3 254L1595.3 253.5L1596 256.4L1593.9 256.8L1593.6 258.9L1590.9 258.7L1591.2 261.3L1588.3 261L1588.7 263.8L1586.5 264L1586.3 266.2L1584.1 266.5L1583.8 268.7L1581.2 268.4L1581.2 271L1578.8 271L1578.7 273.4L1576.1 273.1L1576.1 275.7L1573.7 275.5L1573.5 277.9ZM1622.7 218.2L1625.2 218.4L1625.2 215.9L1628 216.4L1627.7 213.6L1630.5 214.1L1630.2 211.4L1632.8 211.6L1632.7 209.1L1634.9 208.9L1635.2 206.8L1637.7 207L1637.6 204.4L1640.6 205L1640.1 202.1L1642.9 202.6L1642.5 199.7L1644.8 199.6L1644.9 197.3L1647.6 197.6L1647.3 195L1650.3 195.6L1649.7 192.6L1654.4 197.3L1655 200.3L1652.1 199.7L1652.5 202.7L1650 202.5L1650.1 205.1L1647.8 205.1L1647.7 207.5L1644.6 206.8L1645.2 209.8L1643 210L1642.7 212.2L1639.7 211.5L1640.3 214.6L1637.9 214.6L1637.7 217L1635.5 217L1635.2 219.3L1632.3 218.6L1632.7 221.6L1630.4 221.6L1630.2 223.9L1627.2 223.1ZM1675.2 165.5L1677.3 165.2L1677.4 163L1679.6 162.6L1679.6 160.4L1682.4 160.5L1681.9 157.8L1684.3 157.7L1684.1 155.3L1686.9 155.4L1686.4 152.7L1688.8 152.6L1688.7 150.2L1691.4 150.3L1691 147.6L1693.7 147.8L1693.4 145.1L1696 145.2L1695.8 142.6L1698.7 143.1L1698.3 140.2L1700.9 140.4L1700.8 137.8L1703 137.7L1708.3 143.5L1705.6 143L1705.8 145.7L1703.7 145.8L1703.5 147.9L1700.7 147.5L1701.1 150.2L1698.2 149.8L1698.8 152.6L1695.9 152.2L1696.5 155L1693.7 154.7L1694.3 157.5L1691.7 157.4L1692 160L1689.8 160.3L1689.8 162.5L1687.2 162.5L1687.6 165.1L1685.2 165.3L1685.3 167.6L1682.9 167.7L1683.1 170.2L1680.5 170.1ZM1726.4 112.6L1728 111.5L1727.7 109.6L1728.8 108.3L1728.8 106.5L1729.9 105.1L1729.7 103.3L1730.7 101.8L1730.5 100L1731.2 98.4L1731.3 96.7L1732.1 95.1L1732 93.4L1732.8 91.8L1732.8 90L1733.5 88.5L1733.5 86.7L1734.3 85.1L1734.2 83.4L1741.8 85L1741.9 86.7L1741.1 88.3L1741.2 90.1L1740.5 91.7L1740.5 93.5L1739.6 95.1L1739.7 96.8L1739 98.4L1739 100.1L1738.1 101.7L1738.2 103.5L1737.5 105.2L1737.3 107.1L1736.4 108.8L1736.3 110.9L1735 112.4L1734.9 114.4L1733.6 115.9ZM1741.1 53.6L1742 52L1741.9 50.3L1742.7 48.7L1742.7 47L1743.7 45.4L1743.6 43.7L1744.3 42.1L1744.4 40.4L1745.3 38.8L1745.2 37.1L1746.1 35.5L1746 34L1753.5 35.9L1753.7 37.4L1752.8 39L1752.8 40.7L1752.1 42.3L1752 44L1751 45.5L1751.2 47.3L1750.4 48.9L1750.4 50.6L1749.6 52.2L1749.5 53.9L1748.5 55.4Z"/><path id="r6" d="M1133.6 680.4L1134.3 678.9L1134.4 677.1L1135.4 675.6L1135.3 673.8L1136.2 672.3L1136.2 670.6L1143.8 672.6L1143.8 674.3L1143 675.9L1142.9 677.6L1142.1 679.1L1142 680.9L1141.1 682.4ZM1144.9 641.1L1146.3 639.8L1146.2 637.9L1147.8 636.7L1147.5 634.7L1149.3 633.6L1148.9 631.5L1150.6 630.4L1150.4 628.4L1152.2 627.4L1151.9 625.3L1153.4 624.2L1153.4 622.3L1155.3 621.3L1155 619.2L1157.1 618.4L1156.6 616.2L1158.8 615.4L1158.3 613.2L1160.5 612.5L1160 610.2L1162 609.4L1161.7 607.2L1163.5 606.3L1163.4 604.3L1165 603.2L1165.1 601.3L1166.7 600.3L1166.8 598.4L1168.6 597.5L1175.2 601.4L1173.1 602.1L1173.5 604.3L1171.8 605.3L1171.8 607.2L1169.8 608L1170.1 610.1L1168.3 611.1L1168.4 613.1L1166.8 614.1L1166.7 616L1165 616.9L1165.1 618.9L1163.4 619.8L1163.5 621.8L1161.8 622.8L1161.9 624.8L1159.8 625.6L1160.4 627.7L1158.6 628.7L1158.9 630.7L1157.5 631.8L1157.4 633.7L1156.1 634.9L1156 636.6L1154.6 637.8L1154.7 639.6L1153.5 640.8L1153.5 642.6L1152.4 643.9ZM1184.6 569.3L1186.4 568.4L1186.4 566.4L1188.8 565.9L1188.2 563.6L1190.5 563L1190 560.7L1191.9 559.9L1191.9 557.8L1193.7 556.9L1193.7 554.9L1195.5 554L1195.6 552.1L1197.9 551.5L1197.5 549.2L1199.8 548.7L1199.5 546.4L1201.9 546L1201.4 543.6L1203.9 543.2L1203.4 540.8L1205.9 540.5L1205.4 538L1207.2 537.2L1207.4 535.2L1213.5 539.8L1213.6 541.9L1211 542.1L1211.6 544.5L1209.3 545L1209.6 547.3L1207.4 547.8L1207.7 550L1205.3 550.4L1205.8 552.8L1203.8 553.5L1203.9 555.6L1202.2 556.5L1202 558.4L1199.9 558.9L1200.2 561.2L1198 561.8L1198.4 564L1196.3 564.7L1196.6 566.8L1194.2 567.3L1194.8 569.7L1192.4 570.2L1192.9 572.6L1190.9 573.3ZM1234.3 506.3L1234.6 504.1L1237.5 504.6L1237 501.7L1239.8 502.1L1239.6 499.3L1241.9 499.3L1242.2 496.9L1245.3 497.9L1244.9 494.7L1247.5 495.2L1247.6 492.5L1250.8 493.8L1250.4 490.4L1253 491L1253.3 488.3L1255.9 489.2L1256.2 486.4L1258.9 487.4L1259.2 484.5L1261.5 485L1262.2 482.7L1265.1 484.3L1265.2 481L1268.3 486.6L1268.3 490.2L1265.4 488.4L1265.5 491.8L1263 490.8L1262.7 493.4L1260 492.3L1260 495.2L1257.1 494L1257.2 497L1254.1 495.5L1254.6 498.9L1251.7 497.8L1252 500.9L1248.9 499.6L1249.5 502.9L1247 502.5L1247 505L1244.2 504.3L1244.6 507.2L1241.7 506.5L1242.2 509.4L1239.9 509.4L1239.9 511.8ZM1299.6 469.5L1300.4 466.5L1302.8 468.3L1303.6 465.3L1306.1 467.5L1306.7 464.2L1309.1 465.8L1309.9 463L1312.3 464.6L1313.1 461.8L1315.4 463.1L1316.3 460.7L1318.6 462.1L1319.4 459.5L1322.1 461.7L1322.6 458.3L1325.1 460L1325.7 457L1328.3 459L1328.8 455.7L1331.6 458.1L1331.8 454.4L1334.7 456.8L1337.3 462.5L1334.9 461.4L1334.1 463.9L1331.2 461.4L1330.9 465.3L1328.2 463.3L1327.7 466.6L1325.3 465.3L1324.5 467.8L1321.9 466L1321.3 469.1L1318.5 466.6L1318.1 470.3L1315.5 468.3L1314.9 471.5L1312.5 469.9L1311.7 472.7L1309.3 471.2L1308.5 473.8L1306 471.9L1305.3 475L1302.5 472.3L1302.1 476.2ZM1366.4 437.5L1366.7 435.1L1369.6 436.2L1369.4 433.1L1372.5 434.4L1372 431.1L1374.5 431.6L1374.7 429.1L1377.6 430.1L1377.3 427L1380 427.6L1379.9 424.8L1382.7 425.6L1382.5 422.7L1385.5 423.6L1385.2 420.5L1388.1 421.4L1387.8 418.4L1390.1 418.5L1390.5 416.2L1393.6 417.4L1393.2 414.1L1396.2 415.2L1400.3 420.3L1397.5 419.5L1397.6 422.4L1394.6 421.4L1395 424.6L1392.5 424.2L1392.4 426.7L1389.5 425.9L1389.7 428.8L1387.2 428.3L1387.1 431L1384.7 430.7L1384.5 433.1L1381.9 432.7L1381.8 435.3L1379.6 435.2L1379.1 437.4L1376.4 436.8L1376.4 439.6L1374 439.4L1373.5 441.7L1370.5 440.5L1370.6 443.8ZM1424.7 388.3L1427.8 389.3L1427.4 386.2L1430.4 387.2L1430 384L1433.1 385.1L1432.7 381.9L1435.3 382.5L1435.3 379.8L1437.8 380.1L1438 377.6L1440.5 378L1440.7 375.5L1443.7 376.5L1443.3 373.4L1446.5 374.6L1446 371.3L1448.9 372.2L1448.7 369.2L1451 369.4L1451.3 367.1L1454.4 368.2L1454 364.9L1458.3 370.4L1458.4 373.3L1455.6 372.4L1455.8 375.4L1453.5 375.3L1453.1 377.5L1450.3 376.7L1450.5 379.6L1447.8 379.1L1447.8 381.8L1444.9 380.9L1445.1 383.9L1442.2 383L1442.5 386L1439.6 385.1L1439.8 388.1L1437.4 387.8L1437.2 390.2L1434.4 389.5L1434.5 392.3L1431.8 391.6L1431.9 394.5L1428.8 393.3ZM1483.9 342.1L1487.1 343.7L1486.8 340.2L1489.5 341.1L1489.6 338.2L1492.8 339.9L1492.5 336.3L1495.3 337.6L1495.4 334.5L1498.4 336L1498.2 332.7L1500.8 333.6L1501 330.8L1504 332.3L1503.8 329L1506.6 330.1L1506.5 327.1L1508.8 327.5L1509.1 325.1L1512 326.1L1511.7 323.1L1514.8 324.2L1518.9 329.2L1516 328.3L1516.2 331.4L1513.1 330.3L1513.4 333.6L1510.8 333L1510.6 335.7L1507.7 334.6L1507.7 337.7L1505.2 337.1L1504.8 339.6L1502.3 339L1501.9 341.5L1499.4 340.7L1499.1 343.3L1496.6 342.6L1496.2 345.2L1493.8 344.6L1493.4 347L1490.4 345.5L1490.7 348.9L1487.7 347.5ZM1541 297.7L1540.9 295.2L1543.1 295L1543.3 292.8L1546.1 293.1L1545.8 290.4L1548.3 290.5L1548.2 288L1551 288.3L1550.7 285.6L1553.6 286.2L1553.3 283.2L1555.5 283.1L1555.8 280.9L1558.9 281.8L1558.4 278.7L1561.5 279.6L1561 276.4L1563.2 276.4L1563.6 274.2L1566.1 274.6L1566.2 272L1569.2 273L1573.5 277.9L1570.8 277.4L1570.9 280.1L1567.9 279.2L1568.3 282.3L1566 282.2L1565.7 284.5L1563.1 284.1L1563.2 286.7L1560.7 286.4L1560.7 288.9L1557.7 288.1L1558.2 291.2L1555.4 290.5L1555.8 293.4L1552.8 292.7L1553.4 295.7L1551 295.7L1551 298.1L1548.9 298.3L1548.6 300.5L1546.3 300.6L1546.2 302.8ZM1595.5 246.5L1595.3 244L1597.4 243.6L1597.7 241.5L1600.1 241.5L1600.2 239.1L1602.7 239.2L1602.6 236.7L1605.2 236.9L1605.1 234.3L1607.5 234.3L1607.6 232L1609.8 231.8L1610.1 229.6L1612.7 229.9L1612.6 227.3L1615.1 227.5L1615.1 225L1617.8 225.4L1617.7 222.7L1620.1 222.9L1620.2 220.5L1622.4 220.3L1622.7 218.2L1627.2 223.1L1627.6 226.2L1625.4 226.2L1625.1 228.4L1622.1 227.6L1622.6 230.7L1620.1 230.5L1620.1 233L1617.3 232.4L1617.6 235.3L1614.8 234.7L1615.1 237.5L1612.1 236.8L1612.6 239.8L1610.5 240L1610.2 242.1L1607.6 241.8L1607.8 244.4L1605.3 244.3L1605.4 246.8L1603.1 246.9L1603 249.2L1600.8 249.3L1600.7 251.6ZM1649.7 192.6L1652.1 192.6L1652.1 190.2L1654.3 190L1654.5 187.8L1656.6 187.5L1656.9 185.4L1659 185.1L1659.2 183L1661.6 182.9L1661.6 180.5L1663.7 180.2L1663.9 178.1L1666.5 178.2L1666.2 175.6L1668.9 175.8L1668.5 173.1L1671.1 173.2L1670.7 170.6L1673.4 170.7L1672.9 168.1L1675.1 167.7L1675.2 165.5L1680.5 170.1L1680.9 172.8L1678.8 173.2L1678.6 175.3L1676.1 175.4L1676.4 177.9L1673.7 177.8L1674.1 180.5L1671.4 180.4L1671.7 183L1669.6 183.4L1669.4 185.6L1666.6 185.4L1667 188.1L1664.6 188.2L1664.6 190.5L1662.4 190.8L1662.2 193L1659.6 192.9L1659.8 195.4L1657.2 195.2L1657.4 197.9L1654.4 197.3ZM1703 137.7L1703.4 135.5L1706.2 136.1L1706 133.2L1708.5 133.5L1708.5 130.9L1711.6 131.8L1711.1 128.7L1714 129.5L1713.6 126.5L1716 126.7L1716 124.2L1718.4 124.2L1718.7 121.9L1720.9 122L1721.1 119.8L1723.9 120.4L1723.1 117.7L1724.9 117.1L1724.9 115.3L1726.9 114.6L1726.4 112.6L1733.6 115.9L1733.4 118L1731.7 119.3L1731.4 121.6L1729.2 122.6L1728.8 124.9L1725.8 124.6L1726 127.7L1723.4 127.4L1723.5 129.9L1721.2 129.7L1721.1 132.2L1718.5 131.9L1718.5 134.5L1715.9 134.2L1715.9 136.8L1713.3 136.4L1713.3 139L1710.3 138.1L1710.8 141.3L1707.9 140.5L1708.3 143.5ZM1734.2 83.4L1735 81.8L1734.9 80.1L1735.6 78.5L1735.6 76.7L1736.3 75.1L1736.3 73.4L1736.9 71.8L1737 70.1L1737.9 68.5L1737.7 66.7L1738.7 65.2L1738.5 63.4L1739.5 61.9L1739.4 60.1L1740.4 58.6L1740.2 56.8L1741.1 55.3L1741.1 53.6L1748.5 55.4L1748.7 57.2L1747.8 58.8L1747.9 60.6L1747.1 62.1L1747 63.9L1746 65.3L1746.2 67L1745.4 68.5L1745.4 70.2L1744.7 71.8L1744.7 73.5L1743.9 75L1744 76.8L1743.2 78.3L1743.3 80.1L1742.6 81.6L1742.6 83.4L1741.8 85Z"/>
<path id="g7" d="M1099.6 785.2L1100.6 783.7L1100.5 782L1101.3 780.4L1101.4 778.7L1102.3 777.1L1102.2 775.4L1103.2 773.9L1103.1 772.1L1104.1 770.6L1103.9 768.8L1104.9 767.3L1104.8 765.5L1105.6 764L1105.6 762.2L1106.5 760.7L1106.5 758.9L1107.3 757.4L1107.4 755.6L1108.1 754.1L1108.2 752.3L1109.2 750.8L1109.1 749.1L1109.9 747.5L1110 745.8L1111 744.3L1110.8 742.5L1111.7 740.9L1111.7 739.2L1112.7 737.7L1112.6 735.9L1113.6 734.4L1113.5 732.6L1114.6 731.2L1114.5 729.4L1115.5 727.9L1115.4 726.1L1116.5 724.6L1116.3 722.8L1117.4 721.3L1117.2 719.5L1118.4 718.1L1118.2 716.3L1119.1 714.8L1119.1 713L1120.1 711.5L1120 709.7L1120.9 708.2L1121 706.5L1121.9 705L1121.9 703.2L1122.9 701.7L1122.8 699.9L1123.8 698.4L1123.7 696.6L1124.6 695.1L1124.7 693.4L1125.6 691.9L1125.6 690.1L1126.5 688.6L1126.5 686.8L1127.6 685.4L1127.4 683.6L1128.3 682L1128.3 680.3L1135.8 682.4L1135.9 684.1L1134.7 685.6L1135 687.4L1134.2 689L1134.1 690.7L1133.1 692.2L1133.1 694L1132 695.4L1132.2 697.3L1131.3 698.8L1131.3 700.5L1130.5 702.1L1130.4 703.8L1129.3 705.3L1129.5 707.1L1128.5 708.6L1128.5 710.4L1127.5 711.9L1127.6 713.7L1126.6 715.1L1126.7 716.9L1125.6 718.4L1125.7 720.2L1124.9 721.7L1124.8 723.4L1123.7 724.9L1123.9 726.7L1123 728.2L1122.9 730L1121.9 731.5L1122 733.2L1121.1 734.7L1121.1 736.5L1120.3 738L1120.2 739.8L1119.3 741.3L1119.3 743L1118.5 744.6L1118.4 746.3L1117.4 747.8L1117.6 749.5L1116.5 751L1116.7 752.8L1115.7 754.3L1115.8 756.1L1114.9 757.6L1115 759.4L1114.1 760.9L1114.1 762.7L1113.1 764.2L1113.2 765.9L1112.3 767.4L1112.4 769.2L1111.4 770.7L1111.5 772.5L1110.5 774L1110.7 775.8L1109.8 777.3L1109.8 779.1L1108.8 780.6L1109 782.4L1108 783.9L1108.1 785.7L1107.2 787.2ZM1132.8 665.7L1132.8 663.9L1133.6 662.4L1133.6 660.6L1134.7 659.1L1134.5 657.3L1135.3 655.8L1135.4 654L1136.5 652.6L1136.2 650.7L1137 649.2L1137.1 647.5L1138 645.9L1137.9 644.2L1139 642.7L1138.8 640.9L1139.8 639.4L1139.7 637.6L1140.8 636.1L1148.1 638.2L1147.3 639.7L1147.3 641.4L1146.4 642.9L1146.4 644.6L1145.6 646.1L1145.6 647.9L1144.7 649.4L1144.7 651.2L1143.9 652.8L1143.8 654.5L1143 656L1143 657.8L1142.2 659.3L1142.1 661.1L1141.2 662.6L1141.2 664.4L1140.2 665.9L1140.3 667.7ZM1155.9 598L1155.9 596.1L1157.6 595.1L1157.5 593.1L1159.5 592.2L1159 590L1160.7 589L1160.6 587L1162.3 586L1162.2 584L1164.3 583.2L1163.8 581L1165.4 579.9L1165.4 578L1167.3 577.1L1167 575L1169.2 574.2L1168.7 572L1170.6 571.1L1170.3 569L1177.2 572.8L1177.1 574.7L1175.4 575.6L1175.5 577.6L1173.8 578.7L1173.9 580.6L1171.9 581.5L1172.3 583.6L1170.7 584.7L1170.6 586.6L1169 587.6L1169.1 589.6L1167.3 590.5L1167.5 592.5L1165.5 593.4L1165.9 595.5L1164.1 596.5L1164.4 598.5L1162.8 599.6L1162.9 601.5ZM1190.3 535.4L1189.9 533.2L1192 532.4L1191.5 530.2L1193.5 529.4L1193.2 527.2L1195.4 526.5L1194.9 524.3L1196.7 523.3L1196.6 521.3L1198.9 520.6L1198.4 518.4L1200.1 517.4L1200.1 515.4L1202 514.6L1201.9 512.5L1203.8 511.7L1203.7 509.6L1205.4 508.6L1205.5 506.7L1211.9 510.8L1212 512.8L1210.3 513.7L1210.3 515.7L1208 516.2L1208.5 518.5L1206.5 519.3L1206.8 521.4L1204.7 522.1L1205 524.3L1203.4 525.3L1203.3 527.2L1201.1 527.8L1201.6 530.1L1199.9 531L1200 533L1197.8 533.7L1198.3 536L1196.6 536.9L1196.7 538.9ZM1232.6 473.5L1232.6 471.2L1235.4 471.4L1234.8 468.6L1237.4 468.6L1237.1 466L1239.5 465.8L1239.5 463.5L1241.7 463.2L1241.9 461L1244.8 461.4L1244.4 458.5L1247.5 459.2L1246.9 456.1L1250 457L1249.5 453.8L1252.2 454.3L1252.1 451.5L1254.4 451.6L1254.8 449.3L1257.8 450.2L1257.6 447.1L1261.6 452.4L1261.9 455.5L1259.4 454.9L1259.4 457.6L1257 457.3L1256.9 459.7L1254.5 459.4L1254.4 461.8L1251.6 461.2L1251.9 464L1249.1 463.4L1249.6 466.3L1246.8 465.9L1247.2 468.6L1244.5 468.2L1245 470.9L1242.1 470.6L1242.7 473.4L1240.5 473.6L1240.6 475.8L1238.3 476.1L1238.4 478.4ZM1287 428.8L1289.8 430.4L1290 427.2L1292.4 428.1L1293.1 425.7L1296.1 427.9L1296.1 424.1L1299.2 426.4L1299.3 422.5L1301.7 423.6L1302.5 421.1L1305.1 422.7L1305.7 419.7L1308.5 422.1L1308.9 418.4L1311.2 419.5L1312.1 417.1L1314.8 419.4L1315.2 415.9L1317.7 417.4L1318.4 414.6L1320.7 420.6L1320.3 424.2L1317.5 421.6L1317.2 425.5L1314.4 423L1314 426.7L1311.4 424.7L1310.9 427.9L1308.2 425.7L1307.8 429.2L1305 426.9L1304.8 430.5L1302.2 428.8L1301.9 431.9L1299.6 431L1299 433.4L1295.9 431.1L1295.9 434.9L1293.2 433.4L1292.9 436.5L1290.2 434.9ZM1347.8 402.8L1347.4 399.5L1350.1 400.2L1350 397.5L1352.3 397.6L1352.6 395.4L1355.2 395.9L1355.2 393.2L1358 394L1357.7 391.1L1360.4 391.6L1360.2 388.8L1362.4 388.8L1362.7 386.6L1365.5 387.1L1365.1 384.3L1367.9 384.7L1367.6 382L1370.1 382.1L1370 379.6L1372.7 379.9L1372.5 377.3L1377.1 382.1L1377.6 385.1L1375 384.8L1375.2 387.4L1372.5 387.1L1372.7 389.8L1369.7 389.1L1370.2 392.2L1367.5 391.8L1367.6 394.5L1364.6 393.7L1365.1 396.8L1362.1 396.1L1362.5 399.1L1360.1 399L1359.8 401.4L1356.7 400.3L1357.2 403.6L1354.3 402.8L1354.4 405.8L1351.9 405.4L1351.6 408ZM1400.1 354.5L1399.6 351.5L1402 351.5L1402.1 349.2L1404.8 349.6L1404.5 346.8L1407.4 347.3L1407 344.5L1409.5 344.7L1409.4 342.1L1411.6 342L1411.8 339.7L1414.6 340.2L1414.2 337.4L1416.9 337.6L1416.6 335L1418.9 334.8L1419.1 332.6L1421.8 333L1421.5 330.2L1423.8 330.1L1423.9 327.8L1426.8 328.3L1431.5 333.1L1428.7 332.6L1429.1 335.5L1426.9 335.6L1426.7 337.9L1423.9 337.5L1424.3 340.3L1421.7 340.1L1421.9 342.7L1419.5 342.7L1419.5 345.1L1417.2 345.2L1417 347.5L1414.1 346.9L1414.6 349.9L1411.6 349.3L1412.1 352.2L1409.7 352.1L1409.7 354.6L1406.9 354.2L1407.2 357L1404.3 356.4L1404.8 359.4ZM1450.2 301.3L1453.2 301.9L1452.6 298.9L1455.2 299L1455 296.5L1457.4 296.4L1457.4 294.1L1459.5 293.7L1459.8 291.6L1462 291.5L1462.2 289.2L1465.1 289.7L1464.6 286.8L1466.9 286.7L1466.9 284.4L1469.7 284.7L1469.3 281.9L1471.7 281.9L1471.7 279.5L1474.6 279.9L1474.1 277.1L1476.2 276.8L1481.8 282.2L1479.6 282.5L1479.4 284.7L1477.1 284.8L1477 287.1L1474.2 286.8L1474.7 289.5L1472 289.4L1472.3 292L1470.2 292.3L1469.9 294.4L1467.6 294.5L1467.5 296.8L1465.2 297L1465.1 299.3L1462.3 298.8L1462.7 301.7L1459.9 301.3L1460.3 304.1L1457.7 303.9L1457.9 306.5L1455.3 306.4ZM1502.6 247.9L1504.9 247.7L1505 245.5L1507.4 245.5L1507.4 243.1L1509.6 242.9L1509.9 240.7L1512.2 240.6L1512.3 238.3L1514.5 238.1L1514.7 235.9L1517.7 236.5L1517.1 233.5L1519.7 233.7L1519.5 231.1L1521.8 231L1522 228.7L1524.8 229.2L1524.4 226.3L1527.3 226.8L1526.8 223.9L1529.4 224.2L1529.2 221.6L1534.4 226.8L1534.4 229.3L1531.4 228.6L1532 231.7L1529.9 231.9L1529.6 234L1527.1 234L1527.2 236.4L1524.9 236.5L1524.7 238.8L1522.4 238.8L1522.3 241.2L1520.2 241.5L1519.9 243.6L1517.1 243.2L1517.5 246L1515 245.8L1515.1 248.4L1513 248.6L1512.7 250.7L1510.1 250.5L1510.3 253.1L1507.6 252.8ZM1558 195.2L1557.6 192.5L1559.8 192.2L1559.9 190L1562 189.6L1562.2 187.5L1564.6 187.4L1564.5 185L1566.6 184.6L1566.8 182.5L1569.5 182.6L1569 180L1571.4 179.8L1571.3 177.4L1573.8 177.4L1573.6 174.9L1576.5 175.2L1575.9 172.4L1578.8 172.7L1578.3 169.9L1580.6 169.8L1580.6 167.4L1583.4 167.7L1588.4 172.4L1585.7 172.2L1586.1 174.8L1583.1 174.4L1583.8 177.3L1581.7 177.7L1581.5 179.8L1578.9 179.8L1579.2 182.3L1577 182.6L1576.9 184.8L1574.6 185L1574.6 187.3L1572 187.2L1572.3 189.8L1570.2 190.2L1570 192.4L1567.8 192.6L1567.7 194.9L1565.1 194.7L1565.4 197.4L1562.9 197.3L1563.1 199.9ZM1608.2 139.7L1608.3 137.6L1611 137.7L1610.6 135.1L1613.2 135.1L1612.9 132.5L1615.4 132.5L1615.2 130L1617.5 129.8L1617.4 127.5L1619.9 127.4L1619.7 125L1621.9 124.6L1622 122.4L1624 122L1624.2 119.9L1627 120.1L1626.5 117.4L1629.2 117.5L1628.7 114.8L1630.8 114.4L1631 112.3L1633.8 112.5L1633.2 109.7L1638.7 114.5L1638.9 117L1636.5 117.1L1636.6 119.5L1634.3 119.7L1634.4 122.1L1631.7 122L1632.1 124.6L1630 125L1629.9 127.2L1627.9 127.7L1627.6 129.7L1625 129.7L1625.3 132.3L1622.9 132.4L1623.1 134.8L1620.4 134.7L1620.8 137.4L1618.2 137.4L1618.5 139.9L1615.7 139.7L1616.2 142.4L1613.4 142.2L1613.9 144.9ZM1657.7 81.5L1660.2 81.4L1659.9 78.9L1662.3 78.7L1662 76.3L1664.1 75.8L1664.2 73.7L1666.9 73.7L1666.4 71.1L1668.6 70.7L1668.6 68.5L1671.2 68.5L1670.8 65.9L1673.6 66L1673 63.3L1675.8 63.4L1675.1 60.7L1677.5 60.5L1677.3 58.1L1679.4 57.6L1679.5 55.5L1682 55.4L1681.7 52.9L1684.5 53L1689.7 57.4L1687.1 57.4L1687.5 60L1685.5 60.5L1685.3 62.6L1683.1 62.9L1683.1 65.2L1680.5 65.2L1681 67.8L1678.7 68.1L1678.8 70.4L1676.7 70.9L1676.6 73L1674.1 73.2L1674.4 75.6L1672.3 76.1L1672.2 78.2L1669.4 78.1L1670 80.8L1667.4 80.8L1667.8 83.4L1665.1 83.4L1665.6 86L1662.9 85.9Z"/><path id="r7" d="M1128.3 680.3L1129.2 678.8L1129.2 677L1130.2 675.5L1130.1 673.7L1131.2 672.2L1131 670.4L1131.8 668.9L1131.9 667.2L1132.8 665.7L1140.3 667.7L1139.5 669.2L1139.5 671L1138.5 672.5L1138.6 674.3L1137.5 675.7L1137.7 677.6L1136.8 679.1L1136.8 680.8L1135.8 682.4ZM1140.8 636.1L1140.6 634.3L1141.7 632.8L1141.6 631L1142.6 629.5L1142.6 627.7L1143.8 626.3L1143.7 624.5L1144.9 623.1L1144.8 621.2L1146.1 619.9L1146 618L1147.4 616.7L1147.3 614.8L1148.7 613.5L1148.6 611.6L1150.1 610.4L1150 608.5L1151.5 607.3L1151.5 605.4L1152.8 604.1L1152.9 602.3L1154.6 601.2L1154.4 599.2L1155.9 598L1162.9 601.5L1161.3 602.6L1161.4 604.5L1159.9 605.7L1159.9 607.5L1158.2 608.5L1158.5 610.5L1157.1 611.7L1157.1 613.6L1155.8 614.8L1155.8 616.6L1154.4 617.8L1154.5 619.6L1153.2 620.8L1153.3 622.6L1151.9 623.8L1152.2 625.7L1151 627L1151.1 628.8L1150.1 630.2L1150.1 631.9L1148.8 633.3L1149.1 635.1L1148.2 636.5L1148.1 638.2ZM1170.3 569L1172.4 568.2L1171.9 566L1173.7 565L1173.5 563L1175.7 562.3L1175.2 560.1L1177.2 559.2L1176.8 557.1L1178.3 555.9L1178.4 554.1L1179.9 553L1180 551.1L1181.5 550L1181.7 548.1L1183.3 547.1L1183.3 545.1L1185.2 544.2L1185 542.1L1187.1 541.4L1186.6 539.2L1188.3 538.2L1188.2 536.2L1190.3 535.4L1196.7 538.9L1194.6 539.7L1195 541.9L1193.1 542.7L1193.4 544.9L1191.9 546L1191.8 547.8L1190.3 549L1190.1 550.8L1188.4 551.8L1188.5 553.8L1186.3 554.5L1186.9 556.8L1185.1 557.7L1185.2 559.7L1183.6 560.8L1183.6 562.7L1181.5 563.5L1182 565.7L1179.9 566.5L1180.4 568.7L1178.8 569.8L1178.7 571.7L1177.2 572.8ZM1205.5 506.7L1208 506.2L1207.4 503.8L1209.4 503.1L1209.3 500.9L1211 500L1211.2 498.1L1213.7 497.7L1213.2 495.2L1215.8 495L1215.2 492.5L1217.2 491.8L1217.3 489.7L1219.7 489.4L1219.4 487L1221.6 486.5L1221.6 484.3L1223.7 483.8L1223.8 481.6L1225.9 481.2L1226 479L1228.7 479.1L1228.2 476.4L1230.8 476.4L1230.4 473.8L1232.6 473.5L1238.4 478.4L1236 478.6L1236.1 481L1233.9 481.3L1234 483.6L1231.2 483.4L1231.8 486.1L1229.6 486.5L1229.6 488.7L1227.4 489L1227.5 491.3L1225 491.4L1225.4 493.9L1223.1 494.1L1223.4 496.5L1220.8 496.7L1221.4 499.1L1219.5 499.8L1219.4 501.8L1217.5 502.4L1217.5 504.5L1215 504.8L1215.7 507.2L1213.8 508L1213.8 510L1211.9 510.8ZM1257.6 447.1L1259.9 447.2L1260.4 445L1262.9 445.5L1263.2 443L1266.2 444.4L1266.1 441L1269 442.4L1268.9 439.1L1271.7 440.1L1271.9 437.2L1274.5 438.2L1274.9 435.4L1277.9 437.1L1277.9 433.6L1281 435.6L1280.9 432L1283.9 433.8L1284 430.4L1286.5 431.6L1287 428.8L1290.2 434.9L1289.9 438L1287.1 436.3L1286.9 439.6L1284.3 438.3L1284 441.2L1281.3 439.8L1281.1 442.7L1278.1 441L1278.3 444.4L1275.3 442.7L1275.5 446.1L1272.9 445.2L1272.7 447.9L1269.6 446.3L1269.9 449.7L1267.4 449.1L1267.2 451.6L1264.1 450.2L1264.5 453.6L1261.6 452.4ZM1318.4 414.6L1321.2 417.2L1321.5 413.4L1324 415.1L1324.6 412.1L1326.8 413.1L1327.6 410.8L1330.1 412.3L1330.6 409.5L1333.5 411.5L1333.6 408L1336.3 409.7L1336.5 406.5L1339 407.7L1339.3 404.9L1341.9 406.1L1342 403.2L1344.6 404.1L1344.7 401.4L1347.8 402.8L1351.6 408L1348.8 407.1L1348.7 410.1L1345.8 409L1345.7 412.1L1342.7 410.6L1342.6 414L1340 413L1339.5 415.7L1336.8 414.4L1336.3 417.3L1333.9 416.4L1333.2 418.9L1330.7 417.6L1329.9 420.3L1327.4 418.8L1326.7 421.7L1324.2 420.1L1323.5 423L1320.7 420.6ZM1372.5 377.3L1375.4 377.8L1374.9 374.9L1377.9 375.6L1377.4 372.5L1380.2 373L1379.8 370.2L1382.7 370.7L1382.3 367.8L1384.9 368L1384.8 365.5L1386.9 365.3L1387.3 363.1L1389.9 363.4L1389.8 360.8L1392.2 360.9L1392.3 358.5L1394.6 358.5L1394.7 356.2L1397.4 356.5L1397.2 353.9L1400.1 354.5L1404.8 359.4L1402 358.9L1402.3 361.7L1399.9 361.6L1399.8 364.1L1396.9 363.4L1397.3 366.4L1394.3 365.7L1394.8 368.7L1392.4 368.6L1392.3 371L1389.4 370.4L1389.9 373.3L1387.5 373.2L1387.4 375.6L1384.9 375.4L1385 378L1382.8 378.2L1382.5 380.3L1379.7 379.9L1380.1 382.7L1377.1 382.1ZM1426.8 328.3L1426.3 325.4L1428.8 325.5L1428.7 323L1431.2 323.1L1431.1 320.6L1433.6 320.7L1433.5 318.2L1435.7 318L1435.8 315.8L1438 315.5L1438.2 313.3L1441 313.7L1440.6 310.9L1443.6 311.5L1443 308.5L1445.7 308.8L1445.4 306.1L1447.9 306.2L1447.8 303.7L1450.2 303.6L1450.2 301.3L1455.3 306.4L1455.5 309L1452.7 308.5L1453.1 311.4L1450.2 310.8L1450.7 313.8L1447.8 313.3L1448.3 316.2L1445.6 315.9L1445.9 318.6L1443.4 318.5L1443.5 321L1441.1 321L1441.1 323.4L1438.8 323.5L1438.7 325.8L1436.5 326L1436.3 328.2L1433.9 328.2L1433.9 330.6L1431 330.1L1431.5 333.1ZM1476.2 276.8L1476.4 274.7L1479 274.7L1478.8 272.2L1481.6 272.5L1481.2 269.8L1483.7 269.9L1483.6 267.4L1486.2 267.6L1485.9 264.9L1488.1 264.6L1488.3 262.5L1491.1 262.8L1490.7 260.1L1493.5 260.4L1493.1 257.6L1496 258.1L1495.5 255.2L1498.4 255.7L1497.8 252.8L1500.4 252.9L1500.2 250.3L1502.9 250.6L1502.6 247.9L1507.6 252.8L1507.9 255.6L1505.1 255.1L1505.5 258L1502.9 257.8L1503.2 260.4L1500.7 260.4L1500.8 262.8L1498.7 263.1L1498.4 265.2L1495.7 265L1496 267.7L1493.8 267.8L1493.7 270.1L1491.3 270.1L1491.3 272.5L1488.6 272.2L1488.9 274.9L1486.3 274.8L1486.5 277.4L1483.6 276.9L1484.2 279.8L1481.9 280L1481.8 282.2ZM1529.2 221.6L1531.5 221.5L1531.6 219.2L1534 219.2L1534 216.8L1536.1 216.5L1536.4 214.4L1539.1 214.7L1538.8 212L1541 211.7L1541.2 209.6L1543.9 209.9L1543.6 207.2L1546.5 207.6L1546 204.7L1548.4 204.8L1548.3 202.3L1551 202.5L1550.7 199.9L1552.9 199.6L1553 197.4L1555.5 197.5L1555.3 195L1558 195.2L1563.1 199.9L1560.5 199.8L1560.8 202.4L1558 202.2L1558.4 204.9L1556.3 205.3L1556.1 207.4L1553.9 207.7L1553.7 209.9L1551.4 210.1L1551.3 212.3L1548.9 212.4L1548.9 214.8L1546.2 214.4L1546.5 217.2L1544.4 217.5L1544.1 219.6L1541.3 219.2L1541.7 222.1L1538.8 221.6L1539.3 224.5L1537 224.6L1536.9 226.9L1534.4 226.8ZM1583.4 167.7L1582.9 164.9L1585.2 164.7L1585.2 162.4L1588.1 162.8L1587.5 159.9L1590 159.9L1589.9 157.5L1592.7 157.8L1592.2 155L1594.3 154.6L1594.5 152.5L1597.2 152.7L1596.8 150L1599.3 150L1599.1 147.5L1601.5 147.4L1601.5 145L1604.4 145.4L1603.8 142.6L1606.2 142.5L1606.1 140.1L1608.2 139.7L1613.9 144.9L1611.8 145.4L1611.6 147.5L1609 147.4L1609.3 150L1606.8 150L1607 152.5L1604.3 152.3L1604.6 155L1602.5 155.3L1602.3 157.5L1599.6 157.2L1600 159.9L1597.2 159.7L1597.7 162.4L1595.6 162.8L1595.3 164.9L1593.2 165.2L1593 167.4L1590.4 167.3L1590.7 169.9L1588.1 169.7L1588.4 172.4ZM1633.2 109.7L1635.8 109.7L1635.5 107.2L1637.6 106.8L1637.7 104.6L1640.1 104.5L1639.9 102.1L1642.1 101.7L1642.2 99.5L1644.4 99.2L1644.4 96.9L1646.6 96.6L1646.6 94.4L1648.9 94.1L1648.8 91.8L1651.6 92L1651.1 89.2L1653.7 89.3L1653.3 86.7L1656 86.7L1655.5 84.1L1658.3 84.3L1657.7 81.5L1662.9 85.9L1663.4 88.6L1661.1 88.9L1661.2 91.2L1659 91.5L1659 93.8L1656.4 93.8L1656.8 96.4L1654.4 96.6L1654.6 99L1651.9 99L1652.3 101.6L1649.8 101.7L1650.1 104.2L1647.5 104.1L1647.9 106.7L1645.6 107L1645.6 109.3L1643.1 109.3L1643.4 111.9L1641.1 112.1L1641.1 114.4L1638.7 114.5ZM1684.5 53L1683.9 50.3L1686.7 50.4L1686.1 47.7L1688.8 47.8L1688.2 45.1L1690.3 44.6L1690.4 42.4L1693 42.4L1692.6 39.8L1695.3 39.9L1694.8 37.2L1697.2 37L1696.5 35.1L1702.3 39.9L1702.8 41.7L1700.4 41.9L1700.6 44.3L1698 44.4L1698.4 46.9L1695.7 46.9L1696.2 49.5L1693.5 49.4L1694.1 52.1L1691.9 52.5L1691.9 54.7L1689.6 55.1L1689.7 57.4Z"/>
<path id="g8" d="M1095.2 785.3L1096 783.7L1096 782L1097 780.5L1096.9 778.7L1097.7 777.1L1097.7 775.4L1098.7 773.9L1098.6 772.1L1099.4 770.6L1099.4 768.8L1100.2 767.2L1100.3 765.5L1101.2 764L1101.1 762.2L1102.1 760.7L1101.9 758.9L1102.8 757.4L1102.8 755.6L1103.8 754.1L1103.6 752.3L1104.5 750.8L1104.4 749L1105.4 747.5L1105.2 745.7L1106 744.2L1106.1 742.4L1107 740.9L1106.9 739.1L1107.8 737.6L1107.7 735.8L1108.6 734.3L1108.6 732.5L1109.4 731L1109.4 729.2L1110.4 727.7L1110.3 725.9L1111.4 724.5L1111.1 722.7L1112.1 721.2L1112 719.4L1112.9 717.9L1112.9 716.1L1113.7 714.5L1113.8 712.8L1114.8 711.3L1114.7 709.5L1115.8 708.1L1115.6 706.2L1116.8 704.8L1116.6 703L1117.4 701.4L1117.5 699.7L1118.5 698.2L1118.4 696.4L1119.4 694.9L1119.4 693.2L1120.4 691.7L1120.3 689.9L1121.4 688.4L1121.2 686.6L1122.2 685.1L1122.1 683.4L1123.1 681.9L1123.1 680.1L1130.5 682.2L1130.6 684L1129.5 685.4L1129.7 687.2L1128.9 688.8L1128.8 690.5L1127.7 692L1127.8 693.8L1126.9 695.3L1126.9 697.1L1126 698.6L1126 700.4L1124.9 701.8L1125 703.6L1124.2 705.1L1124.1 706.9L1123.2 708.4L1123.2 710.1L1122.3 711.6L1122.3 713.4L1121.2 714.8L1121.4 716.7L1120.3 718.1L1120.5 719.9L1119.7 721.4L1119.6 723.2L1118.7 724.7L1118.7 726.4L1117.7 727.9L1117.9 729.7L1117 731.2L1117 733L1116.2 734.5L1116.2 736.2L1115.4 737.8L1115.4 739.5L1114.6 741.1L1114.5 742.8L1113.5 744.3L1113.7 746.1L1112.7 747.6L1112.9 749.4L1112 750.9L1112 752.7L1111.2 754.2L1111.2 756L1110.4 757.5L1110.4 759.3L1109.5 760.8L1109.5 762.6L1108.7 764.1L1108.7 765.9L1107.8 767.4L1107.9 769.2L1106.9 770.7L1107 772.5L1106.2 774L1106.2 775.8L1105.1 777.3L1105.3 779.1L1104.4 780.6L1104.5 782.4L1103.6 783.9L1103.6 785.7L1102.7 787.2ZM1129.5 658.9L1129.4 657.1L1130.2 655.6L1130.3 653.9L1131.2 652.3L1131.2 650.6L1132.1 649.1L1132 647.3L1133 645.8L1132.9 644L1133.7 642.5L1133.8 640.7L1134.7 639.2L1134.6 637.4L1135.6 635.9L1135.5 634.1L1136.4 632.6L1136.4 630.9L1143.9 632.8L1144 634.6L1143.2 636.2L1143.1 637.9L1142 639.4L1142.2 641.2L1141.4 642.7L1141.4 644.5L1140.4 646L1140.5 647.8L1139.6 649.3L1139.6 651.1L1138.6 652.6L1138.7 654.4L1137.9 655.9L1137.9 657.7L1136.8 659.1L1137 661ZM1146 598.1L1147.5 596.8L1147.2 594.9L1148.9 593.7L1148.5 591.7L1149.9 590.4L1149.8 588.6L1151.6 587.4L1151.2 585.4L1152.5 584.1L1152.6 582.3L1154 581.1L1154 579.2L1155.6 578.1L1155.4 576.1L1157.2 575L1156.8 573L1158.5 571.9L1158.3 569.9L1165.2 573.2L1165.3 575.1L1163.9 576.3L1163.9 578.2L1162 579.2L1162.5 581.2L1160.9 582.4L1161.1 584.3L1159.5 585.4L1159.7 587.3L1158.2 588.5L1158.3 590.4L1157.1 591.7L1157 593.5L1155.3 594.6L1155.7 596.5L1154.6 597.8L1154.5 599.5L1153.4 600.9ZM1176.3 535.1L1176.4 533.3L1178.3 532.4L1177.9 530.2L1179.7 529.2L1179.4 527.2L1181.3 526.2L1180.9 524.1L1182.3 522.9L1182.4 521.1L1183.8 519.9L1183.9 518L1185.9 517.1L1185.4 515L1187.1 513.9L1186.9 511.9L1188.4 510.8L1188.4 508.9L1190.3 507.9L1196.9 511.1L1194.9 512.1L1195.4 514.2L1193.4 515.1L1193.9 517.3L1192.1 518.3L1192.4 520.3L1190.8 521.4L1190.9 523.4L1189 524.4L1189.4 526.4L1187.8 527.5L1187.9 529.5L1186 530.4L1186.4 532.5L1184.4 533.4L1184.9 535.6L1183.1 536.6L1183.4 538.6ZM1207.4 472.6L1209 471.5L1209.2 469.6L1210.9 468.7L1211 466.7L1213.1 466L1212.8 463.8L1215.3 463.3L1214.7 460.9L1216.7 460.2L1216.7 458L1219 457.6L1218.7 455.2L1220.5 454.4L1220.7 452.4L1222.7 451.8L1222.7 449.7L1225 449.3L1224.8 446.9L1227.5 446.9L1226.9 444.2L1229 443.8L1228.9 441.5L1231.2 441.1L1237.1 445.6L1234.6 445.9L1235 448.3L1232.6 448.6L1232.9 451L1230.6 451.3L1230.9 453.7L1228.7 454.1L1228.9 456.4L1226.4 456.6L1226.9 459.1L1224.3 459.3L1224.9 461.8L1223.1 462.5L1223 464.5L1220.7 464.9L1221.1 467.2L1218.9 467.7L1219.3 470L1217.4 470.7L1217.6 472.7L1215.3 473.3L1215.8 475.6L1213.9 476.4ZM1256.2 410.4L1259.2 411.2L1258.7 408.1L1261.6 408.7L1261.4 405.8L1264 406.3L1264 403.6L1266.4 403.8L1266.7 401.4L1269.7 402.4L1269.4 399.2L1272.2 400.1L1272.1 397.1L1275 398.1L1274.9 395L1277.8 396.1L1277.7 393L1280.6 394.1L1280.5 391L1283 391.6L1283.4 389.1L1286.1 390L1286.2 387.2L1288.8 388L1289 385.3L1293.3 391.7L1292.8 394.1L1289.9 392.7L1290 395.9L1287.1 394.6L1287.2 397.8L1284.6 396.9L1284.5 399.7L1281.7 398.7L1281.8 401.6L1279.5 401.3L1279.1 403.6L1276.6 403L1276.4 405.6L1273.5 404.5L1273.8 407.6L1271.6 407.5L1271.2 409.7L1268.4 408.9L1268.6 411.8L1266.2 411.5L1266.1 413.9L1263.7 413.7L1263.6 416.1L1260.9 415.6ZM1323.7 363.6L1326.3 364.6L1326.5 361.8L1329.4 363.1L1329.3 360L1331.9 360.8L1332 358.1L1334.8 359.1L1334.7 356.2L1337.7 357.4L1337.3 354.2L1339.9 354.7L1339.9 352.1L1342.2 352.2L1342.4 350L1344.8 350.2L1344.9 347.8L1348 348.6L1347.4 345.5L1350.2 346.1L1349.8 343.2L1352.4 343.5L1352.2 340.9L1354.5 340.9L1354.6 338.5L1359.4 343.3L1359.9 346.1L1357.4 346.1L1357.4 348.6L1355.2 348.8L1354.9 351L1352.4 350.9L1352.4 353.4L1349.6 352.9L1349.8 355.8L1347.3 355.6L1347.2 358.1L1344.5 357.6L1344.5 360.4L1342.1 360.2L1341.7 362.6L1339.3 362.3L1338.9 364.7L1336.5 364.4L1336 366.8L1332.9 365.3L1333.1 368.7L1330.8 368.3L1330.2 370.7L1327.7 370ZM1384.2 308.2L1384.3 306L1387 306.1L1386.6 303.5L1388.7 303.1L1388.9 300.9L1391.1 300.7L1391.2 298.4L1394 298.7L1393.6 295.9L1396.4 296.3L1395.9 293.5L1398.1 293.2L1398.2 291L1400.9 291.2L1400.6 288.5L1403.2 288.7L1402.9 286.1L1405.2 285.9L1405.2 283.6L1407.7 283.6L1407.5 281.1L1409.9 281L1409.8 278.6L1412.3 278.6L1417.6 283.6L1415.5 283.9L1415.3 286.1L1413 286.2L1413 288.6L1410.3 288.4L1410.7 291L1407.9 290.7L1408.4 293.5L1405.6 293.3L1406 296L1403.2 295.7L1403.7 298.5L1401 298.3L1401.4 301L1398.4 300.5L1399 303.4L1396.2 303.1L1396.7 305.9L1394.3 305.9L1394.4 308.4L1392.2 308.6L1392.1 310.8L1389.8 311L1389.9 313.3ZM1439.8 246.2L1442.7 246.5L1442.1 243.7L1445 244L1444.4 241.2L1447 241.2L1446.7 238.6L1448.9 238.3L1449 236.1L1451.1 235.8L1451.3 233.6L1453.6 233.5L1453.5 231.1L1456 231.1L1455.8 228.6L1458.5 228.7L1458.1 226.1L1460.6 226.1L1460.4 223.6L1462.4 223.1L1462.6 221L1465 220.8L1464.9 218.5L1467 218.1L1467.2 216L1472.5 220.7L1472.8 223.3L1470.6 223.6L1470.5 225.8L1467.7 225.5L1468.3 228.4L1466.1 228.7L1466 230.9L1463.8 231.3L1463.7 233.4L1460.8 233.1L1461.4 235.9L1458.5 235.6L1459.1 238.5L1456.8 238.7L1456.8 241L1454.7 241.4L1454.5 243.5L1452.1 243.6L1452.2 246L1449.4 245.8L1449.9 248.5L1447.8 248.9L1447.6 251L1445.4 251.3ZM1494.5 187.9L1494.4 185.6L1496.7 185.3L1496.7 183L1499.4 183.2L1498.9 180.5L1501.2 180.2L1501.2 178L1503.8 178.1L1503.5 175.5L1506.2 175.6L1505.8 172.9L1507.9 172.6L1508.1 170.4L1510.3 170.2L1510.3 167.9L1513.3 168.2L1512.6 165.4L1514.7 164.9L1514.9 162.8L1517.7 163L1517.2 160.3L1519.8 160.4L1525 165.2L1522.2 164.9L1522.8 167.7L1520.5 167.9L1520.5 170.2L1517.8 170.1L1518.2 172.7L1515.5 172.5L1515.9 175.2L1513.6 175.4L1513.6 177.7L1511.5 178.1L1511.4 180.3L1508.8 180.2L1509.1 182.8L1506.7 182.9L1506.8 185.3L1504.8 185.7L1504.6 187.8L1502.2 188L1502.3 190.4L1499.9 190.5L1500 192.9ZM1544.8 130.3L1547.4 130.4L1547 127.8L1549.1 127.3L1549.3 125.3L1551.3 124.8L1551.5 122.7L1553.6 122.3L1553.7 120.1L1556 119.8L1555.9 117.6L1558.6 117.6L1558.1 115L1560.2 114.5L1560.3 112.4L1562.7 112.2L1562.5 109.8L1564.7 109.4L1564.7 107.2L1566.8 106.8L1566.9 104.6L1569.5 104.6L1569 102L1574.8 106.8L1574.9 109.1L1572.2 109L1572.7 111.7L1570.3 111.9L1570.5 114.3L1568.2 114.6L1568.3 116.9L1565.6 116.9L1566.1 119.5L1564.1 120.1L1563.9 122.1L1561.6 122.4L1561.7 124.7L1559.3 125L1559.5 127.3L1557.3 127.7L1557.2 129.9L1555 130.3L1555 132.5L1552.5 132.6L1552.7 135.1L1550.3 135.2ZM1595.2 72.9L1594.7 70.4L1596.9 69.9L1596.9 67.8L1598.7 67.1L1599 65.1L1601.1 64.6L1601.1 62.4L1603.2 62L1603.2 59.8L1605.7 59.6L1605.3 57.1L1607.3 56.6L1607.4 54.4L1610 54.3L1609.5 51.8L1611.8 51.4L1611.5 49.1L1614.2 49L1613.6 46.4L1615.9 46L1615.7 43.7L1617.7 43.1L1617.8 41L1623.7 45.6L1623.8 47.8L1621.8 48.4L1621.7 50.5L1619.2 50.7L1619.7 53.2L1617.6 53.8L1617.6 55.9L1615.2 56.2L1615.5 58.6L1612.8 58.7L1613.4 61.3L1611.5 62L1611.3 64L1609.1 64.4L1609.2 66.7L1607.2 67.3L1607.1 69.3L1604.4 69.4L1604.9 72L1602.7 72.4L1602.8 74.7L1600.3 74.9L1600.7 77.3Z"/><path id="r8" d="M1123.1 680.1L1123.9 678.5L1124 676.8L1125 675.3L1124.9 673.5L1126 672.1L1125.8 670.3L1126.6 668.7L1126.7 667L1127.6 665.5L1127.6 663.7L1128.5 662.2L1128.5 660.4L1129.5 658.9L1137 661L1136 662.5L1136.1 664.2L1135.2 665.8L1135.2 667.5L1134.1 669L1134.3 670.8L1133.2 672.3L1133.4 674.1L1132.3 675.6L1132.5 677.4L1131.3 678.9L1131.5 680.7L1130.5 682.2ZM1136.4 630.9L1137.3 629.3L1137.2 627.6L1138.2 626.1L1138 624.3L1138.9 622.7L1138.9 621L1139.9 619.5L1139.8 617.7L1140.7 616.2L1140.7 614.4L1141.7 612.9L1141.6 611.1L1142.6 609.6L1142.6 607.8L1143.9 606.5L1143.7 604.6L1145.1 603.2L1144.8 601.3L1146.1 600L1146 598.1L1153.4 600.9L1153.3 602.6L1152 603.9L1152.2 605.7L1151.1 607.1L1151.1 608.8L1150.2 610.3L1150.1 612L1148.9 613.3L1149.1 615.1L1148 616.5L1148.2 618.3L1147.2 619.7L1147.3 621.5L1146.4 622.9L1146.5 624.7L1145.7 626.2L1145.7 628L1144.7 629.5L1144.8 631.3L1143.9 632.8ZM1158.3 569.9L1160.3 568.9L1159.8 566.8L1161.5 565.7L1161.3 563.7L1162.9 562.6L1162.8 560.7L1164.5 559.7L1164.3 557.6L1166.3 556.7L1165.8 554.6L1167.3 553.5L1167.4 551.6L1169.2 550.6L1168.9 548.5L1170.8 547.6L1170.4 545.5L1172.4 544.6L1171.9 542.5L1173.2 541.2L1173.4 539.4L1175.4 538.5L1174.9 536.4L1176.3 535.1L1183.4 538.6L1181.5 539.6L1181.9 541.7L1180.3 542.8L1180.4 544.7L1178.9 545.9L1178.9 547.8L1176.9 548.7L1177.4 550.9L1175.8 552L1175.8 553.9L1174.4 555.1L1174.3 556.9L1172.9 558.1L1172.8 560L1171.2 561.1L1171.3 563L1169.7 564.2L1169.8 566.1L1167.8 567L1168.3 569.1L1166.9 570.3L1166.8 572.1L1165.2 573.2ZM1190.3 507.9L1189.9 505.8L1191.4 504.7L1191.4 502.8L1193.4 501.8L1192.9 499.7L1194.3 498.5L1194.4 496.7L1196.3 495.7L1196 493.6L1197.9 492.7L1197.6 490.6L1199.1 489.5L1199.2 487.6L1200.7 486.4L1200.8 484.6L1202.8 483.7L1202.4 481.6L1204.3 480.7L1204.1 478.6L1205.7 477.5L1205.7 475.6L1207.4 474.5L1207.4 472.6L1213.9 476.4L1214.1 478.4L1212 479.1L1212.5 481.3L1211 482.4L1210.9 484.3L1208.9 485.1L1209.2 487.2L1207.4 488.2L1207.6 490.2L1205.8 491.1L1206 493.2L1204.6 494.3L1204.5 496.1L1202.6 497L1202.9 499.1L1200.9 500L1201.4 502.1L1199.9 503.2L1199.8 505.1L1198.4 506.3L1198.3 508.1L1196.8 509.2L1196.9 511.1ZM1231.2 441.1L1231 438.8L1233.2 438.4L1233.1 436.2L1235.1 435.6L1235.1 433.4L1237.2 432.8L1237.3 430.7L1239.5 430.3L1239.5 428L1242.2 428.1L1241.7 425.4L1244.3 425.3L1244 422.8L1246.4 422.6L1246.4 420.2L1248.8 420.2L1248.8 417.7L1251.7 418.2L1251.2 415.2L1254.2 415.9L1253.7 412.8L1256.5 413.4L1256.2 410.4L1260.9 415.6L1261.2 418.3L1258.5 417.9L1258.8 420.6L1256.6 420.7L1256.5 422.9L1253.8 422.6L1254.1 425.3L1251.6 425.2L1251.9 427.7L1249 427.3L1249.6 430.1L1247.4 430.3L1247.4 432.6L1244.8 432.5L1245.3 435.1L1243 435.4L1243.2 437.6L1241.2 438.1L1241.2 440.2L1238.9 440.6L1239.1 442.9L1236.9 443.4L1237.1 445.6ZM1289 385.3L1291.8 386.4L1291.9 383.4L1295 385L1294.7 381.5L1297 381.9L1297.6 379.6L1300.1 380.4L1300.5 377.7L1303.1 378.7L1303.4 375.9L1306.1 377.1L1306.3 374.1L1309.2 375.6L1309.3 372.4L1312.1 373.9L1312.2 370.6L1315.1 372.1L1315.1 368.9L1317.9 370.3L1318 367.1L1320.8 368.5L1320.9 365.4L1323.6 366.6L1323.7 363.6L1327.7 370L1327.3 372.5L1325 372.1L1324.4 374.4L1321.7 373.2L1321.4 376.1L1318.8 375.1L1318.5 377.9L1315.9 376.8L1315.6 379.6L1312.7 378.2L1312.7 381.4L1309.9 380.1L1309.8 383.1L1307.2 382.2L1306.9 384.8L1304.1 383.4L1304.1 386.6L1301.2 385.1L1301.3 388.4L1298.3 386.9L1298.5 390.3L1295.7 389.1L1295.7 392.2L1293.3 391.7ZM1354.6 338.5L1357.3 338.8L1356.9 336.1L1359.2 336L1359.2 333.7L1362.2 334.1L1361.5 331.2L1364.4 331.5L1363.8 328.7L1366.5 328.9L1366.1 326.2L1368.3 326L1368.4 323.7L1371 323.8L1370.7 321.2L1372.9 321L1372.9 318.7L1374.9 318.2L1375.2 316.1L1377.6 316L1377.5 313.6L1379.7 313.3L1379.7 311.1L1382.3 311.1L1382 308.5L1384.2 308.2L1389.9 313.3L1387.5 313.4L1387.6 315.9L1385 315.8L1385.4 318.4L1382.6 318.2L1383.1 320.9L1380.5 320.8L1380.8 323.5L1378.5 323.6L1378.6 326L1375.7 325.7L1376.3 328.5L1373.9 328.7L1374 331.1L1371.4 331L1371.7 333.6L1368.8 333.2L1369.4 336.1L1366.8 336.1L1367 338.7L1364.2 338.4L1364.7 341.2L1362.5 341.5L1362.3 343.7L1359.4 343.3ZM1412.3 278.6L1412.2 276.1L1414.6 276.1L1414.5 273.6L1417.1 273.8L1416.8 271.2L1419.7 271.6L1419.1 268.7L1421.6 268.7L1421.4 266.2L1423.8 266.1L1423.7 263.7L1425.8 263.3L1426 261.2L1428.8 261.5L1428.3 258.7L1431.1 258.9L1430.6 256.2L1433 256L1432.9 253.7L1435.1 253.4L1435.2 251.2L1437.5 251L1437.5 248.7L1439.8 248.5L1439.8 246.2L1445.4 251.3L1445.3 253.6L1442.4 253.2L1443 256.1L1440.7 256.3L1440.7 258.6L1438.3 258.6L1438.4 261.1L1436 261.2L1436.1 263.6L1433.7 263.6L1433.8 266.1L1431.1 265.9L1431.5 268.6L1428.6 268.2L1429.2 271.1L1427.1 271.5L1426.9 273.6L1424.7 273.8L1424.6 276.1L1421.9 275.9L1422.3 278.6L1419.5 278.3L1420 281.1L1417.6 281.2L1417.6 283.6ZM1467.2 216L1469.6 215.9L1469.5 213.4L1472.1 213.5L1471.7 210.9L1474.4 211.1L1474 208.4L1476.5 208.3L1476.3 205.9L1478.9 205.9L1478.5 203.3L1481.3 203.5L1480.8 200.8L1483.2 200.7L1483.1 198.3L1485.1 197.8L1485.3 195.7L1487.6 195.4L1487.6 193.2L1490.3 193.3L1489.9 190.6L1492.5 190.7L1492.1 188.1L1494.5 187.9L1500 192.9L1497.7 193.1L1497.8 195.4L1495 195.2L1495.5 198L1492.6 197.7L1493.2 200.5L1491 200.8L1491 203L1488.7 203.3L1488.7 205.6L1486.6 206L1486.4 208.1L1483.5 207.8L1484.2 210.6L1481.7 210.8L1481.9 213.2L1479.4 213.3L1479.6 215.7L1477.4 216L1477.3 218.2L1475.3 218.7L1475.1 220.8L1472.5 220.7ZM1519.8 160.4L1519.5 157.8L1521.9 157.6L1521.8 155.3L1524.7 155.6L1524.1 152.8L1526.3 152.5L1526.5 150.3L1528.6 150L1528.8 147.8L1531.4 147.9L1531.1 145.3L1533.2 145L1533.4 142.8L1536.2 143.1L1535.7 140.4L1537.8 140L1538 137.9L1540.6 137.9L1540.3 135.4L1542.7 135.3L1542.6 132.9L1545.4 133.2L1544.8 130.3L1550.3 135.2L1550.4 137.6L1548.3 138L1548.2 140.2L1545.5 140.1L1545.9 142.7L1543.5 142.9L1543.5 145.3L1540.9 145.2L1541.2 147.8L1538.9 147.9L1538.9 150.3L1536 149.9L1536.6 152.8L1533.8 152.5L1534.3 155.3L1532.2 155.7L1532 157.7L1529.6 157.9L1529.6 160.2L1527 160.1L1527.3 162.7L1525 162.9L1525 165.2ZM1569 102L1571 101.4L1571.2 99.4L1573.4 99L1573.4 96.8L1576.1 96.8L1575.5 94.2L1578.2 94.2L1577.7 91.5L1580.4 91.5L1579.8 88.9L1582 88.5L1582 86.3L1584.2 85.9L1584.1 83.6L1586.8 83.6L1586.3 81L1588.3 80.5L1588.4 78.4L1590.7 78L1590.5 75.7L1593.2 75.7L1592.6 73.1L1595.2 72.9L1600.7 77.3L1598 77.3L1598.6 80L1595.8 80L1596.5 82.7L1594.2 83.1L1594.3 85.3L1592.3 85.9L1592.2 88L1589.6 88.1L1590 90.6L1587.7 90.9L1587.9 93.3L1585.6 93.6L1585.7 95.9L1583.4 96.2L1583.6 98.6L1580.9 98.6L1581.4 101.2L1578.9 101.3L1579.2 103.8L1576.5 103.8L1577 106.4L1574.8 106.8ZM1617.8 41L1619.9 40.5L1619.8 38.3L1622 37.9L1621.9 35.6L1624 35.1L1624 32.9L1625.5 33.1L1631.6 37.7L1629.9 37.5L1630 39.7L1627.8 40.1L1628 42.4L1626.1 43.1L1625.9 45.1L1623.7 45.6Z"/>
<path id="g9" d="M1091.5 785.3L1092.4 783.8L1092.3 782L1093.2 780.5L1093.1 778.7L1094.1 777.2L1094 775.4L1095 773.9L1094.8 772.1L1095.6 770.6L1095.6 768.8L1096.4 767.2L1096.4 765.5L1097.4 764L1097.3 762.2L1098 760.6L1098.1 758.9L1098.9 757.4L1098.9 755.6L1099.8 754.1L1099.7 752.3L1100.7 750.8L1100.6 749L1101.5 747.5L1101.4 745.7L1102.2 744.2L1102.2 742.4L1103 740.9L1103 739.1L1103.7 737.5L1103.8 735.8L1104.7 734.3L1104.6 732.5L1105.3 730.9L1105.4 729.2L1106.2 727.6L1106.2 725.9L1106.9 724.3L1107 722.6L1107.8 721L1107.8 719.3L1108.6 717.7L1108.7 716L1109.4 714.4L1109.5 712.7L1110.5 711.2L1110.3 709.4L1111.3 707.9L1111.2 706.1L1112.1 704.6L1112 702.8L1112.9 701.3L1112.9 699.5L1114 698L1113.8 696.2L1114.6 694.7L1114.7 693L1115.7 691.5L1115.6 689.7L1116.5 688.1L1116.5 686.4L1117.7 684.9L1117.5 683.1L1118.4 681.6L1125.9 683.8L1125.1 685.3L1125 687L1123.9 688.5L1124.1 690.3L1123 691.7L1123.2 693.5L1122.2 695L1122.3 696.8L1121.3 698.3L1121.4 700.1L1120.3 701.5L1120.5 703.3L1119.5 704.8L1119.6 706.6L1118.8 708.1L1118.8 709.8L1118 711.4L1117.9 713.1L1117.1 714.6L1117.1 716.4L1116.3 717.9L1116.3 719.6L1115.4 721.2L1115.5 722.9L1114.7 724.5L1114.7 726.2L1113.6 727.7L1113.8 729.5L1113.1 731.1L1113 732.8L1112.3 734.4L1112.2 736.1L1111.4 737.6L1111.4 739.4L1110.6 740.9L1110.6 742.7L1109.9 744.3L1109.8 746L1108.9 747.6L1109 749.3L1108.1 750.9L1108.2 752.7L1107.2 754.2L1107.4 756L1106.4 757.5L1106.5 759.3L1105.8 760.8L1105.7 762.6L1104.8 764.1L1104.9 765.9L1104 767.4L1104.1 769.2L1103.3 770.7L1103.2 772.5L1102.4 774L1102.4 775.8L1101.6 777.3L1101.6 779.1L1100.7 780.6L1100.8 782.4L1100 783.9L1099.9 785.7L1099.1 787.2ZM1125.8 655.4L1125.8 653.7L1126.8 652.2L1126.7 650.4L1127.5 648.9L1127.6 647.1L1128.4 645.6L1128.4 643.8L1129.4 642.3L1129.3 640.6L1130.2 639L1130.2 637.3L1131.2 635.8L1131.1 634L1132 632.5L1131.9 630.7L1133 629.2L1132.8 627.4L1140.4 629.4L1140.4 631.2L1139.6 632.7L1139.5 634.5L1138.5 636L1138.7 637.8L1137.6 639.2L1137.8 641L1136.7 642.5L1136.9 644.3L1136 645.9L1136 647.6L1135.2 649.2L1135.1 650.9L1134.2 652.5L1134.2 654.2L1133.2 655.7L1133.3 657.5ZM1140.5 597.8L1141.5 596.3L1141.4 594.5L1142.6 593L1142.4 591.2L1143.7 589.8L1143.5 588L1144.7 586.6L1144.5 584.7L1145.9 583.4L1145.6 581.5L1147 580.1L1146.8 578.2L1148.1 576.9L1148 575L1149.7 573.9L1149.3 571.9L1150.6 570.5L1157.8 573.5L1156.3 574.7L1156.6 576.6L1155.4 578L1155.3 579.7L1153.9 580.9L1154.2 582.8L1153 584.1L1153 585.9L1151.8 587.2L1152 589L1150.9 590.4L1150.9 592.1L1149.8 593.5L1149.9 595.3L1148.9 596.7L1149 598.5L1147.9 599.8ZM1166.4 536.6L1166 534.5L1167.8 533.5L1167.4 531.4L1169.1 530.3L1168.8 528.3L1170.7 527.3L1170.3 525.3L1171.9 524.1L1171.7 522.2L1173.4 521.1L1173.1 519.1L1174.5 517.9L1174.5 516L1176 514.8L1175.9 512.9L1177.7 511.9L1177.3 509.8L1178.6 508.5L1178.7 506.7L1185.7 509.8L1185.8 511.8L1184.3 513L1184.4 514.9L1182.9 516L1183 518L1181.2 519L1181.6 521.1L1180.3 522.3L1180.2 524.2L1178.7 525.4L1178.8 527.3L1177.5 528.6L1177.3 530.4L1175.5 531.4L1175.9 533.5L1174.6 534.8L1174.5 536.6L1172.9 537.7L1173 539.7ZM1194 472.6L1195.5 471.4L1195.5 469.5L1197.1 468.4L1196.9 466.4L1198.6 465.3L1198.4 463.3L1200.3 462.3L1199.9 460.2L1201.3 459L1201.4 457.2L1202.9 456L1202.9 454.1L1204.9 453.2L1204.4 451.1L1206.1 450L1206 448L1207.8 447L1207.6 445L1209.1 443.8L1209.2 441.9L1211.1 441L1217.7 444.7L1216.1 445.7L1216 447.6L1214 448.4L1214.5 450.5L1212.9 451.6L1212.9 453.5L1211.5 454.6L1211.4 456.5L1209.5 457.4L1209.9 459.5L1208.4 460.6L1208.4 462.5L1206.4 463.4L1206.9 465.5L1205.5 466.7L1205.4 468.6L1203.7 469.6L1204 471.6L1202.4 472.7L1202.5 474.6L1201 475.8ZM1229.8 410.4L1231.8 409.7L1231.8 407.6L1233.9 407L1233.7 404.8L1236 404.3L1235.7 402L1237.5 401.2L1237.7 399.2L1240.2 398.9L1239.8 396.4L1242 396L1241.9 393.7L1244.2 393.3L1244.1 391L1246.8 391.1L1246.3 388.3L1248.9 388.3L1248.5 385.7L1250.6 385.3L1250.8 383.1L1253.3 383.1L1253.1 380.6L1255.3 380.2L1255.4 378L1260.5 382.8L1260.9 385.5L1258 385.1L1258.7 387.9L1256.3 388L1256.4 390.4L1254.3 390.7L1254.3 392.9L1252.1 393.2L1252.1 395.4L1249.4 395.4L1250 398L1247.5 398.1L1247.9 400.6L1245.9 401.1L1245.9 403.2L1243.8 403.7L1243.9 405.8L1241.9 406.4L1242 408.5L1239.9 409.1L1240 411.3L1238.2 412.1L1238.1 414.1L1236.3 414.9ZM1286 353L1286.1 350.4L1289.1 351.4L1288.7 348.2L1291.2 348.6L1291.4 346.1L1294.5 347.3L1294.1 344L1296.6 344.5L1296.7 341.8L1299.4 342.4L1299.5 339.7L1302.4 340.8L1302.2 337.6L1304.9 338.4L1305 335.6L1307.6 336.3L1307.7 333.6L1310 333.9L1310.5 331.6L1313.3 332.5L1313.3 329.6L1316.3 330.8L1320.1 336.2L1317.2 335.1L1317.4 338.2L1314.4 337L1314.6 340.2L1312.2 339.8L1311.9 342.1L1309.3 341.5L1309.2 344.1L1306.5 343.4L1306.5 346.1L1303.9 345.5L1303.8 348.2L1300.7 346.9L1301.2 350.2L1298.1 349L1298.5 352.3L1295.9 351.7L1295.9 354.4L1292.7 353.2L1293.2 356.5L1290.3 355.6L1290.6 358.7ZM1344.7 304.5L1346.8 304.3L1347.1 302.2L1349.3 302.1L1349.4 299.8L1351.7 299.6L1351.8 297.4L1354.1 297.3L1354.1 295L1357 295.4L1356.3 292.5L1358.4 292.1L1358.6 290L1361.1 290L1360.8 287.5L1363 287.2L1363 284.9L1364.9 284.3L1365.1 282.3L1367.5 282.1L1367.3 279.7L1369.4 279.2L1369.4 277.1L1371.4 276.5L1377.5 281.4L1375.3 281.8L1375.3 284.1L1373.3 284.7L1373.2 286.7L1371.2 287.3L1371 289.4L1368.7 289.8L1368.8 292L1366.1 292.1L1366.5 294.7L1364 294.8L1364.2 297.3L1361.3 297L1361.9 299.9L1359.3 299.8L1359.6 302.4L1356.6 302L1357.2 304.9L1354.9 305.1L1354.8 307.4L1351.7 306.9L1352.3 309.9L1349.5 309.5ZM1397.2 244.9L1396.7 242.4L1399.1 242.1L1398.9 239.7L1400.9 239.1L1401 237.1L1403.5 236.9L1403.2 234.4L1405.8 234.4L1405.3 231.8L1407.7 231.5L1407.5 229.2L1410.2 229.2L1409.6 226.5L1411.6 226L1411.8 223.9L1414.4 223.8L1413.9 221.2L1416.2 220.9L1416 218.6L1418 218L1418.2 216L1421 216L1420.3 213.3L1426.3 218.1L1426.2 220.3L1423.6 220.3L1424.1 222.9L1422 223.5L1422 225.6L1419.3 225.7L1419.8 228.2L1417.3 228.4L1417.7 230.9L1415.7 231.5L1415.5 233.5L1413.6 234.1L1413.4 236.1L1410.9 236.3L1411.2 238.8L1408.5 238.7L1409.1 241.4L1407 241.9L1406.9 244.1L1404.5 244.3L1404.8 246.7L1402.3 246.8L1402.7 249.3ZM1446.2 184L1446.1 181.7L1448.9 181.7L1448.3 179L1450.3 178.5L1450.4 176.4L1453.1 176.4L1452.6 173.8L1455.2 173.7L1454.8 171.2L1456.9 170.7L1456.9 168.5L1458.9 167.9L1459.1 165.9L1461.2 165.5L1461.3 163.3L1464.1 163.4L1463.5 160.7L1465.5 160.1L1465.7 158.1L1468.2 158L1467.9 155.5L1470.1 155.1L1470.1 152.9L1476.1 158L1475.9 160L1473.9 160.6L1473.7 162.6L1471.3 162.9L1471.5 165.2L1469.1 165.4L1469.3 167.8L1466.9 168L1467.1 170.4L1464.5 170.5L1464.9 173L1462.3 173L1462.8 175.6L1460.3 175.8L1460.6 178.2L1458.1 178.4L1458.4 180.8L1456.2 181.1L1456.3 183.4L1454.3 184L1454.1 186.1L1451.4 186L1452 188.7ZM1494.2 124.4L1496.5 124L1496.4 121.8L1498.5 121.3L1498.5 119.2L1500.5 118.6L1500.7 116.5L1503.4 116.6L1502.8 113.9L1505.5 113.9L1504.9 111.2L1506.9 110.7L1507 108.6L1509.1 108.1L1509.1 105.9L1511.8 105.9L1511.2 103.3L1513.6 102.9L1513.3 100.6L1515.7 100.3L1515.4 97.9L1517.4 97.3L1517.5 95.2L1520.1 95.1L1525.6 99.4L1523.6 100L1523.5 102.1L1521.4 102.6L1521.4 104.8L1519.4 105.3L1519.3 107.5L1516.9 107.7L1517.2 110.1L1514.6 110.2L1515.1 112.8L1512.4 112.8L1513 115.5L1510.4 115.6L1510.9 118.2L1508.1 118.1L1508.7 120.8L1506.2 121L1506.6 123.5L1504.1 123.7L1504.4 126.2L1502.4 126.7L1502.3 128.8L1500 129.2ZM1543 65.6L1542.5 63L1544.5 62.4L1544.6 60.3L1547.3 60.3L1546.7 57.6L1548.8 57.1L1548.8 55L1550.7 54.3L1550.9 52.3L1552.9 51.7L1553 49.6L1555.2 49.2L1555.1 46.9L1557.2 46.4L1557.1 44.2L1559.7 44.1L1559.2 41.6L1561.6 41.2L1561.3 38.9L1563.7 38.5L1563.4 36.2L1565.6 35.8L1565.5 33.5L1571 37.8L1571.5 40.3L1569.1 40.6L1569.4 43L1567.4 43.6L1567.3 45.7L1564.8 45.9L1565.3 48.4L1563.3 49L1563.2 51.1L1560.8 51.4L1561.1 53.8L1559.1 54.4L1559 56.4L1557 57L1556.9 59.1L1554.2 59.2L1554.8 61.8L1552.9 62.5L1552.7 64.5L1550.7 65.1L1550.6 67.2L1548.2 67.4L1548.5 69.8Z"/><path id="r9" d="M1118.4 681.6L1118.4 679.8L1119.5 678.4L1119.3 676.6L1120.5 675.2L1120.3 673.3L1121.3 671.8L1121.2 670L1122.2 668.6L1122.1 666.8L1123.1 665.3L1123 663.5L1124 662L1124 660.2L1125 658.8L1124.9 657L1125.8 655.4L1133.3 657.5L1132.3 659L1132.4 660.8L1131.6 662.4L1131.5 664.1L1130.6 665.6L1130.6 667.4L1129.4 668.8L1129.7 670.7L1128.6 672.1L1128.8 673.9L1127.7 675.4L1127.8 677.2L1126.7 678.7L1126.9 680.5L1126.1 682L1125.9 683.8ZM1132.8 627.4L1133.6 625.9L1133.7 624.1L1134.6 622.6L1134.5 620.8L1135.4 619.3L1135.4 617.5L1136.2 616L1136.2 614.3L1137 612.7L1137.1 611L1137.8 609.4L1137.9 607.7L1138.7 606.1L1138.8 604.4L1139.8 602.9L1139.6 601.1L1140.5 599.5L1140.5 597.8L1147.9 599.8L1148.1 601.6L1147.3 603.1L1147.2 604.8L1146.3 606.3L1146.4 608.1L1145.5 609.6L1145.5 611.3L1144.6 612.9L1144.7 614.7L1143.7 616.2L1143.9 618L1142.8 619.5L1143 621.3L1142.2 622.8L1142.1 624.6L1141.1 626.1L1141.3 627.9L1140.4 629.4ZM1150.6 570.5L1150.6 568.7L1152 567.4L1151.9 565.5L1153.6 564.4L1153.3 562.4L1154.7 561.1L1154.6 559.3L1155.9 558L1156 556.2L1157.4 554.9L1157.4 553L1158.7 551.7L1158.8 549.9L1160.2 548.7L1160.2 546.8L1162 545.8L1161.6 543.7L1163.3 542.6L1163.1 540.6L1164.4 539.4L1164.5 537.5L1166.4 536.6L1173 539.7L1171.6 540.9L1171.6 542.8L1169.9 543.9L1170.1 545.8L1168.6 547L1168.7 548.9L1167 549.9L1167.3 551.9L1165.7 553.1L1165.9 555L1164.5 556.2L1164.5 558.1L1163.1 559.3L1163.1 561.2L1161.7 562.4L1161.8 564.2L1160.3 565.4L1160.4 567.3L1159 568.5L1159.1 570.4L1157.6 571.6L1157.8 573.5ZM1178.7 506.7L1180 505.4L1180.1 503.6L1181.7 502.4L1181.5 500.5L1183.1 499.3L1182.9 497.4L1184.3 496.2L1184.2 494.3L1186 493.2L1185.6 491.2L1187.4 490.1L1187 488.1L1188.4 486.8L1188.4 485L1189.9 483.8L1189.8 481.9L1191.4 480.7L1191.2 478.8L1192.5 477.5L1192.6 475.7L1194.3 474.6L1194 472.6L1201 475.8L1201.1 477.7L1199.5 478.8L1199.7 480.8L1197.9 481.8L1198.3 483.8L1197 485.1L1196.9 486.9L1195.3 488.1L1195.5 490L1194 491.2L1194.2 493.1L1192.5 494.3L1192.8 496.2L1191.2 497.4L1191.4 499.4L1189.7 500.5L1190 502.5L1188.1 503.5L1188.6 505.5L1187.3 506.8L1187.2 508.6L1185.7 509.8ZM1211.1 441L1210.9 438.9L1213 438.2L1212.7 435.9L1214.4 435L1214.4 433L1216.9 432.5L1216.3 430.1L1218.1 429.2L1218.2 427.2L1220.1 426.4L1220.1 424.3L1221.8 423.5L1222 421.5L1223.9 420.7L1224 418.7L1226.3 418.3L1225.9 415.9L1227.8 415.2L1227.9 413.2L1229.9 412.5L1229.8 410.4L1236.3 414.9L1236.1 416.9L1234.3 417.6L1234.2 419.7L1232 420.2L1232.2 422.4L1230.1 423L1230.3 425.2L1227.8 425.5L1228.3 427.9L1226 428.4L1226.4 430.7L1224.1 431.2L1224.6 433.5L1222.4 434L1222.8 436.2L1220.9 437L1221 439.1L1219.1 439.8L1219.3 441.9L1217.4 442.7L1217.7 444.7ZM1255.4 378L1258 378L1257.8 375.5L1260.9 376.1L1260.3 373.1L1262.5 372.9L1262.7 370.6L1265 370.5L1265.2 368.3L1267.7 368.4L1267.8 365.9L1270 365.8L1270.3 363.6L1273.1 364.1L1272.9 361.3L1275.6 361.9L1275.5 359.1L1278.2 359.7L1278.1 356.9L1281 357.6L1280.8 354.7L1283.1 354.8L1283.4 352.5L1286 353L1290.6 358.7L1287.6 357.7L1288 360.8L1284.8 359.6L1285.4 362.9L1282.5 362.1L1282.8 365.1L1280.2 364.6L1280.2 367.2L1278 367.2L1277.7 369.4L1274.7 368.5L1275.2 371.6L1272.2 370.8L1272.7 373.9L1270.5 373.9L1270.3 376.1L1267.4 375.4L1267.9 378.4L1265.2 378L1265.5 380.7L1263.3 380.9L1263.2 383.1L1260.5 382.8ZM1316.3 330.8L1316 327.6L1318.5 328.1L1318.8 325.6L1321.3 326.2L1321.5 323.6L1324.1 324.3L1324.2 321.6L1327 322.6L1326.9 319.6L1329.2 319.9L1329.5 317.6L1332.4 318.5L1332.2 315.5L1334.9 316.3L1334.7 313.4L1337.3 313.8L1337.3 311.2L1339.7 311.4L1339.8 309L1342.5 309.5L1342.3 306.8L1344.5 306.8L1344.7 304.5L1349.5 309.5L1349.8 312.3L1347.1 312L1347.2 314.7L1344.7 314.5L1344.7 317.1L1341.9 316.6L1342 319.4L1339.8 319.4L1339.3 321.6L1336.8 321.3L1336.6 323.8L1333.7 322.9L1333.9 326L1331.5 325.6L1331.2 328.1L1328.6 327.5L1328.4 330.1L1325.4 329L1325.7 332.2L1323.1 331.6L1322.9 334.2L1320.4 333.7L1320.1 336.2ZM1371.4 276.5L1371.5 274.5L1374.2 274.4L1373.6 271.8L1375.7 271.3L1375.7 269.2L1377.6 268.5L1377.8 266.5L1380.5 266.4L1379.9 263.8L1382.3 263.5L1382 261.1L1384.2 260.6L1384.1 258.4L1386.2 257.9L1386.2 255.8L1388.2 255.1L1388.3 253.1L1390.2 252.4L1390.4 250.4L1393.1 250.3L1392.5 247.7L1394.7 247.3L1394.6 245L1397.2 244.9L1402.7 249.3L1400.7 249.9L1400.6 252L1398.4 252.4L1398.5 254.6L1396.5 255.2L1396.4 257.3L1394 257.5L1394.3 259.9L1392.4 260.6L1392.2 262.6L1390.3 263.3L1390.1 265.3L1388.2 265.9L1388 268L1385.4 268.1L1385.9 270.7L1383.9 271.2L1383.8 273.3L1381.3 273.6L1381.7 276L1379.5 276.4L1379.6 278.7L1377.7 279.4L1377.5 281.4ZM1420.3 213.3L1423 213.3L1422.5 210.7L1424.6 210.3L1424.6 208L1426.5 207.4L1426.7 205.4L1428.8 204.9L1428.9 202.8L1431.2 202.5L1431 200.1L1433.7 200.1L1433.2 197.5L1435.3 197L1435.3 194.8L1437.7 194.6L1437.5 192.2L1439.4 191.6L1439.6 189.6L1442.1 189.4L1441.8 186.9L1444.2 186.7L1443.9 184.3L1446.2 184L1452 188.7L1449.6 188.9L1449.8 191.3L1447.9 191.9L1447.7 193.9L1444.9 193.8L1445.5 196.6L1443.5 197.1L1443.4 199.2L1440.6 199.2L1441.2 201.8L1439 202.2L1439.1 204.5L1436.4 204.5L1436.9 207.1L1434.4 207.2L1434.8 209.7L1432.5 210.1L1432.7 212.4L1430.3 212.7L1430.5 215L1428.3 215.4L1428.4 217.7L1426.3 218.1ZM1470.1 152.9L1472.5 152.7L1472.3 150.3L1474.7 150.1L1474.5 147.7L1477.1 147.7L1476.7 145.1L1479.5 145.3L1478.9 142.6L1481.3 142.4L1481.1 140L1483.9 140.1L1483.3 137.4L1486 137.4L1485.5 134.8L1488.1 134.8L1487.7 132.2L1490.2 132.1L1489.9 129.6L1491.9 129L1492.1 127L1494.5 126.8L1494.2 124.4L1500 129.2L1500.1 131.4L1497.4 131.5L1497.9 134.1L1495.1 134L1495.7 136.7L1493.5 137L1493.5 139.3L1491.3 139.7L1491.3 141.9L1489.1 142.3L1489.1 144.5L1486.7 144.7L1486.9 147.1L1484.1 146.9L1484.7 149.7L1482.6 150.1L1482.5 152.3L1480.3 152.6L1480.3 154.9L1478 155.2L1478.1 157.5L1476.1 158ZM1520.1 95.1L1519.6 92.6L1521.6 92L1521.7 89.9L1523.8 89.4L1523.8 87.2L1525.8 86.6L1525.8 84.5L1528.1 84.1L1527.9 81.8L1530 81.3L1530 79.1L1532.1 78.6L1532.1 76.5L1534.3 76.1L1534.2 73.8L1536.2 73.2L1536.2 71.1L1538.4 70.6L1538.3 68.4L1540.5 67.9L1540.4 65.7L1543 65.6L1548.5 69.8L1546.2 70.2L1546.4 72.5L1543.8 72.6L1544.4 75.2L1541.9 75.4L1542.3 77.9L1539.6 78L1540.2 80.6L1538 81L1538.1 83.3L1535.7 83.5L1536 86L1533.8 86.4L1534 88.7L1531.6 89L1531.9 91.3L1529.9 92L1529.8 94L1527.9 94.7L1527.7 96.7L1525 96.8L1525.6 99.4ZM1565.5 33.5L1567.6 33.2L1573.5 37.7L1571 37.8Z"/>
</defs>
<g fill="#fff" fill-opacity="0.55"><use href="#g1"/><use href="#r1"/><use href="#g2"/><use href="#r2"/><use href="#g3"/><use href="#r3"/><use href="#g4"/><use href="#r4"/><use href="#g5"/><use href="#r5"/><use href="#g6"/><use href="#r6"/><use href="#g7"/><use href="#r7"/><use href="#g8"/><use href="#r8"/><use href="#g9"/><use href="#r9"/></g>
<use href="#g1" fill="#00f05f" fill-opacity="0.1"/>
<use href="#r1" fill="#fb0606" fill-opacity="0.1"/>
<use href="#g2" fill="#00f05f" fill-opacity="0.2"/>
<use href="#r2" fill="#fb0606" fill-opacity="0.2"/>
<use href="#g3" fill="#00f05f" fill-opacity="0.3"/>
<use href="#r3" fill="#fb0606" fill-opacity="0.3"/>
<use href="#g4" fill="#00f05f" fill-opacity="0.4"/>
<use href="#r4" fill="#fb0606" fill-opacity="0.4"/>
<use href="#g5" fill="#00f05f" fill-opacity="0.5"/>
<use href="#r5" fill="#fb0606" fill-opacity="0.5"/>
<use href="#g6" fill="#00f05f" fill-opacity="0.6"/>
<use href="#r6" fill="#fb0606" fill-opacity="0.6"/>
<use href="#g7" fill="#00f05f" fill-opacity="0.7"/>
<use href="#r7" fill="#fb0606" fill-opacity="0.7"/>
<use href="#g8" fill="#00f05f" fill-opacity="0.8"/>
<use href="#r8" fill="#fb0606" fill-opacity="0.8"/>
<use href="#g9" fill="#00f05f" fill-opacity="0.9"/>
<use href="#r9" fill="#fb0606" fill-opacity="0.9"/>
<path d="M155 786.3L161 785.5L166.9 784.7L172.9 783.9L178.8 783.1L184.8 782.4L190.7 781.6L196.7 780.8L202.6 780L208.6 779.3L214.5 778.5L220.5 777.7L226.4 777L232.4 776.2L238.3 775.4L244.3 774.7L250.2 773.9L256.2 773.2L262.1 772.4L268.1 771.7L274.1 770.9L280 770.2L286 769.5L291.9 768.7L297.9 768L303.8 767.3L309.8 766.5L315.7 765.8L321.7 765.1L327.7 764.4L333.6 763.7L339.6 763L345.5 762.3L351.5 761.6L357.5 760.9L363.4 760.2L369.4 759.5L375.3 758.8L381.3 758.2L387.3 757.5L393.2 756.8L399.2 756.1L405.1 755.5L411.1 754.8L417.1 754.1L423 753.5L429 752.8L435 752.1L440.9 751.5L446.9 750.8L452.8 750.2L458.8 749.5L464.8 748.9L470.7 748.2L476.7 747.6L482.7 746.9L488.6 746.3L494.6 745.6L500.6 745L506.5 744.3L512.5 743.7L518.5 743.1L524.4 742.4L530.4 741.8L536.4 741.1L542.3 740.5L548.3 739.8L554.3 739.2L560.2 738.5L566.2 737.9L572.2 737.3L578.1 736.6L584.1 736L590 735.3L596 734.7L602 734L607.9 733.3L613.9 732.7L619.9 732L625.8 731.4L631.8 730.7L637.8 730.1L643.7 729.4L649.7 728.8L655.7 728.1L661.6 727.5L667.6 726.8L673.5 726.1L679.5 725.5L685.5 724.8L691.4 724.2L697.4 723.5L703.4 722.9L709.3 722.2L715.3 721.6L721.3 720.9L727.2 720.3L733.2 719.6L739.2 719L745.1 718.4L751.1 717.7L757.1 717.1L763 716.4L769 715.8L775 715.2L780.9 714.5L786.9 713.9L792.9 713.3L798.8 712.7L804.8 712L810.8 711.4L816.7 710.8L822.7 710.2L828.7 709.6L834.6 709L840.6 708.3L846.6 707.7L852.5 707.1L858.5 706.5L864.5 705.9L870.4 705.3L876.4 704.7L882.4 704.1L888.3 703.4L894.3 702.8L900.3 702.2L906.3 701.6L912.2 701L918.2 700.4L924.2 699.8L930.1 699.2L936.1 698.6L942.1 698L948 697.4L954 696.8L960 696.3L966 695.7L971.9 695.1L977.9 694.5L983.9 694L989.8 693.4L995.8 692.9L1001.8 692.3L1007.8 691.8L1013.7 691.2L1019.7 690.7L1025.7 690.2L1031.7 689.7L1037.7 689.2L1043.6 688.7L1049.6 688.2L1055.6 687.6L1061.6 687.1L1067.6 686.6L1073.5 686.2L1079.5 685.7L1085.5 685.2L1091.5 684.8L1097.5 684.3L1103.4 683.9L1109.4 683.5L1115.4 683.2L1121.4 682.8L1127.4 682.5L1133.4 682.2L1139.4 681.9L1145.4 681.6L1151.4 681.3L1157.4 681.1L1163.4 680.8L1169.4 680.6L1175.4 680.5L1181.3 680.3L1187.3 680.2L1193.3 680L1199.3 679.9L1205.3 679.8L1211.3 679.6L1217.3 679.5L1223.3 679.4L1229.3 679.3L1235.3 679.2L1241.3 679.1L1247.3 679L1253.3 679L1259.3 678.9L1265.3 678.8L1271.3 678.7L1277.3 678.7L1283.3 678.6L1289.3 678.5L1295.3 678.5L1301.3 678.4L1307.3 678.3L1313.3 678.3L1319.3 678.2L1325.3 678.2L1331.3 678.1L1337.3 678.1L1343.3 678L1349.3 678L1355.3 677.9L1361.3 677.9L1367.3 677.9L1373.3 677.8L1379.3 677.8L1385.3 677.7L1391.3 677.7L1397.3 677.7L1403.3 677.6L1409.3 677.6L1415.3 677.6L1421.3 677.5L1427.3 677.5L1433.3 677.5L1439.3 677.4L1445.3 677.4L1451.3 677.3L1457.3 677.3L1463.3 677.2L1469.3 677.2L1475.3 677.1L1481.3 677.1L1487.3 677L1493.3 676.9L1499.3 676.9L1505.3 676.8L1511.3 676.7L1517.3 676.7L1523.3 676.6L1529.3 676.5L1535.3 676.5L1541.3 676.4L1547.3 676.3L1553.3 676.2L1559.3 676.2L1565.3 676.1L1571.3 676L1577.3 675.9L1583.3 675.9L1589.3 675.8L1595.3 675.7L1601.3 675.7L1607.3 675.6L1613.3 675.6L1619.3 675.5L1625.3 675.4L1631.3 675.4L1637.3 675.3L1643.3 675.3L1649.3 675.2L1655.3 675.2L1661.3 675.1L1667.3 675.1L1673.3 675L1679.3 674.9L1685.3 674.9L1691.3 674.8L1697.3 674.7L1703.3 674.6L1709.3 674.6L1715.3 674.5L1721.3 674.4L1727.3 674.3L1733.3 674.2L1739.3 674.1L1745.3 673.9L1751.3 673.8L1757.3 673.6L1763.3 673.4L1769.3 673.1L1775.3 672.9L1781.3 672.6L1787.3 672.3L1793.3 672L1799.3 671.7L1805.3 671.4L1811.2 671L1817.2 670.7L1823.2 670.3L1829.2 670L1829.4 670" stroke="#3200f5" stroke-width="8.4" stroke-linejoin="round"/>
<path d="M1088.2 785.3L1089.2 783.8L1089 782L1089.8 780.5L1089.8 778.7L1090.8 777.2L1090.6 775.4L1091.6 773.9L1091.4 772.1L1092.3 770.6L1092.2 768.8L1093 767.2L1093 765.5L1093.9 764L1093.8 762.2L1094.7 760.7L1094.6 758.9L1095.6 757.4L1095.4 755.6L1096.4 754.1L1096.3 752.3L1097 750.7L1097.1 749L1097.8 747.4L1097.9 745.7L1098.7 744.1L1098.7 742.4L1099.6 740.9L1099.5 739.1L1100.3 737.5L1100.3 735.8L1101 734.2L1101.1 732.5L1101.8 730.9L1101.9 729.2L1102.6 727.6L1102.6 725.9L1103.3 724.3L1103.4 722.5L1104.1 721L1104.2 719.2L1105.1 717.7L1105 715.9L1105.9 714.4L1105.8 712.6L1106.7 711.1L1106.6 709.3L1107.4 707.8L1107.4 706L1108.3 704.5L1108.2 702.7L1109 701.2L1109 699.4L1109.8 697.8L1109.8 696.1L1110.5 694.5L1110.6 692.8L1111.5 691.2L1111.4 689.5L1112.4 688L1112.3 686.2L1113.3 684.7L1113.2 682.9L1114 681.4L1121.6 683.4L1120.6 684.9L1120.8 686.7L1119.8 688.2L1119.9 689.9L1118.8 691.4L1119.1 693.2L1118.1 694.7L1118.2 696.5L1117.4 698L1117.4 699.7L1116.7 701.3L1116.6 703L1115.8 704.6L1115.8 706.3L1115 707.8L1115 709.6L1114.3 711.2L1114.2 712.9L1113.3 714.4L1113.4 716.2L1112.6 717.7L1112.6 719.5L1111.9 721.1L1111.9 722.8L1110.9 724.3L1111.1 726.1L1110.3 727.7L1110.3 729.4L1109.4 731L1109.5 732.7L1108.8 734.3L1108.7 736L1107.9 737.6L1107.9 739.4L1107 740.9L1107.1 742.7L1106.3 744.2L1106.3 746L1105.6 747.6L1105.5 749.3L1104.6 750.8L1104.7 752.6L1103.9 754.2L1103.9 755.9L1103 757.4L1103.1 759.2L1102.1 760.7L1102.3 762.5L1101.4 764L1101.5 765.8L1100.7 767.4L1100.7 769.1L1099.9 770.7L1099.9 772.4L1098.9 773.9L1099.1 775.7L1098.4 777.3L1098.2 779L1097.5 780.6L1097.4 782.3L1096.5 783.9L1096.6 785.6L1095.7 787.2ZM1122.6 652L1122.4 650.2L1123.2 648.6L1123.3 646.9L1124.3 645.4L1124.2 643.6L1125.1 642.1L1125.1 640.3L1126 638.8L1126 637.1L1127.1 635.6L1126.9 633.8L1127.8 632.3L1127.7 630.5L1128.8 629L1128.6 627.2L1129.5 625.7L1129.5 623.9L1137.2 626L1137.1 627.7L1136.3 629.2L1136.2 631L1135.3 632.5L1135.3 634.3L1134.4 635.8L1134.5 637.6L1133.7 639.1L1133.6 640.9L1132.6 642.4L1132.7 644.2L1131.7 645.7L1131.8 647.5L1130.6 648.9L1130.8 650.8L1129.8 652.3L1129.9 654.1ZM1136.4 597.6L1137.3 596.1L1137.2 594.3L1138 592.8L1138 591L1139 589.5L1138.9 587.7L1139.8 586.2L1139.7 584.4L1140.7 582.9L1140.6 581.1L1141.5 579.6L1141.5 577.8L1142.5 576.3L1142.4 574.5L1143.5 573.1L1143.5 571.3L1144.7 569.9L1152 572.3L1150.6 573.6L1150.9 575.4L1150 576.9L1150 578.5L1149.1 580L1149.1 581.7L1148 583.1L1148.2 584.9L1147.2 586.4L1147.3 588.2L1146.6 589.7L1146.5 591.4L1145.6 592.9L1145.7 594.7L1144.7 596.2L1144.8 598L1144.1 599.6ZM1156.9 536.2L1158.5 535.1L1158.3 533.1L1160 532L1159.6 529.9L1161.1 528.7L1161 526.8L1162.3 525.5L1162.4 523.7L1164.2 522.6L1163.8 520.6L1165.1 519.3L1165.1 517.5L1166.7 516.3L1166.5 514.4L1168.2 513.3L1167.9 511.3L1169.7 510.2L1169.3 508.2L1170.8 507L1177.8 510L1176.3 511.2L1176.4 513.2L1175 514.4L1175 516.3L1173.4 517.5L1173.7 519.4L1172 520.6L1172.3 522.5L1170.5 523.6L1170.9 525.6L1169.5 526.9L1169.5 528.7L1168.1 530L1168.1 531.8L1166.7 533L1166.8 534.9L1165.2 536.1L1165.5 538L1163.9 539.1ZM1185.2 472.5L1185 470.6L1186.6 469.4L1186.3 467.5L1187.7 466.2L1187.6 464.3L1189.1 463.1L1188.9 461.2L1190.4 460L1190.2 458L1191.5 456.7L1191.5 454.9L1192.7 453.5L1192.8 451.7L1194.6 450.6L1194.2 448.6L1195.4 447.3L1195.5 445.5L1197 444.2L1196.9 442.3L1198.5 441.2L1205.4 444.3L1204.1 445.5L1204 447.4L1202.6 448.6L1202.7 450.4L1201 451.5L1201.4 453.5L1199.7 454.6L1200 456.6L1198.5 457.8L1198.7 459.7L1197.2 460.9L1197.4 462.8L1195.8 464L1196.2 466L1194.5 467.1L1194.9 469.1L1193.7 470.5L1193.6 472.3L1192.3 473.6L1192.3 475.4ZM1213.6 410.6L1213.2 408.4L1214.7 407.3L1214.9 405.4L1216.6 404.4L1216.7 402.4L1219 401.9L1218.5 399.5L1220.3 398.6L1220.3 396.6L1222.5 396L1222.1 393.7L1224.1 393L1224 390.9L1226.2 390.3L1225.9 388L1227.9 387.3L1227.7 385.2L1229.9 384.6L1229.6 382.4L1231.5 381.6L1231.4 379.5L1237.9 383.6L1237.9 385.7L1236.1 386.6L1236.1 388.6L1234.1 389.4L1234.2 391.5L1231.8 392L1232.3 394.3L1230.5 395.2L1230.5 397.1L1228.7 398L1228.6 400L1226.6 400.7L1226.8 402.8L1224.9 403.5L1225 405.6L1223 406.3L1223.3 408.4L1221.2 409.1L1221.6 411.3L1220 412.2L1219.9 414.1ZM1253.6 348.9L1256.2 348.8L1255.8 346.3L1258.5 346.4L1258 343.6L1260.4 343.4L1260.3 341.1L1262.8 341L1262.7 338.5L1264.9 338.3L1265 336L1267.6 336.1L1267.4 333.5L1270.3 334L1269.8 331.1L1272 330.9L1272.2 328.7L1274.9 329L1274.6 326.2L1277.7 326.9L1277.1 323.9L1280 324.4L1279.6 321.5L1284.3 326.4L1284.7 329.3L1281.7 328.6L1282.3 331.6L1279.5 331.2L1279.8 334L1277 333.5L1277.5 336.3L1275.3 336.5L1275.1 338.7L1272.3 338.4L1272.8 341.1L1270.5 341.2L1270.5 343.5L1267.7 343.3L1268.2 346L1266.1 346.3L1265.9 348.4L1263.3 348.3L1263.7 350.9L1261.1 350.8L1261.5 353.4L1259.5 353.9ZM1307.5 299L1307.2 296L1309.6 296.1L1309.8 293.8L1312.8 294.7L1312.4 291.6L1314.8 291.7L1315.1 289.4L1318.2 290.5L1317.7 287.2L1320 287.4L1320.2 285.1L1322.8 285.5L1322.8 282.9L1325.1 283L1325.3 280.7L1327.7 280.8L1327.8 278.4L1330 278.3L1330.3 276.2L1332.4 276L1332.7 273.9L1335.1 273.9L1340.3 279.2L1337.9 279.2L1337.9 281.7L1335.3 281.5L1335.3 284.1L1332.4 283.5L1332.8 286.4L1329.7 285.6L1330.2 288.7L1327.3 288L1327.6 291L1324.8 290.4L1324.9 293.2L1322.6 293.1L1322.3 295.4L1320 295.4L1319.7 297.6L1316.6 296.6L1317.1 299.8L1314.3 299L1314.5 302L1311.4 300.9L1312 304.1ZM1358.8 245.4L1358.5 243.1L1360.8 242.7L1360.5 240.4L1363 240.1L1362.5 237.6L1364.5 236.9L1364.5 234.9L1366.4 234.1L1366.5 232.1L1369.1 231.9L1368.5 229.4L1371.1 229.2L1370.5 226.6L1372.8 226.1L1372.5 223.9L1375.1 223.7L1374.6 221.1L1376.6 220.5L1376.6 218.4L1378.5 217.7L1378.6 215.6L1384.8 220.3L1384.8 222.4L1382.4 222.7L1382.7 225.1L1380.9 225.8L1380.7 227.8L1378.5 228.2L1378.7 230.5L1376.8 231.2L1376.7 233.2L1374.7 233.9L1374.7 236L1372.1 236.2L1372.7 238.7L1370.8 239.5L1370.7 241.5L1368.2 241.8L1368.7 244.2L1366.6 244.8L1366.7 247L1364.4 247.4L1364.7 249.8ZM1403.2 185.2L1402.7 182.8L1405.2 182.5L1404.7 180L1407.1 179.6L1406.7 177.3L1408.9 176.8L1408.8 174.5L1411.2 174.2L1410.8 171.8L1412.9 171.2L1412.9 169.1L1414.9 168.4L1414.9 166.3L1417.4 166.1L1417 163.6L1419.5 163.4L1419.1 160.9L1421.8 160.9L1421.2 158.2L1423.4 157.8L1423.3 155.5L1425.6 155.2L1431.4 159.8L1428.9 160L1429.3 162.4L1427 162.8L1427.2 165.1L1425.3 165.8L1425.1 167.8L1423.2 168.4L1423 170.4L1420.7 170.8L1421 173.1L1418.6 173.4L1419 175.8L1416.4 176L1416.9 178.5L1414.8 179L1414.9 181.2L1412.3 181.4L1412.9 183.9L1410.5 184.3L1410.9 186.6L1408.9 187.3L1408.9 189.4ZM1448.8 123.7L1451.2 123.5L1450.9 121L1453.1 120.6L1452.9 118.4L1455.1 117.9L1455 115.7L1457.2 115.2L1457 113L1459.5 112.7L1459.1 110.3L1461.2 109.7L1461.1 107.6L1463.3 107L1463.2 104.8L1465.6 104.6L1465.2 102.1L1467.6 101.8L1467.2 99.4L1469.4 98.9L1469.2 96.7L1471.5 96.3L1471.2 93.9L1473.6 93.6L1479.4 97.8L1477.1 98.3L1477.4 100.6L1474.9 100.8L1475.4 103.3L1473.5 104.1L1473.4 106.1L1471.2 106.6L1471.3 108.8L1468.8 109L1469.3 111.5L1466.7 111.8L1467.2 114.3L1465 114.7L1465.2 117L1462.9 117.4L1463.1 119.7L1460.6 120L1461.1 122.4L1458.7 122.8L1459 125.2L1456.5 125.4L1456.9 127.9L1454.3 128ZM1495.4 63.2L1495.3 61L1497.3 60.3L1497.3 58.3L1499.9 58L1499.4 55.5L1501.6 55L1501.4 52.8L1503.6 52.3L1503.4 50L1505.7 49.6L1505.4 47.3L1507.5 46.7L1507.4 44.6L1509.9 44.3L1509.4 41.8L1511.9 41.5L1511.5 39.1L1513.6 38.6L1513.5 36.4L1515.9 36L1515.5 33.6L1517.8 33.4L1523.6 37.6L1521.7 38.2L1521.7 40.3L1519.8 41L1519.6 43L1517.1 43.3L1517.6 45.7L1515.8 46.5L1515.6 48.5L1513.2 48.8L1513.6 51.2L1511.6 51.9L1511.6 54L1509.5 54.5L1509.6 56.7L1507.1 57L1507.5 59.4L1505 59.7L1505.5 62.2L1503.4 62.7L1503.5 64.9L1501.3 65.4L1501.5 67.6Z" fill="#00f05f"/>
<path d="M155 786.3L157 786L159 785.8L161 785.5L163 785.2L165 785L166.9 784.7L168.9 784.5L170.9 784.2L172.9 783.9L174.9 783.7L176.9 783.4L178.8 783.1L180.8 782.9L182.8 782.6L184.8 782.4L186.8 782.1L188.8 781.8L190.7 781.6L192.7 781.3L194.7 781.1L196.7 780.8L198.7 780.5L200.7 780.3L202.6 780L204.6 779.8L206.6 779.5L208.6 779.3L210.6 779L212.6 778.7L214.5 778.5L216.5 778.2L218.5 778L220.5 777.7L222.5 777.5L224.5 777.2L226.4 777L228.4 776.7L230.4 776.4L232.4 776.2L234.4 775.9L236.4 775.7L238.3 775.4L240.3 775.2L242.3 774.9L244.3 774.7L246.3 774.4L248.3 774.2L250.2 773.9L252.2 773.7L254.2 773.4L256.2 773.2L258.2 772.9L260.2 772.7L262.2 772.4L264.1 772.2L266.1 771.9L268.1 771.7L270.1 771.4L272.1 771.2L274.1 770.9L276 770.7L278 770.4L280 770.2L282 769.9L284 769.7L286 769.5L288 769.2L289.9 769L291.9 768.7L293.9 768.5L295.9 768.2L297.9 768L299.9 767.8L301.8 767.5L303.8 767.3L305.8 767L307.8 766.8L309.8 766.5L311.8 766.3L313.8 766.1L315.7 765.8L317.7 765.6L319.7 765.4L321.7 765.1L323.7 764.9L325.7 764.6L327.7 764.4L329.6 764.2L331.6 763.9L333.6 763.7L335.6 763.5L337.6 763.2L339.6 763L341.6 762.8L343.6 762.5L345.5 762.3L347.5 762.1L349.5 761.8L351.5 761.6L353.5 761.4L355.5 761.1L357.5 760.9L359.4 760.7L361.4 760.4L363.4 760.2L365.4 760L367.4 759.7L369.4 759.5L371.4 759.3L373.3 759.1L375.3 758.8L377.3 758.6L379.3 758.4L381.3 758.2L383.3 757.9L385.3 757.7L387.3 757.5L389.2 757.3L391.2 757L393.2 756.8L395.2 756.6L397.2 756.4L399.2 756.1L401.2 755.9L403.2 755.7L405.1 755.5L407.1 755.2L409.1 755L411.1 754.8L413.1 754.6L415.1 754.3L417.1 754.1L419.1 753.9L421 753.7L423 753.5L425 753.2L427 753L429 752.8L431 752.6L433 752.4L435 752.1L437 751.9L438.9 751.7L440.9 751.5L442.9 751.3L444.9 751.1L446.9 750.8L448.9 750.6L450.9 750.4L452.9 750.2L454.8 750L456.8 749.7L458.8 749.5L460.8 749.3L462.8 749.1L464.8 748.9L466.8 748.7L468.8 748.4L470.7 748.2L472.7 748L474.7 747.8L476.7 747.6L478.7 747.4L480.7 747.1L482.7 746.9L484.7 746.7L486.7 746.5L488.6 746.3L490.6 746.1L492.6 745.9L494.6 745.6L496.6 745.4L498.6 745.2L500.6 745L502.6 744.8L504.5 744.6L506.5 744.3L508.5 744.1L510.5 743.9L512.5 743.7L514.5 743.5L516.5 743.3L518.5 743.1L520.5 742.8L522.4 742.6L524.4 742.4L526.4 742.2L528.4 742L530.4 741.8L532.4 741.6L534.4 741.3L536.4 741.1L538.4 740.9L540.3 740.7L542.3 740.5L544.3 740.3L546.3 740.1L548.3 739.8L550.3 739.6L552.3 739.4L554.3 739.2L556.2 739L558.2 738.8L560.2 738.5L562.2 738.3L564.2 738.1L566.2 737.9L568.2 737.7L570.2 737.5L572.2 737.3L574.1 737L576.1 736.8L578.1 736.6L580.1 736.4L582.1 736.2L584.1 736L586.1 735.7L588.1 735.5L590.1 735.3L592 735.1L594 734.9L596 734.7L598 734.4L600 734.2L602 734L604 733.8L606 733.6L607.9 733.3L609.9 733.1L611.9 732.9L613.9 732.7L615.9 732.5L617.9 732.3L619.9 732L621.9 731.8L623.8 731.6L625.8 731.4L627.8 731.2L629.8 730.9L631.8 730.7L633.8 730.5L635.8 730.3L637.8 730.1L639.8 729.9L641.7 729.6L643.7 729.4L645.7 729.2L647.7 729L649.7 728.8L651.7 728.5L653.7 728.3L655.7 728.1L657.6 727.9L659.6 727.7L661.6 727.5L663.6 727.2L665.6 727L667.6 726.8L669.6 726.6L671.6 726.4L673.5 726.1L675.5 725.9L677.5 725.7L679.5 725.5L681.5 725.3L683.5 725.1L685.5 724.8L687.5 724.6L689.5 724.4L691.4 724.2L693.4 724L695.4 723.8L697.4 723.5L699.4 723.3L701.4 723.1L703.4 722.9L705.4 722.7L707.3 722.4L709.3 722.2L711.3 722L713.3 721.8L715.3 721.6L717.3 721.4L719.3 721.2L721.3 720.9L723.3 720.7L725.2 720.5L727.2 720.3L729.2 720.1L731.2 719.9L733.2 719.6L735.2 719.4L737.2 719.2L739.2 719L741.1 718.8L743.1 718.6L745.1 718.4L747.1 718.1L749.1 717.9L751.1 717.7L753.1 717.5L755.1 717.3L757.1 717.1L759 716.9L761 716.6L763 716.4L765 716.2L767 716L769 715.8L771 715.6L773 715.4L775 715.2L776.9 715L778.9 714.7L780.9 714.5L782.9 714.3L784.9 714.1L786.9 713.9L788.9 713.7L790.9 713.5L792.9 713.3L794.8 713.1L796.8 712.9L798.8 712.7L800.8 712.4L802.8 712.2L804.8 712L806.8 711.8L808.8 711.6L810.8 711.4L812.7 711.2L814.7 711L816.7 710.8L818.7 710.6L820.7 710.4L822.7 710.2L824.7 710L826.7 709.8L828.7 709.6L830.7 709.4L832.6 709.2L834.6 708.9L836.6 708.7L838.6 708.5L840.6 708.3L842.6 708.1L844.6 707.9L846.6 707.7L848.6 707.5L850.5 707.3L852.5 707.1L854.5 706.9L856.5 706.7L858.5 706.5L860.5 706.3L862.5 706.1L864.5 705.9L866.5 705.7L868.5 705.5L870.4 705.3L872.4 705.1L874.4 704.9L876.4 704.7L878.4 704.5L880.4 704.3L882.4 704.1L884.4 703.8L886.4 703.6L888.4 703.4L890.3 703.2L892.3 703L894.3 702.8L896.3 702.6L898.3 702.4L900.3 702.2L902.3 702L904.3 701.8L906.3 701.6L908.2 701.4L910.2 701.2L912.2 701L914.2 700.8L916.2 700.6L918.2 700.4L920.2 700.2L922.2 700L924.2 699.8L926.2 699.6L928.1 699.4L930.1 699.2L932.1 699L934.1 698.8L936.1 698.6L938.1 698.4L940.1 698.2L942.1 698L944.1 697.8L946.1 697.6L948 697.4L950 697.2L952 697L954 696.8L956 696.7L958 696.5L960 696.3L962 696.1L964 695.9L966 695.7L968 695.5L969.9 695.3L971.9 695.1L973.9 694.9L975.9 694.7L977.9 694.5L979.9 694.4L981.9 694.2L983.9 694L985.9 693.8L987.9 693.6L989.9 693.4L991.8 693.2L993.8 693.1L995.8 692.9L997.8 692.7L999.8 692.5L1001.8 692.3L1003.8 692.1L1005.8 692L1007.8 691.8L1009.8 691.6L1011.8 691.4L1013.8 691.2L1015.7 691.1L1017.7 690.9L1019.7 690.7L1021.7 690.5L1023.7 690.4L1025.7 690.2L1027.7 690L1029.7 689.8L1031.7 689.7L1033.7 689.5L1035.7 689.3L1037.7 689.2L1039.7 689L1041.7 688.8L1043.6 688.7L1045.6 688.5L1047.6 688.3L1049.6 688.2L1051.6 688L1053.6 687.8L1055.6 687.6L1057.6 687.5L1059.6 687.3L1061.6 687.1L1063.6 687L1065.6 686.8L1067.6 686.6L1069.6 686.5L1071.5 686.3L1073.5 686.2L1075.5 686L1077.5 685.8L1079.5 685.7L1081.5 685.5L1083.5 685.4L1085.5 685.2L1087.5 685.1L1089.5 684.9L1091.5 684.8L1093.5 684.6L1095.5 684.5L1097.5 684.3L1099.5 684.2L1101.5 684L1103.5 683.9L1105.5 683.8L1107.4 683.7L1109.4 683.5L1111.4 683.4L1113.4 683.3L1115.4 683.2L1117.4 683L1119.4 682.9" stroke="#fb0606" stroke-width="8.3" stroke-dasharray="32.35 32.35"/>
<path d="M1114 681.4L1114.1 679.6L1114.9 678.1L1115 676.3L1115.8 674.8L1115.9 673.1L1116.7 671.5L1116.8 669.8L1117.7 668.3L1117.7 666.5L1118.8 665L1118.6 663.2L1119.8 661.8L1119.6 660L1120.7 658.5L1120.5 656.7L1121.4 655.2L1121.4 653.4L1122.6 652L1129.9 654.1L1129 655.6L1129 657.3L1128 658.8L1128.1 660.6L1126.9 662L1127.1 663.9L1126.3 665.4L1126.2 667.1L1125.1 668.6L1125.3 670.4L1124.2 671.9L1124.3 673.7L1123.2 675.1L1123.4 676.9L1122.5 678.4L1122.5 680.2L1121.6 681.7L1121.6 683.4ZM1129.5 623.9L1130.3 622.4L1130.4 620.6L1131.3 619.1L1131.2 617.3L1132.1 615.8L1132.1 614.1L1132.9 612.5L1132.9 610.8L1133.9 609.3L1133.8 607.5L1134.7 606L1134.7 604.2L1135.7 602.7L1135.5 600.9L1136.6 599.4L1136.4 597.6L1144.1 599.6L1144 601.3L1143.2 602.9L1143.1 604.6L1142.1 606.2L1142.3 608L1141.4 609.5L1141.4 611.2L1140.5 612.7L1140.5 614.5L1139.5 616L1139.7 617.8L1138.8 619.3L1138.8 621.1L1137.7 622.6L1138 624.4L1137.2 626ZM1144.7 569.9L1144.5 568L1145.7 566.6L1145.7 564.8L1146.9 563.4L1146.8 561.6L1148.1 560.2L1148 558.4L1149.6 557.1L1149.2 555.2L1150.7 553.9L1150.5 552L1152.1 550.8L1151.8 548.8L1153.4 547.7L1153.1 545.7L1154.5 544.4L1154.4 542.5L1156 541.4L1155.6 539.4L1157.3 538.2L1156.9 536.2L1163.9 539.1L1164.2 541.1L1162.9 542.4L1162.9 544.2L1161.4 545.5L1161.6 547.4L1160.4 548.7L1160.3 550.5L1158.9 551.7L1159 553.6L1157.6 554.9L1157.7 556.7L1156.2 557.9L1156.5 559.8L1155.2 561.1L1155.3 562.9L1153.8 564.1L1154.2 566L1152.7 567.3L1153 569.2L1151.9 570.5L1152 572.3ZM1170.8 507L1170.6 505.1L1171.9 503.8L1171.9 502L1173.4 500.7L1173.3 498.8L1174.9 497.7L1174.6 495.7L1175.8 494.4L1175.9 492.6L1177.5 491.4L1177.2 489.4L1178.7 488.2L1178.5 486.3L1179.7 485L1179.8 483.2L1181 481.8L1181.1 480L1182.4 478.7L1182.4 476.9L1183.9 475.7L1183.7 473.7L1185.2 472.5L1192.3 475.4L1191.1 476.8L1190.9 478.6L1189.7 479.9L1189.6 481.7L1188.3 483L1188.3 484.9L1187.1 486.2L1187 488L1185.3 489.1L1185.7 491.1L1184.1 492.3L1184.4 494.3L1182.7 495.4L1183.1 497.4L1181.5 498.6L1181.8 500.6L1180.2 501.7L1180.5 503.7L1179.2 505.1L1179.1 506.9L1177.6 508.1L1177.8 510ZM1198.5 441.2L1198.3 439.2L1199.7 438L1199.7 436.1L1201.4 435L1201.1 433L1202.8 431.9L1202.5 429.9L1203.9 428.7L1203.9 426.8L1205.6 425.7L1205.4 423.7L1206.8 422.5L1206.8 420.6L1208.6 419.6L1208.4 417.5L1210.3 416.6L1209.9 414.5L1211.9 413.5L1211.5 411.4L1213.6 410.6L1219.9 414.1L1217.9 414.9L1218.4 417L1216.7 418L1216.8 419.9L1214.9 420.8L1215.3 422.9L1213.6 423.9L1213.9 425.9L1212.2 426.9L1212.4 428.9L1210.8 430L1211 432L1209.2 433L1209.6 435L1208.2 436.3L1208.2 438.1L1206.4 439.1L1206.8 441.2L1205.1 442.3L1205.4 444.3ZM1231.4 379.5L1233.4 378.8L1233.3 376.7L1235.5 376.1L1235.1 373.8L1237 373L1237 370.9L1239.4 370.4L1239 368L1240.9 367.3L1241 365.2L1242.8 364.5L1243 362.5L1245 361.9L1245 359.7L1247.6 359.5L1247.1 357L1249.1 356.4L1249.2 354.3L1251.9 354.2L1251.4 351.6L1253.9 351.4L1253.6 348.9L1259.5 353.9L1259.4 355.9L1257.2 356.3L1257.3 358.5L1255 358.9L1255.2 361.1L1252.8 361.4L1253.2 363.8L1251.1 364.3L1251.1 366.4L1248.6 366.6L1249.1 369.1L1247.3 369.8L1247.2 371.8L1245.3 372.5L1245.3 374.5L1243.5 375.3L1243.4 377.2L1241.3 377.8L1241.6 380L1239.9 380.9L1239.8 382.8L1237.9 383.6ZM1279.6 321.5L1282.1 321.6L1282.1 319.1L1284.4 319.1L1284.6 316.8L1287.4 317.4L1287 314.5L1289.6 314.7L1289.5 312.2L1292.1 312.4L1292.1 309.9L1295 310.5L1294.6 307.5L1297.1 307.8L1297 305.2L1299.9 305.8L1299.5 302.9L1302.5 303.6L1302.1 300.6L1304.6 300.9L1304.6 298.3L1307.5 299L1312 304.1L1309.7 304.1L1309.5 306.3L1306.5 305.5L1307 308.5L1304.5 308.3L1304.5 310.8L1301.9 310.5L1302 313.2L1299.4 312.8L1299.5 315.5L1297.4 315.6L1297 317.8L1294.5 317.6L1294.5 320.1L1291.7 319.5L1292.1 322.4L1289.2 321.8L1289.6 324.7L1286.9 324.2L1287.1 327L1284.3 326.4ZM1335.1 273.9L1335.1 271.5L1337.5 271.6L1337.4 269.2L1340.3 269.6L1339.6 266.7L1342.4 267L1341.8 264.2L1344.1 264L1344 261.7L1346 261.2L1346.2 259.1L1348.5 258.8L1348.3 256.5L1350.3 256L1350.4 253.9L1352.6 253.5L1352.4 251.2L1354.8 250.9L1354.5 248.5L1356.7 248.1L1356.5 245.8L1358.8 245.4L1364.7 249.8L1362.6 250.4L1362.6 252.5L1360.6 253.1L1360.6 255.3L1358.5 255.9L1358.5 258L1355.8 258.1L1356.4 260.7L1354.4 261.3L1354.2 263.4L1352.3 264.1L1352 266.1L1349.9 266.6L1349.8 268.8L1347.6 269.2L1347.5 271.5L1344.7 271.3L1345.2 274.1L1343.1 274.5L1342.8 276.7L1340 276.4L1340.3 279.2ZM1378.6 215.6L1380.9 215.2L1380.7 212.9L1383.1 212.7L1382.7 210.2L1385.1 209.9L1384.7 207.5L1387.2 207.2L1386.7 204.8L1389.1 204.4L1388.7 202L1390.6 201.3L1390.7 199.3L1392.6 198.6L1392.7 196.5L1395 196.1L1394.7 193.8L1397.3 193.5L1396.7 191L1398.9 190.5L1398.7 188.3L1401.3 188.1L1400.7 185.5L1403.2 185.2L1408.9 189.4L1406.6 189.8L1406.9 192.1L1405 192.9L1404.9 194.9L1403 195.6L1402.9 197.6L1400.8 198.2L1400.9 200.4L1398.3 200.6L1398.9 203.1L1396.5 203.5L1396.9 205.9L1394.9 206.5L1394.9 208.6L1392.5 209L1392.9 211.4L1390.5 211.7L1390.9 214.1L1388.3 214.4L1388.8 216.9L1386.3 217.1L1386.8 219.6L1384.8 220.3ZM1425.6 155.2L1425.4 152.9L1427.4 152.3L1427.5 150.2L1429.9 149.9L1429.7 147.6L1431.6 146.9L1431.8 144.9L1434.3 144.7L1433.9 142.3L1435.9 141.6L1436.1 139.6L1438.2 139.1L1438.2 137L1440.9 136.9L1440.3 134.3L1442.6 134L1442.5 131.7L1445 131.5L1444.6 129L1447.2 128.9L1446.7 126.4L1449.1 126.1L1448.8 123.7L1454.3 128L1454.8 130.6L1452.5 130.9L1452.7 133.3L1450.3 133.5L1450.5 135.9L1448 136.1L1448.4 138.6L1446.3 139.1L1446.3 141.3L1444.2 141.8L1444.1 143.9L1441.7 144.1L1442 146.6L1439.6 146.8L1439.9 149.2L1437.6 149.5L1437.7 151.9L1435 151.8L1435.6 154.5L1433.2 154.8L1433.5 157.1L1431 157.3L1431.4 159.8ZM1473.6 93.6L1473.3 91.2L1475.6 90.8L1475.3 88.5L1477.2 87.8L1477.3 85.7L1479.3 85.1L1479.3 83L1481.9 82.8L1481.3 80.2L1483.5 79.7L1483.3 77.5L1485.6 77L1485.3 74.7L1487.8 74.5L1487.3 72L1489.3 71.4L1489.3 69.2L1491.5 68.8L1491.3 66.5L1493.2 65.7L1493.3 63.7L1495.4 63.2L1501.5 67.6L1499 67.9L1499.5 70.4L1497.1 70.7L1497.5 73.1L1494.9 73.4L1495.5 75.9L1493.4 76.4L1493.5 78.6L1490.9 78.8L1491.5 81.4L1489.4 81.9L1489.5 84.1L1487.4 84.7L1487.5 86.9L1485.3 87.4L1485.5 89.6L1483.4 90.2L1483.5 92.3L1481.3 92.9L1481.4 95.1L1479.1 95.5L1479.4 97.8ZM1517.8 33.4L1523.6 37.6Z" fill="#fb0606"/>
<path d="M133.5 169.2H1829.4" stroke="#000" stroke-width="8.3" stroke-dasharray="8 8.01"/>
</g>
<g stroke="#262626" stroke-width="2" fill="none">
<rect x="133.5" y="59.3" width="1695.9" height="727"/>
<path d="M333 59.3v17M333 786.3v-17M532.5 59.3v17M532.5 786.3v-17M732.1 59.3v17M732.1 786.3v-17M931.6 59.3v17M931.6 786.3v-17M1131.1 59.3v17M1131.1 786.3v-17M1330.6 59.3v17M1330.6 786.3v-17M1530.1 59.3v17M1530.1 786.3v-17M1729.6 59.3v17M1729.6 786.3v-17M133.5 640.9h17M1829.4 640.9h-17M133.5 495.5h17M1829.4 495.5h-17M133.5 350.1h17M1829.4 350.1h-17M133.5 204.7h17M1829.4 204.7h-17"/>
</g>
<text x="134.3" y="844" font-size="47" text-anchor="middle">0</text>
<text x="333.8" y="844" font-size="47" text-anchor="middle">10</text>
<text x="533.3" y="844" font-size="47" text-anchor="middle">20</text>
<text x="732.9" y="844" font-size="47" text-anchor="middle">30</text>
<text x="932.4" y="844" font-size="47" text-anchor="middle">40</text>
<text x="1131.9" y="844" font-size="47" text-anchor="middle">50</text>
<text x="1331.4" y="844" font-size="47" text-anchor="middle">60</text>
<text x="1530.9" y="844" font-size="47" text-anchor="middle">70</text>
<text x="1730.4" y="844" font-size="47" text-anchor="middle">80</text>
<text x="116.6" y="798.7" font-size="47" text-anchor="end">0</text>
<text x="116.6" y="653.3" font-size="47" text-anchor="end">10</text>
<text x="116.6" y="507.9" font-size="47" text-anchor="end">20</text>
<text x="116.6" y="362.5" font-size="47" text-anchor="end">30</text>
<text x="116.6" y="217.1" font-size="47" text-anchor="end">40</text>
<text x="116.6" y="71.7" font-size="47" text-anchor="end">50</text>
<text x="815.7" y="37.5" font-size="50" textLength="186" fill="#000" lengthAdjust="spacingAndGlyphs">Effect of</text>
<text x="1019" y="37.5" font-size="50" font-style="italic" textLength="25.5" fill="#000" lengthAdjust="spacingAndGlyphs">x</text>
<text x="1048.1" y="45.2" font-size="36" font-style="italic" textLength="68.5" fill="#000" lengthAdjust="spacingAndGlyphs">SEI</text>
<text x="1118.8" y="45.2" font-size="36" fill="#000">,0</text>
<text x="892" y="905.9" font-size="50" textLength="114" lengthAdjust="spacingAndGlyphs">Time</text>
<text x="1025.8" y="910" font-size="60" textLength="12.6" lengthAdjust="spacingAndGlyphs">[</text>
<text x="1037.6" y="905.9" font-size="50" textLength="20.5" lengthAdjust="spacingAndGlyphs">s</text>
<text x="1056.3" y="910" font-size="60" textLength="12.6" lengthAdjust="spacingAndGlyphs">]</text>
<g transform="translate(40.4 548) rotate(-90)">
<text x="-1.5" y="0" font-size="52" textLength="40.5" lengthAdjust="spacingAndGlyphs">Δ</text>
<text x="40.5" y="0" font-size="50" font-style="italic">σ</text>
<text x="69.7" y="6.4" font-size="35" textLength="49.6" lengthAdjust="spacing">cell</text>
<text x="142.2" y="3.3" font-size="60" textLength="12.6" lengthAdjust="spacingAndGlyphs">[</text>
<text x="153" y="0" font-size="50" textLength="86.5" lengthAdjust="spacingAndGlyphs">kPa</text>
<text x="238.3" y="3.3" font-size="60" textLength="12.6" lengthAdjust="spacingAndGlyphs">]</text>
</g>
<text x="732.6" y="159.4" font-size="50" textLength="534.5" fill="#000" lengthAdjust="spacingAndGlyphs">Critical venting pressure</text>
<rect x="167.3" y="91.2" width="403.2" height="571.5" fill="#fff" stroke="#262626" stroke-width="1.8"/>
<path d="M180.6 122.3H305.3" stroke="#000" stroke-width="9" fill="none"/>
<text x="314.8" y="131.5" font-size="41" textLength="90" fill="#000" lengthAdjust="spacingAndGlyphs">Data</text>
<path d="M180.6 173.4H305.3" stroke="#fb0606" stroke-opacity="0.1" stroke-width="8.4" stroke-dasharray="31.6 32.5" fill="none"/>
<text x="315.9" y="184.1" font-size="41" font-style="italic" textLength="20.9" fill="#000" lengthAdjust="spacingAndGlyphs">x</text>
<text x="339.8" y="190.4" font-size="29.5" font-style="italic" textLength="56.2" fill="#000" lengthAdjust="spacingAndGlyphs">SEI</text>
<text x="397.7" y="190.4" font-size="29.5" fill="#000">,0</text>
<text x="431.8" y="184.1" font-size="41" textLength="30" fill="#000" lengthAdjust="spacingAndGlyphs">=</text>
<text x="464.6" y="184.1" font-size="41" fill="#000">0.015</text>
<path d="M180.6 224.4H305.3" stroke="#fb0606" stroke-opacity="0.2" stroke-width="8.4" stroke-dasharray="31.6 32.5" fill="none"/>
<text x="315.9" y="235.1" font-size="41" font-style="italic" textLength="20.9" fill="#000" lengthAdjust="spacingAndGlyphs">x</text>
<text x="339.8" y="241.4" font-size="29.5" font-style="italic" textLength="56.2" fill="#000" lengthAdjust="spacingAndGlyphs">SEI</text>
<text x="397.7" y="241.4" font-size="29.5" fill="#000">,0</text>
<text x="431.8" y="235.1" font-size="41" textLength="30" fill="#000" lengthAdjust="spacingAndGlyphs">=</text>
<text x="464.6" y="235.1" font-size="41" fill="#000">0.045</text>
<path d="M180.6 275.4H305.3" stroke="#fb0606" stroke-opacity="0.3" stroke-width="8.4" stroke-dasharray="31.6 32.5" fill="none"/>
<text x="315.9" y="286.1" font-size="41" font-style="italic" textLength="20.9" fill="#000" lengthAdjust="spacingAndGlyphs">x</text>
<text x="339.8" y="292.4" font-size="29.5" font-style="italic" textLength="56.2" fill="#000" lengthAdjust="spacingAndGlyphs">SEI</text>
<text x="397.7" y="292.4" font-size="29.5" fill="#000">,0</text>
<text x="431.8" y="286.1" font-size="41" textLength="30" fill="#000" lengthAdjust="spacingAndGlyphs">=</text>
<text x="464.6" y="286.1" font-size="41" fill="#000">0.075</text>
<path d="M180.6 326.4H305.3" stroke="#fb0606" stroke-opacity="0.4" stroke-width="8.4" stroke-dasharray="31.6 32.5" fill="none"/>
<text x="315.9" y="337.1" font-size="41" font-style="italic" textLength="20.9" fill="#000" lengthAdjust="spacingAndGlyphs">x</text>
<text x="339.8" y="343.4" font-size="29.5" font-style="italic" textLength="56.2" fill="#000" lengthAdjust="spacingAndGlyphs">SEI</text>
<text x="397.7" y="343.4" font-size="29.5" fill="#000">,0</text>
<text x="431.8" y="337.1" font-size="41" textLength="30" fill="#000" lengthAdjust="spacingAndGlyphs">=</text>
<text x="464.6" y="337.1" font-size="41" fill="#000">0.1</text>
<path d="M180.6 377.4H305.3" stroke="#fb0606" stroke-opacity="0.5" stroke-width="8.4" stroke-dasharray="31.6 32.5" fill="none"/>
<text x="315.9" y="388.1" font-size="41" font-style="italic" textLength="20.9" fill="#000" lengthAdjust="spacingAndGlyphs">x</text>
<text x="339.8" y="394.5" font-size="29.5" font-style="italic" textLength="56.2" fill="#000" lengthAdjust="spacingAndGlyphs">SEI</text>
<text x="397.7" y="394.5" font-size="29.5" fill="#000">,0</text>
<text x="431.8" y="388.1" font-size="41" textLength="30" fill="#000" lengthAdjust="spacingAndGlyphs">=</text>
<text x="464.6" y="388.1" font-size="41" fill="#000">0.14</text>
<path d="M180.6 428.4H305.3" stroke="#fb0606" stroke-opacity="0.6" stroke-width="8.4" stroke-dasharray="31.6 32.5" fill="none"/>
<text x="315.9" y="439.1" font-size="41" font-style="italic" textLength="20.9" fill="#000" lengthAdjust="spacingAndGlyphs">x</text>
<text x="339.8" y="445.5" font-size="29.5" font-style="italic" textLength="56.2" fill="#000" lengthAdjust="spacingAndGlyphs">SEI</text>
<text x="397.7" y="445.5" font-size="29.5" fill="#000">,0</text>
<text x="431.8" y="439.1" font-size="41" textLength="30" fill="#000" lengthAdjust="spacingAndGlyphs">=</text>
<text x="464.6" y="439.1" font-size="41" fill="#000">0.15</text>
<path d="M180.6 479.5H305.3" stroke="#fb0606" stroke-opacity="0.7" stroke-width="8.4" stroke-dasharray="31.6 32.5" fill="none"/>
<text x="315.9" y="490.2" font-size="41" font-style="italic" textLength="20.9" fill="#000" lengthAdjust="spacingAndGlyphs">x</text>
<text x="339.8" y="496.5" font-size="29.5" font-style="italic" textLength="56.2" fill="#000" lengthAdjust="spacingAndGlyphs">SEI</text>
<text x="397.7" y="496.5" font-size="29.5" fill="#000">,0</text>
<text x="431.8" y="490.2" font-size="41" textLength="30" fill="#000" lengthAdjust="spacingAndGlyphs">=</text>
<text x="464.6" y="490.2" font-size="41" fill="#000">0.22</text>
<path d="M180.6 530.5H305.3" stroke="#fb0606" stroke-opacity="0.8" stroke-width="8.4" stroke-dasharray="31.6 32.5" fill="none"/>
<text x="315.9" y="541.2" font-size="41" font-style="italic" textLength="20.9" fill="#000" lengthAdjust="spacingAndGlyphs">x</text>
<text x="339.8" y="547.5" font-size="29.5" font-style="italic" textLength="56.2" fill="#000" lengthAdjust="spacingAndGlyphs">SEI</text>
<text x="397.7" y="547.5" font-size="29.5" fill="#000">,0</text>
<text x="431.8" y="541.2" font-size="41" textLength="30" fill="#000" lengthAdjust="spacingAndGlyphs">=</text>
<text x="464.6" y="541.2" font-size="41" fill="#000">0.3</text>
<path d="M180.6 581.5H305.3" stroke="#fb0606" stroke-opacity="0.9" stroke-width="8.4" stroke-dasharray="31.6 32.5" fill="none"/>
<text x="315.9" y="592.2" font-size="41" font-style="italic" textLength="20.9" fill="#000" lengthAdjust="spacingAndGlyphs">x</text>
<text x="339.8" y="598.5" font-size="29.5" font-style="italic" textLength="56.2" fill="#000" lengthAdjust="spacingAndGlyphs">SEI</text>
<text x="397.7" y="598.5" font-size="29.5" fill="#000">,0</text>
<text x="431.8" y="592.2" font-size="41" textLength="30" fill="#000" lengthAdjust="spacingAndGlyphs">=</text>
<text x="464.6" y="592.2" font-size="41" fill="#000">0.38</text>
<path d="M180.6 632.5H305.3" stroke="#fb0606" stroke-opacity="1" stroke-width="8.4" stroke-dasharray="31.6 32.5" fill="none"/>
<text x="315.9" y="643.2" font-size="41" font-style="italic" textLength="20.9" fill="#000" lengthAdjust="spacingAndGlyphs">x</text>
<text x="339.8" y="649.5" font-size="29.5" font-style="italic" textLength="56.2" fill="#000" lengthAdjust="spacingAndGlyphs">SEI</text>
<text x="397.7" y="649.5" font-size="29.5" fill="#000">,0</text>
<text x="431.8" y="643.2" font-size="41" textLength="30" fill="#000" lengthAdjust="spacingAndGlyphs">=</text>
<text x="464.6" y="643.2" font-size="41" fill="#000">0.45</text>
<g fill="#000" stroke="#000">
<path d="M1446 548L1146.5 377" stroke-width="4.4" fill="none"/>
<path d="M1117.6 360.3L1162.8 368.2L1146.3 377L1146.6 395L1117.6 360.3Z" stroke-width="2.4" stroke-linejoin="round"/>
<path d="M1249 736H1172" stroke-width="4.6" fill="none"/>
<path d="M1139.3 736L1181.6 719.8L1172 736L1181.6 752.2Z" stroke-width="2.4" stroke-linejoin="round"/>
<path d="M1577.5 727V702" stroke-width="4.6" fill="none"/>
<path d="M1577.5 670.2L1594 713L1577.5 702.5L1561 713Z" stroke-width="2.4" stroke-linejoin="round"/>
</g>
<text x="1435.5" y="568.2" font-size="74" textLength="47.7" fill="#000" lengthAdjust="spacingAndGlyphs">↑</text>
<text x="1487.3" y="561.2" font-size="50" font-style="italic" textLength="25.5" fill="#000" lengthAdjust="spacingAndGlyphs">x</text>
<text x="1516.4" y="568.9" font-size="36" font-style="italic" textLength="68.5" fill="#000" lengthAdjust="spacingAndGlyphs">SEI</text>
<text x="1587.1" y="568.9" font-size="36" fill="#000">,0</text>
<text x="1250.6" y="747.7" font-size="52" textLength="40.5" fill="#000" lengthAdjust="spacingAndGlyphs">Δ</text>
<text x="1291" y="747.7" font-size="50" font-style="italic" fill="#000">σ</text>
<text x="1320" y="754.1" font-size="34" textLength="48" lengthAdjust="spacing" fill="#000">gas</text>
<text x="1483.4" y="768.7" font-size="52" textLength="40.5" fill="#000" lengthAdjust="spacingAndGlyphs">Δ</text>
<text x="1524" y="768.7" font-size="50" font-style="italic" fill="#000">σ</text>
<text x="1555" y="775.9" font-size="34" textLength="116.5" lengthAdjust="spacing" fill="#000">thermal</text>
</svg></body></html>
